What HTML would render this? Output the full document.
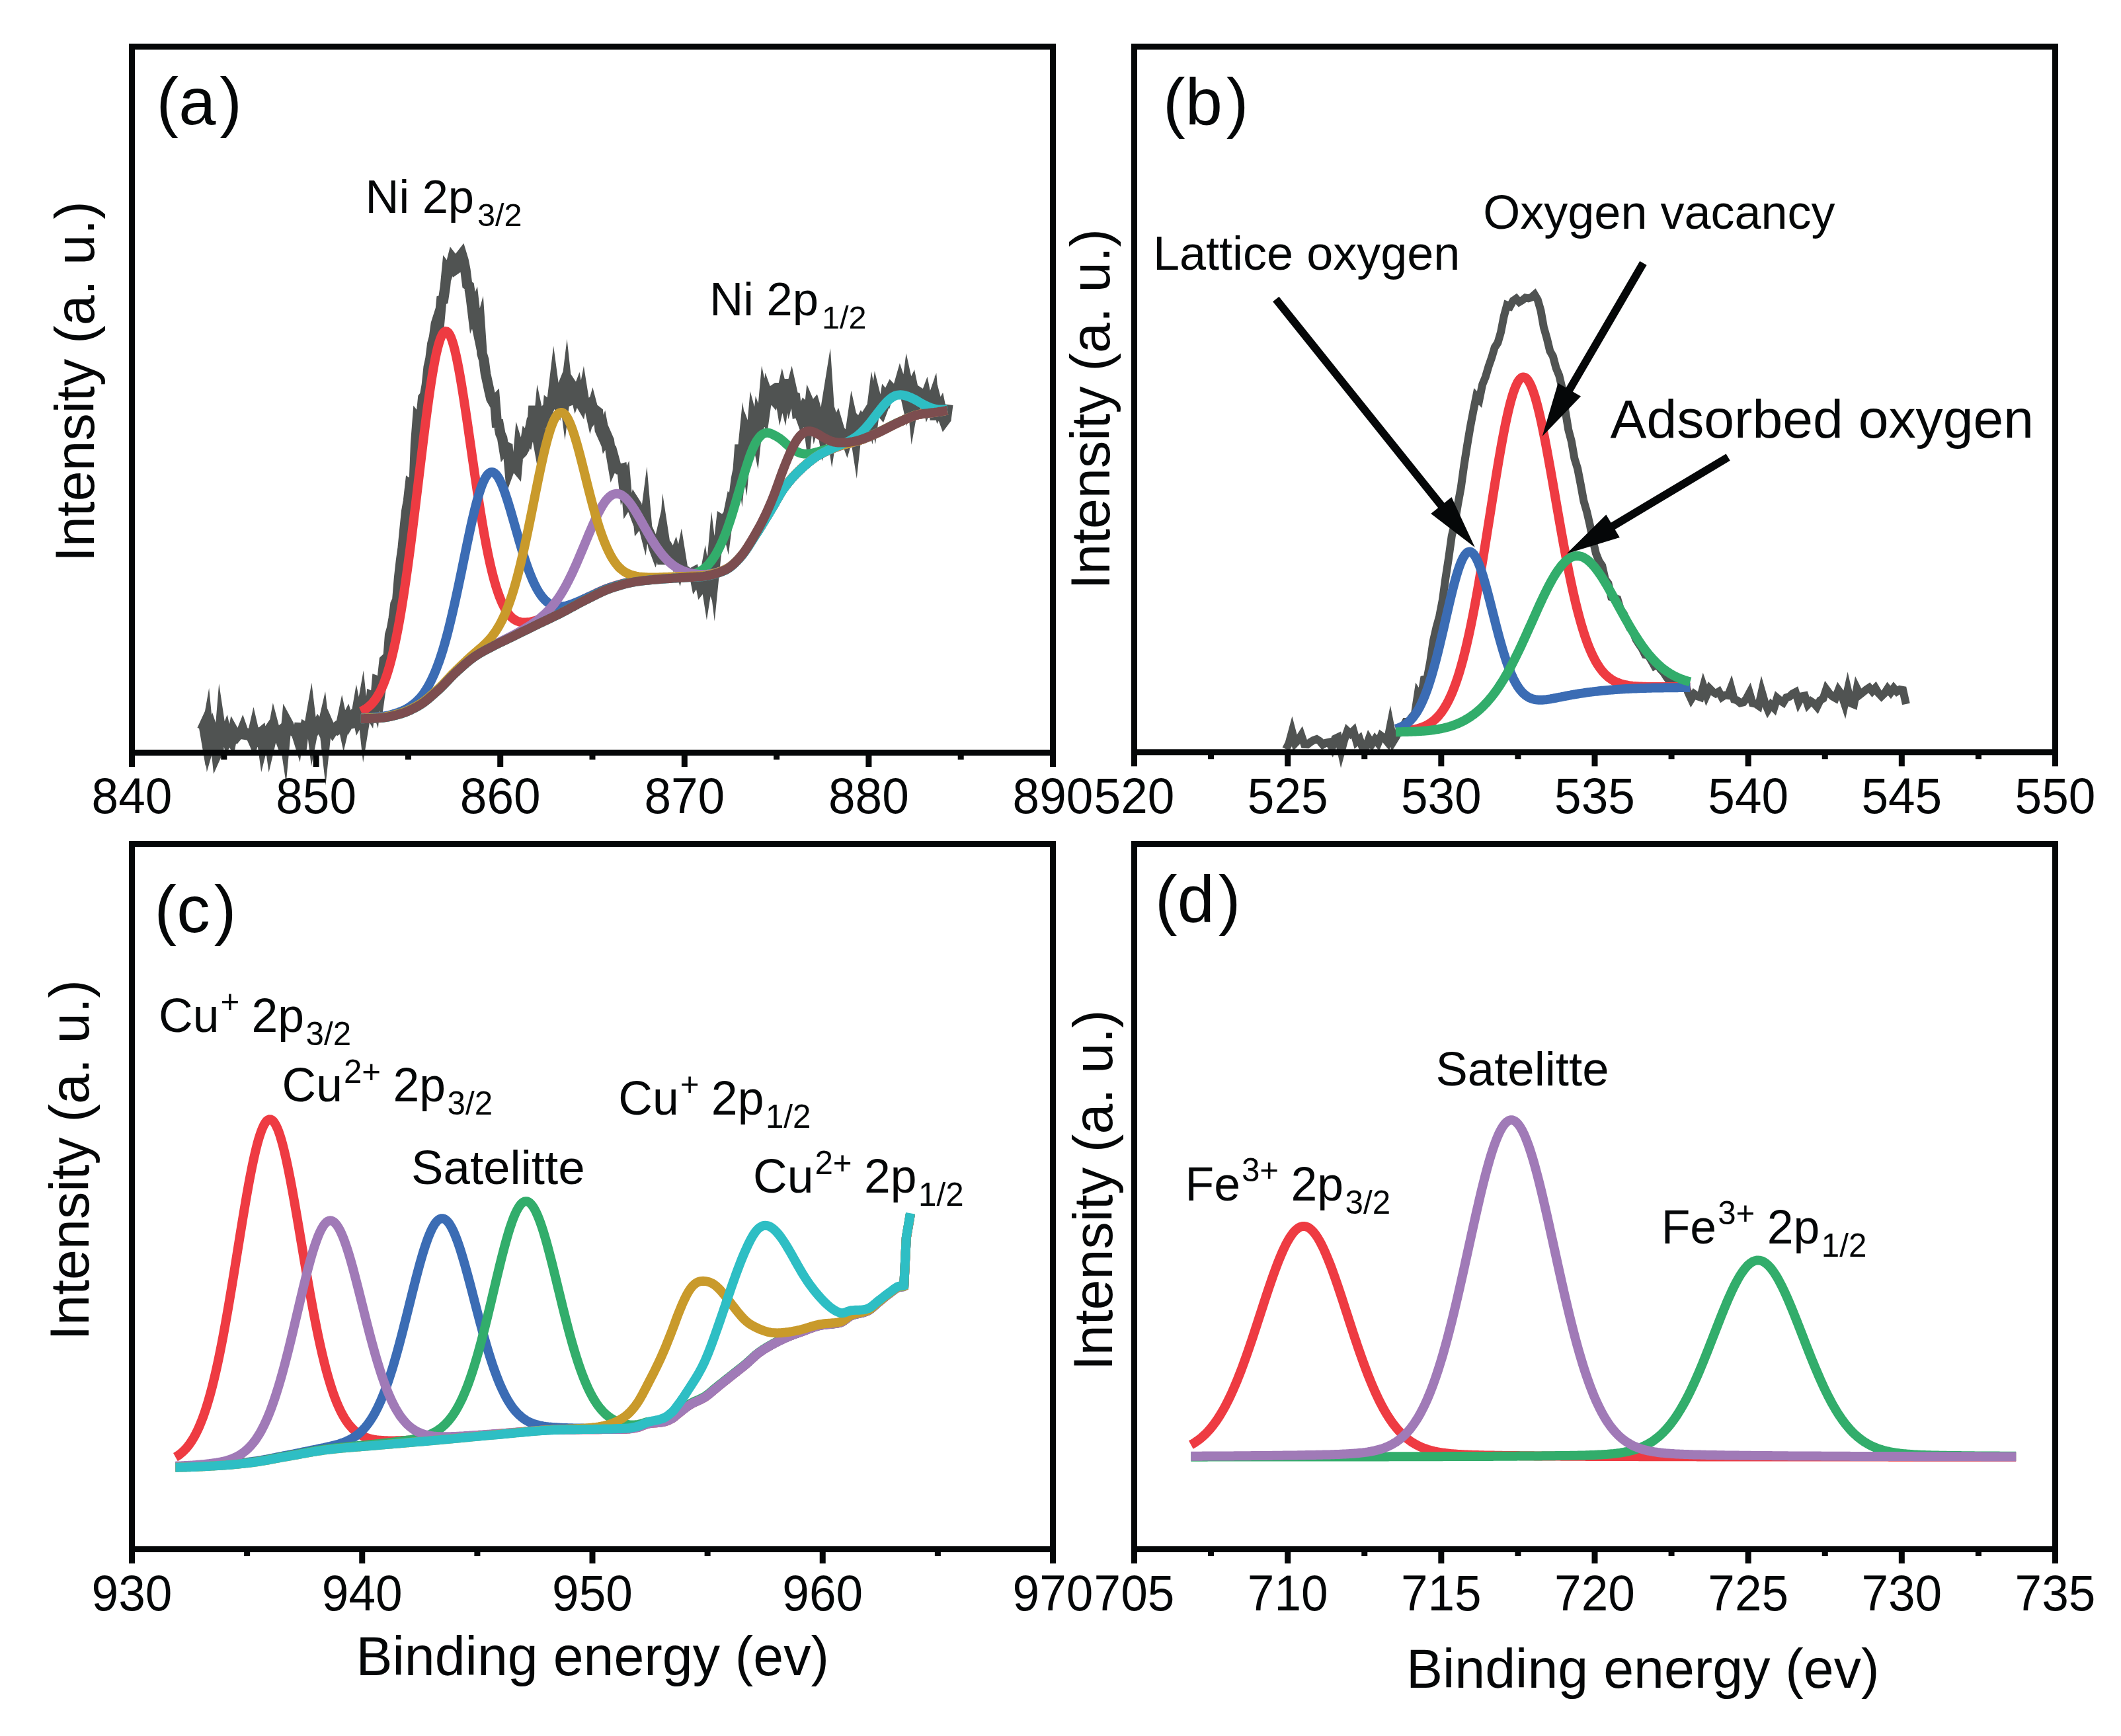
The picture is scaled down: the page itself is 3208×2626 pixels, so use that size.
<!DOCTYPE html>
<html lang="en"><head><meta charset="utf-8"><title>XPS spectra</title>
<style>html,body{margin:0;padding:0;background:#fff}svg{display:block}</style></head>
<body>
<svg width="3208" height="2626" viewBox="0 0 3208 2626" font-family="'Liberation Sans', sans-serif" fill="#050708">
<rect width="3208" height="2626" fill="#ffffff"/>
<g id="curves-a">
<polyline fill="none" stroke="#505352" stroke-width="15.5" stroke-linejoin="miter" stroke-linecap="butt" stroke-miterlimit="10" points="305.5,1104.1 308.3,1098.0 311.1,1114.4 313.9,1098.5 316.6,1126.8 319.4,1117.1 322.2,1105.7 325.0,1114.2 327.8,1141.1 330.6,1134.8 333.4,1101.1 336.1,1119.1 338.9,1114.3 341.7,1107.2 344.5,1119.6 347.3,1114.4 350.1,1119.6 352.9,1105.2 355.6,1110.0 358.4,1113.6 361.2,1110.2 364.0,1110.1 366.8,1103.1 369.6,1111.1 372.4,1111.6 375.2,1109.4 377.9,1109.8 380.7,1116.1 383.5,1103.9 386.3,1116.0 389.1,1108.3 391.9,1110.2 394.7,1107.9 397.4,1127.4 400.2,1116.3 403.0,1109.5 405.8,1105.4 408.6,1126.0 411.4,1114.1 414.2,1098.8 416.9,1109.0 419.7,1108.0 422.5,1115.4 425.3,1104.4 428.1,1102.1 430.9,1120.7 433.7,1090.6 436.4,1095.6 439.2,1103.5 442.0,1103.4 444.8,1106.8 447.6,1107.6 450.4,1116.5 453.2,1093.7 455.9,1134.0 458.7,1112.5 461.5,1099.8 464.3,1101.4 467.1,1101.9 469.9,1085.9 472.7,1109.3 475.4,1095.4 478.2,1100.2 481.0,1094.8 483.8,1098.9 486.6,1104.0 489.4,1091.8 492.2,1116.5 494.9,1090.8 497.7,1097.2 500.5,1100.9 503.3,1106.1 506.1,1101.8 508.9,1099.5 511.7,1103.0 514.5,1101.2 517.2,1088.4 520.0,1101.6 522.8,1089.8 525.6,1084.4 528.4,1093.0 531.2,1088.3 534.0,1093.9 536.7,1093.2 539.5,1077.0 542.3,1090.7 545.1,1085.7 547.9,1069.7 550.7,1095.7 553.5,1078.5 556.2,1073.4 559.0,1078.1 561.8,1053.0 564.6,1054.2 567.4,1062.9 570.2,1029.9 573.0,1031.0 575.7,1044.1 578.5,1024.1 581.3,998.6 584.1,996.0 586.9,996.8 589.7,960.4 592.5,950.7 595.2,935.5 598.0,913.7 600.8,907.6 603.6,873.7 606.4,848.6 609.2,828.5 612.0,799.7 614.7,773.4 617.5,757.5 620.3,732.9 623.1,734.8 625.9,740.1 628.7,670.5 631.5,634.1 634.2,637.6 637.0,629.5 639.8,601.5 642.6,597.9 645.4,582.1 648.2,555.3 651.0,542.5 653.8,519.9 656.5,510.0 659.3,489.8 662.1,481.0 664.9,484.5 667.7,454.0 670.5,453.1 673.3,434.2 676.0,406.4 678.8,410.1 681.6,401.6 684.4,390.5 687.2,394.1 690.0,406.7 692.8,404.7 695.5,388.2 698.3,384.6 701.1,393.8 703.9,408.2 706.7,430.7 709.5,432.7 712.3,450.8 715.0,473.1 717.8,465.8 720.6,490.8 723.4,504.3 726.2,494.0 729.0,535.0 731.8,544.4 734.5,565.3 737.3,578.2 740.1,591.4 742.9,603.3 745.7,608.2 748.5,605.3 751.3,640.2 754.0,640.7 756.8,656.0 759.6,662.5 762.4,679.6 765.2,675.7 768.0,677.0 770.8,710.2 773.5,702.9 776.3,700.3 779.1,705.7 781.9,709.1 784.7,677.6 787.5,686.6 790.3,683.8 793.1,678.7 795.8,661.0 798.6,664.0 801.4,649.7 804.2,653.5 807.0,614.0 809.8,646.3 812.6,661.8 815.3,633.0 818.1,646.3 820.9,624.5 823.7,621.4 826.5,646.4 829.3,612.2 832.1,614.3 834.8,607.8 837.6,584.5 840.4,605.2 843.2,610.8 846.0,590.9 848.8,589.5 851.6,582.5 854.3,603.6 857.1,580.7 859.9,606.7 862.7,605.6 865.5,583.2 868.3,587.4 871.1,599.3 873.8,592.1 876.6,608.1 879.4,612.9 882.2,598.4 885.0,615.9 887.8,615.6 890.6,612.8 893.3,625.1 896.1,615.3 898.9,625.9 901.7,621.1 904.5,623.3 907.3,650.7 910.1,657.0 912.8,649.7 915.6,664.7 918.4,659.8 921.2,666.2 924.0,686.5 926.8,702.9 929.6,696.4 932.4,706.8 935.1,709.6 937.9,709.4 940.7,708.7 943.5,734.6 946.3,728.2 949.1,761.4 951.9,756.9 954.6,764.1 957.4,771.5 960.2,759.6 963.0,764.0 965.8,791.4 968.6,787.8 971.4,788.8 974.1,799.4 976.9,777.8 979.7,810.0 982.5,806.4 985.3,812.5 988.1,827.0 990.9,834.6 993.6,826.1 996.4,822.7 999.2,810.6 1002.0,853.6 1004.8,815.3 1007.6,833.6 1010.4,836.3 1013.1,832.6 1015.9,837.6 1018.7,844.5 1021.5,836.9 1024.3,847.5 1027.1,856.4 1029.9,842.7 1032.6,859.5 1035.4,864.4 1038.2,864.5 1041.0,866.8 1043.8,868.7 1046.6,866.5 1049.4,865.0 1052.1,878.7 1054.9,874.3 1057.7,875.4 1060.5,889.1 1063.3,885.5 1066.1,870.3 1068.9,888.1 1071.7,870.2 1074.4,877.9 1077.2,846.9 1080.0,869.7 1082.8,841.7 1085.6,823.7 1088.4,810.9 1091.2,786.2 1093.9,787.9 1096.7,784.2 1099.5,796.0 1102.3,774.1 1105.1,760.3 1107.9,763.7 1110.7,745.1 1113.4,724.1 1116.2,710.4 1119.0,672.9 1121.8,696.5 1124.6,669.0 1127.4,687.1 1130.2,656.8 1132.9,664.3 1135.7,666.9 1138.5,635.7 1141.3,646.1 1144.1,659.7 1146.9,633.5 1149.7,641.3 1152.4,634.6 1155.2,603.7 1158.0,616.4 1160.8,596.2 1163.6,604.1 1166.4,600.3 1169.2,603.6 1171.9,588.5 1174.7,586.6 1177.5,586.1 1180.3,603.3 1183.1,590.9 1185.9,602.3 1188.7,580.9 1191.4,580.4 1194.2,597.2 1197.0,586.5 1199.8,599.1 1202.6,600.2 1205.4,624.0 1208.2,623.2 1211.0,631.0 1213.7,620.6 1216.5,614.4 1219.3,617.1 1222.1,638.2 1224.9,611.6 1227.7,618.1 1230.5,614.8 1233.2,634.1 1236.0,624.1 1238.8,633.7 1241.6,638.7 1244.4,654.4 1247.2,639.2 1250.0,612.1 1252.7,595.3 1255.5,636.8 1258.3,655.6 1261.1,637.4 1263.9,645.9 1266.7,639.4 1269.5,648.8 1272.2,658.7 1275.0,656.8 1277.8,660.2 1280.6,667.8 1283.4,658.1 1286.2,653.1 1289.0,633.8 1291.7,646.0 1294.5,664.3 1297.3,638.7 1300.1,641.7 1302.9,635.9 1305.7,640.2 1308.5,642.3 1311.2,626.6 1314.0,622.1 1316.8,632.4 1319.6,610.2 1322.4,624.3 1325.2,602.9 1328.0,614.2 1330.7,620.5 1333.5,623.9 1336.3,616.5 1339.1,598.8 1341.9,602.2 1344.7,592.7 1347.5,587.0 1350.3,590.0 1353.0,593.2 1355.8,588.6 1358.6,585.7 1361.4,575.8 1364.2,584.4 1367.0,587.2 1369.8,599.9 1372.5,579.3 1375.3,592.1 1378.1,586.5 1380.9,615.6 1383.7,599.8 1386.5,613.0 1389.3,607.8 1392.0,594.6 1394.8,596.4 1397.6,605.7 1400.4,598.1 1403.2,611.9 1406.0,604.8 1408.8,608.7 1411.5,601.0 1414.3,635.0 1417.1,609.9 1419.9,620.7 1422.7,615.7 1425.5,629.6 1428.3,637.4 1431.0,633.8 1433.8,611.9"/>
<polyline fill="none" stroke="#EE3B42" stroke-width="14.0" stroke-linejoin="round" stroke-linecap="butt" points="545.9,1076.2 547.9,1075.3 549.9,1074.3 551.9,1073.1 553.9,1071.9 555.9,1070.4 557.9,1068.8 559.9,1067.0 561.9,1065.1 563.9,1062.9 565.9,1060.4 567.9,1057.7 569.9,1054.8 571.9,1051.5 573.9,1048.0 575.9,1044.1 577.9,1039.8 579.9,1035.2 581.9,1030.0 583.9,1024.5 585.9,1018.4 587.9,1011.9 589.9,1004.8 591.9,997.2 593.9,989.1 595.9,980.4 597.9,971.2 599.9,961.4 601.9,951.1 603.9,940.2 605.9,928.7 607.9,916.7 609.9,904.0 611.9,890.8 613.9,877.1 615.9,862.9 617.9,848.2 619.9,833.0 621.9,817.5 623.9,801.6 625.9,785.4 627.9,769.0 629.9,752.5 631.9,735.8 633.9,719.1 635.9,702.5 637.9,685.9 639.9,669.4 641.9,653.2 643.9,637.4 645.9,622.0 647.9,607.2 649.9,593.0 651.9,579.5 653.9,566.9 655.9,555.2 657.9,544.4 659.9,534.8 661.9,526.4 663.9,519.1 665.9,512.9 667.9,508.1 669.9,504.4 671.9,502.1 673.9,501.1 675.9,501.4 677.9,503.0 679.9,505.9 681.9,510.0 683.9,515.4 685.9,521.9 687.9,529.5 689.9,538.1 691.9,547.7 693.9,558.1 695.9,569.2 697.9,581.0 699.9,593.3 701.9,606.1 703.9,619.3 705.9,632.8 707.9,646.5 709.9,660.4 711.9,674.4 713.9,688.4 715.9,702.3 717.9,716.2 719.9,729.8 721.9,743.3 723.9,756.4 725.9,769.3 727.9,781.7 729.9,793.7 731.9,805.3 733.9,816.3 735.9,826.9 737.9,837.0 739.9,846.5 741.9,855.5 743.9,863.9 745.9,871.8 747.9,879.2 749.9,886.1 751.9,892.4 753.9,898.3 755.9,903.7 757.9,908.6 759.9,913.1 761.9,917.2 763.9,920.9 765.9,924.2 767.9,927.1 769.9,929.7 771.9,932.0 773.9,934.0 775.9,935.6 777.9,937.1 779.9,938.3 781.9,939.3 783.9,940.0 785.9,940.7 787.9,941.1 789.9,941.4 791.9,941.5 793.9,941.6 795.9,941.5 797.9,941.3 799.9,941.1 801.9,940.8 803.9,940.4 805.9,939.9 807.9,939.4 809.9,938.8 811.9,938.2 813.9,937.6 815.9,937.0 817.9,936.3 819.9,935.6 821.9,934.8 823.9,934.1 825.9,933.3 827.9,932.6 829.9,931.8 831.9,931.0 833.9,930.1 835.9,929.3 837.9,928.4 839.9,927.6 841.9,926.7 843.9,925.8 845.9,924.9 847.9,924.0 849.9,923.0 851.9,922.1 853.9,921.1 855.9,920.1 857.9,919.1 859.9,918.1 861.9,917.1 863.9,916.1 865.9,915.0 867.9,914.0 869.9,913.0 871.9,911.9 873.9,910.9 875.9,909.9 877.9,908.9 879.9,907.9 881.9,906.9 883.9,906.0 885.9,905.0 887.9,904.1 889.9,903.1 891.9,902.1 893.9,901.2 895.9,900.2 897.9,899.2 899.9,898.2 901.9,897.3 903.9,896.3 905.9,895.4 907.9,894.5 909.9,893.6 911.9,892.7 913.9,891.8 915.9,891.0 917.9,890.2 919.9,889.5 921.9,888.8 923.9,888.1 925.9,887.5 927.9,886.8 929.9,886.2 931.9,885.6 933.9,885.0 935.9,884.4 937.9,883.9 939.9,883.3 941.9,882.8 943.9,882.3 945.9,881.7 947.9,881.3 949.9,880.8 951.9,880.4 953.9,879.9 955.9,879.6 957.9,879.2 959.9,878.9 961.9,878.6 963.9,878.3 965.9,878.0 967.9,877.8 969.9,877.5 971.9,877.3 973.9,877.1 975.9,876.9 977.9,876.7 979.9,876.5 981.9,876.3 983.9,876.1 985.9,876.0 987.9,875.8 989.9,875.6 991.9,875.5 993.9,875.3 995.9,875.2 997.9,875.0 999.9,874.9 1001.9,874.8 1003.9,874.6 1005.9,874.5 1007.9,874.4 1009.9,874.2 1011.9,874.1 1013.9,874.0 1015.9,873.9 1017.9,873.8 1019.9,873.7 1021.9,873.6 1023.9,873.5 1025.9,873.3 1027.9,873.2 1029.9,873.1 1031.9,873.0 1033.9,872.9 1035.9,872.8 1037.9,872.7 1039.9,872.6 1041.9,872.5 1043.9,872.4 1045.9,872.3 1047.9,872.3 1049.9,872.2 1051.9,872.1 1053.9,872.0 1055.9,871.9 1057.9,871.8 1059.9,871.7 1061.9,871.5 1063.9,871.3 1065.9,871.1 1067.9,870.7 1069.9,870.4 1071.9,870.0 1073.9,869.5 1075.9,869.1 1077.9,868.6 1079.9,868.1 1081.9,867.6 1083.9,867.0 1085.9,866.3 1087.9,865.6 1089.9,864.8 1091.9,864.1 1093.9,863.3 1095.9,862.4 1097.9,861.5 1099.9,860.4 1101.9,859.2 1103.9,857.8 1105.9,856.2 1107.9,854.6 1109.9,852.8 1111.9,850.9 1113.9,848.9 1115.9,846.8 1117.9,844.7 1119.9,842.5 1121.9,840.2 1123.9,837.7 1125.9,835.0 1127.9,832.2 1129.9,829.3 1131.9,826.2 1133.9,823.1 1135.9,819.9 1137.9,816.8 1139.9,813.6 1141.9,810.4 1143.9,807.3 1145.9,804.2 1147.9,801.0 1149.9,797.9 1151.9,794.6 1153.9,791.4 1155.9,788.1 1157.9,784.9 1159.9,781.6 1161.9,778.3 1163.9,775.0 1165.9,771.6 1167.9,768.3 1169.9,765.0 1171.9,761.5 1173.9,757.9 1175.9,754.4 1177.9,750.9 1179.9,747.5 1181.9,744.2 1183.9,741.1 1185.9,738.3 1187.9,735.6 1189.9,733.0 1191.9,730.4 1193.9,728.0 1195.9,725.6 1197.9,723.3 1199.9,721.0 1201.9,718.9 1203.9,716.8 1205.9,714.8 1207.9,712.8 1209.9,710.9 1211.9,709.0 1213.9,707.2 1215.9,705.4 1217.9,703.6 1219.9,701.9 1221.9,700.2 1223.9,698.6 1225.9,697.0 1227.9,695.4 1229.9,694.0 1231.9,692.5 1233.9,691.2 1235.9,689.9 1237.9,688.7 1239.9,687.5 1241.9,686.4 1243.9,685.4 1245.9,684.4 1247.9,683.4 1249.9,682.4 1251.9,681.5 1253.9,680.7 1255.9,679.8 1257.9,679.0 1259.9,678.2 1261.9,677.4 1263.9,676.7 1265.9,676.0 1267.9,675.2 1269.9,674.6 1271.9,673.9 1273.9,673.3 1275.9,672.7 1277.9,672.1 1279.9,671.6 1281.9,671.1 1283.9,670.6 1285.9,670.1 1287.9,669.6 1289.9,669.0 1291.9,668.5 1293.9,668.0 1295.9,667.4 1297.9,666.7 1299.9,666.1 1301.9,665.4 1303.9,664.7 1305.9,663.9 1307.9,663.1 1309.9,662.3 1311.9,661.5 1313.9,660.7 1315.9,659.8 1317.9,658.9 1319.9,658.1 1321.9,657.2 1323.9,656.3 1325.9,655.4 1327.9,654.4 1329.9,653.5 1331.9,652.6 1333.9,651.6 1335.9,650.6 1337.9,649.6 1339.9,648.6 1341.9,647.5 1343.9,646.5 1345.9,645.4 1347.9,644.4 1349.9,643.4 1351.9,642.3 1353.9,641.4 1355.9,640.4 1357.9,639.5 1359.9,638.6 1361.9,637.7 1363.9,636.8 1365.9,635.8 1367.9,634.9 1369.9,634.0 1371.9,633.1 1373.9,632.2 1375.9,631.4 1377.9,630.5 1379.9,629.8 1381.9,629.1 1383.9,628.4 1385.9,627.8 1387.9,627.3 1389.9,626.9 1391.9,626.5 1393.9,626.2 1395.9,625.9 1397.9,625.6 1399.9,625.3 1401.9,625.1 1403.9,624.9 1405.9,624.6 1407.9,624.4 1409.9,624.2 1411.9,624.0 1413.9,623.7 1415.9,623.5 1417.9,623.2 1419.9,622.9 1421.9,622.6 1423.9,622.2 1425.9,621.9 1427.9,621.5 1429.9,621.2 1431.9,620.8 1433.0,620.6"/>
<polyline fill="none" stroke="#3B6CB4" stroke-width="14.0" stroke-linejoin="round" stroke-linecap="butt" points="545.9,1085.8 547.9,1085.8 549.9,1085.7 551.9,1085.6 553.9,1085.6 555.9,1085.5 557.9,1085.4 559.9,1085.2 561.9,1085.1 563.9,1085.0 565.9,1084.8 567.9,1084.6 569.9,1084.5 571.9,1084.3 573.9,1084.1 575.9,1083.9 577.9,1083.7 579.9,1083.5 581.9,1083.2 583.9,1082.8 585.9,1082.4 587.9,1082.0 589.9,1081.5 591.9,1081.0 593.9,1080.4 595.9,1079.8 597.9,1079.2 599.9,1078.5 601.9,1077.9 603.9,1077.1 605.9,1076.4 607.9,1075.6 609.9,1074.7 611.9,1073.8 613.9,1072.7 615.9,1071.6 617.9,1070.4 619.9,1069.1 621.9,1067.7 623.9,1066.2 625.9,1064.7 627.9,1063.0 629.9,1061.2 631.9,1059.3 633.9,1057.3 635.9,1055.1 637.9,1052.7 639.9,1050.1 641.9,1047.2 643.9,1044.2 645.9,1040.9 647.9,1037.5 649.9,1033.8 651.9,1029.8 653.9,1025.7 655.9,1021.3 657.9,1016.7 659.9,1011.8 661.9,1006.6 663.9,1001.2 665.9,995.4 667.9,989.3 669.9,982.9 671.9,976.1 673.9,969.0 675.9,961.6 677.9,953.9 679.9,945.9 681.9,937.7 683.9,929.2 685.9,920.5 687.9,911.6 689.9,902.5 691.9,893.3 693.9,883.9 695.9,874.3 697.9,864.7 699.9,854.9 701.9,845.2 703.9,835.4 705.9,825.7 707.9,816.1 709.9,806.6 711.9,797.3 713.9,788.4 715.9,779.7 717.9,771.4 719.9,763.5 721.9,756.0 723.9,749.1 725.9,742.7 727.9,736.8 729.9,731.6 731.9,727.0 733.9,723.1 735.9,719.9 737.9,717.4 739.9,715.6 741.9,714.5 743.9,714.2 745.9,714.5 747.9,715.6 749.9,717.3 751.9,719.7 753.9,722.7 755.9,726.4 757.9,730.6 759.9,735.3 761.9,740.4 763.9,746.0 765.9,751.9 767.9,758.2 769.9,764.7 771.9,771.3 773.9,778.2 775.9,785.2 777.9,792.2 779.9,799.2 781.9,806.2 783.9,813.2 785.9,820.1 787.9,826.8 789.9,833.5 791.9,839.9 793.9,846.1 795.9,852.1 797.9,857.8 799.9,863.3 801.9,868.5 803.9,873.5 805.9,878.1 807.9,882.5 809.9,886.6 811.9,890.4 813.9,893.9 815.9,897.1 817.9,900.0 819.9,902.7 821.9,905.1 823.9,907.3 825.9,909.2 827.9,910.9 829.9,912.4 831.9,913.7 833.9,914.8 835.9,915.6 837.9,916.3 839.9,916.9 841.9,917.3 843.9,917.5 845.9,917.6 847.9,917.6 849.9,917.5 851.9,917.3 853.9,916.9 855.9,916.5 857.9,916.0 859.9,915.4 861.9,914.8 863.9,914.1 865.9,913.4 867.9,912.6 869.9,911.8 871.9,911.0 873.9,910.1 875.9,909.2 877.9,908.4 879.9,907.5 881.9,906.6 883.9,905.7 885.9,904.8 887.9,903.9 889.9,903.0 891.9,902.1 893.9,901.2 895.9,900.2 897.9,899.3 899.9,898.4 901.9,897.4 903.9,896.5 905.9,895.6 907.9,894.7 909.9,893.8 911.9,892.9 913.9,892.1 915.9,891.3 917.9,890.5 919.9,889.7 921.9,889.0 923.9,888.4 925.9,887.7 927.9,887.1 929.9,886.5 931.9,885.9 933.9,885.3 935.9,884.7 937.9,884.2 939.9,883.6 941.9,883.1 943.9,882.5 945.9,882.0 947.9,881.6 949.9,881.1 951.9,880.7 953.9,880.2 955.9,879.9 957.9,879.5 959.9,879.2 961.9,878.9 963.9,878.6 965.9,878.3 967.9,878.1 969.9,877.8 971.9,877.6 973.9,877.4 975.9,877.2 977.9,877.0 979.9,876.8 981.9,876.6 983.9,876.4 985.9,876.3 987.9,876.1 989.9,875.9 991.9,875.8 993.9,875.6 995.9,875.5 997.9,875.3 999.9,875.2 1001.9,875.0 1003.9,874.9 1005.9,874.8 1007.9,874.6 1009.9,874.5 1011.9,874.4 1013.9,874.3 1015.9,874.2 1017.9,874.1 1019.9,873.9 1021.9,873.8 1023.9,873.7 1025.9,873.6 1027.9,873.5 1029.9,873.4 1031.9,873.3 1033.9,873.2 1035.9,873.1 1037.9,873.0 1039.9,872.9 1041.9,872.8 1043.9,872.7 1045.9,872.6 1047.9,872.5 1049.9,872.4 1051.9,872.4 1053.9,872.3 1055.9,872.2 1057.9,872.1 1059.9,871.9 1061.9,871.8 1063.9,871.6 1065.9,871.3 1067.9,871.0 1069.9,870.6 1071.9,870.2 1073.9,869.8 1075.9,869.3 1077.9,868.8 1079.9,868.3 1081.9,867.8 1083.9,867.2 1085.9,866.5 1087.9,865.8 1089.9,865.1 1091.9,864.3 1093.9,863.5 1095.9,862.7 1097.9,861.7 1099.9,860.6 1101.9,859.4 1103.9,858.0 1105.9,856.5 1107.9,854.8 1109.9,853.0 1111.9,851.1 1113.9,849.1 1115.9,847.0 1117.9,844.9 1119.9,842.7 1121.9,840.4 1123.9,837.9 1125.9,835.2 1127.9,832.4 1129.9,829.5 1131.9,826.4 1133.9,823.3 1135.9,820.2 1137.9,817.0 1139.9,813.8 1141.9,810.6 1143.9,807.5 1145.9,804.4 1147.9,801.2 1149.9,798.1 1151.9,794.8 1153.9,791.6 1155.9,788.3 1157.9,785.1 1159.9,781.8 1161.9,778.4 1163.9,775.1 1165.9,771.8 1167.9,768.5 1169.9,765.2 1171.9,761.7 1173.9,758.1 1175.9,754.6 1177.9,751.1 1179.9,747.7 1181.9,744.4 1183.9,741.3 1185.9,738.4 1187.9,735.7 1189.9,733.1 1191.9,730.6 1193.9,728.1 1195.9,725.8 1197.9,723.4 1199.9,721.2 1201.9,719.0 1203.9,716.9 1205.9,714.9 1207.9,713.0 1209.9,711.1 1211.9,709.2 1213.9,707.4 1215.9,705.6 1217.9,703.8 1219.9,702.1 1221.9,700.4 1223.9,698.7 1225.9,697.1 1227.9,695.6 1229.9,694.1 1231.9,692.7 1233.9,691.3 1235.9,690.0 1237.9,688.8 1239.9,687.7 1241.9,686.6 1243.9,685.5 1245.9,684.5 1247.9,683.5 1249.9,682.6 1251.9,681.7 1253.9,680.8 1255.9,680.0 1257.9,679.1 1259.9,678.3 1261.9,677.6 1263.9,676.8 1265.9,676.1 1267.9,675.4 1269.9,674.7 1271.9,674.0 1273.9,673.4 1275.9,672.8 1277.9,672.3 1279.9,671.7 1281.9,671.2 1283.9,670.7 1285.9,670.2 1287.9,669.7 1289.9,669.2 1291.9,668.6 1293.9,668.1 1295.9,667.5 1297.9,666.9 1299.9,666.2 1301.9,665.5 1303.9,664.8 1305.9,664.0 1307.9,663.3 1309.9,662.5 1311.9,661.6 1313.9,660.8 1315.9,659.9 1317.9,659.1 1319.9,658.2 1321.9,657.3 1323.9,656.4 1325.9,655.5 1327.9,654.6 1329.9,653.7 1331.9,652.7 1333.9,651.7 1335.9,650.8 1337.9,649.7 1339.9,648.7 1341.9,647.7 1343.9,646.6 1345.9,645.6 1347.9,644.5 1349.9,643.5 1351.9,642.5 1353.9,641.5 1355.9,640.5 1357.9,639.6 1359.9,638.7 1361.9,637.8 1363.9,636.9 1365.9,635.9 1367.9,635.0 1369.9,634.1 1371.9,633.2 1373.9,632.3 1375.9,631.5 1377.9,630.6 1379.9,629.9 1381.9,629.2 1383.9,628.5 1385.9,627.9 1387.9,627.4 1389.9,627.0 1391.9,626.6 1393.9,626.3 1395.9,626.0 1397.9,625.7 1399.9,625.4 1401.9,625.2 1403.9,625.0 1405.9,624.7 1407.9,624.5 1409.9,624.3 1411.9,624.1 1413.9,623.8 1415.9,623.6 1417.9,623.3 1419.9,623.0 1421.9,622.7 1423.9,622.3 1425.9,622.0 1427.9,621.6 1429.9,621.3 1431.9,620.9 1433.0,620.7"/>
<polyline fill="none" stroke="#32AD6B" stroke-width="14.0" stroke-linejoin="round" stroke-linecap="butt" points="545.9,1087.1 547.9,1087.1 549.9,1087.1 551.9,1087.1 553.9,1087.0 555.9,1087.0 557.9,1086.9 559.9,1086.8 561.9,1086.7 563.9,1086.6 565.9,1086.5 567.9,1086.4 569.9,1086.2 571.9,1086.1 573.9,1086.0 575.9,1085.8 577.9,1085.7 579.9,1085.5 581.9,1085.2 583.9,1084.9 585.9,1084.6 587.9,1084.2 589.9,1083.8 591.9,1083.4 593.9,1082.9 595.9,1082.4 597.9,1081.9 599.9,1081.4 601.9,1080.9 603.9,1080.3 605.9,1079.7 607.9,1079.1 609.9,1078.5 611.9,1077.8 613.9,1077.0 615.9,1076.2 617.9,1075.3 619.9,1074.4 621.9,1073.5 623.9,1072.5 625.9,1071.5 627.9,1070.5 629.9,1069.4 631.9,1068.3 633.9,1067.1 635.9,1065.9 637.9,1064.6 639.9,1063.2 641.9,1061.8 643.9,1060.2 645.9,1058.6 647.9,1057.0 649.9,1055.3 651.9,1053.6 653.9,1051.8 655.9,1050.1 657.9,1048.3 659.9,1046.5 661.9,1044.7 663.9,1042.9 665.9,1041.0 667.9,1039.0 669.9,1037.0 671.9,1035.0 673.9,1032.9 675.9,1030.8 677.9,1028.7 679.9,1026.6 681.9,1024.5 683.9,1022.5 685.9,1020.5 687.9,1018.5 689.9,1016.7 691.9,1014.8 693.9,1013.0 695.9,1011.2 697.9,1009.4 699.9,1007.6 701.9,1005.8 703.9,1004.1 705.9,1002.4 707.9,1000.7 709.9,999.1 711.9,997.5 713.9,995.9 715.9,994.5 717.9,993.1 719.9,991.7 721.9,990.5 723.9,989.2 725.9,988.0 727.9,986.8 729.9,985.7 731.9,984.6 733.9,983.5 735.9,982.4 737.9,981.4 739.9,980.3 741.9,979.3 743.9,978.3 745.9,977.2 747.9,976.2 749.9,975.2 751.9,974.2 753.9,973.2 755.9,972.2 757.9,971.2 759.9,970.3 761.9,969.3 763.9,968.4 765.9,967.4 767.9,966.5 769.9,965.5 771.9,964.5 773.9,963.6 775.9,962.6 777.9,961.6 779.9,960.6 781.9,959.6 783.9,958.6 785.9,957.7 787.9,956.7 789.9,955.7 791.9,954.7 793.9,953.7 795.9,952.7 797.9,951.7 799.9,950.7 801.9,949.7 803.9,948.7 805.9,947.8 807.9,946.8 809.9,945.8 811.9,944.8 813.9,943.9 815.9,942.9 817.9,942.0 819.9,941.0 821.9,940.1 823.9,939.1 825.9,938.2 827.9,937.2 829.9,936.2 831.9,935.3 833.9,934.3 835.9,933.4 837.9,932.4 839.9,931.4 841.9,930.4 843.9,929.4 845.9,928.4 847.9,927.4 849.9,926.4 851.9,925.4 853.9,924.3 855.9,923.2 857.9,922.2 859.9,921.1 861.9,920.0 863.9,918.9 865.9,917.8 867.9,916.7 869.9,915.6 871.9,914.5 873.9,913.4 875.9,912.4 877.9,911.3 879.9,910.3 881.9,909.2 883.9,908.2 885.9,907.2 887.9,906.2 889.9,905.2 891.9,904.2 893.9,903.2 895.9,902.1 897.9,901.1 899.9,900.1 901.9,899.1 903.9,898.1 905.9,897.1 907.9,896.2 909.9,895.2 911.9,894.3 913.9,893.4 915.9,892.6 917.9,891.7 919.9,891.0 921.9,890.2 923.9,889.5 925.9,888.8 927.9,888.2 929.9,887.5 931.9,886.9 933.9,886.2 935.9,885.6 937.9,885.0 939.9,884.4 941.9,883.9 943.9,883.3 945.9,882.8 947.9,882.2 949.9,881.7 951.9,881.3 953.9,880.8 955.9,880.4 957.9,880.0 959.9,879.6 961.9,879.3 963.9,879.0 965.9,878.7 967.9,878.4 969.9,878.1 971.9,877.9 973.9,877.6 975.9,877.4 977.9,877.2 979.9,876.9 981.9,876.7 983.9,876.5 985.9,876.3 987.9,876.1 989.9,875.9 991.9,875.7 993.9,875.5 995.9,875.3 997.9,875.1 999.9,875.0 1001.9,874.8 1003.9,874.6 1005.9,874.4 1007.9,874.2 1009.9,874.0 1011.9,873.9 1013.9,873.7 1015.9,873.5 1017.9,873.3 1019.9,873.1 1021.9,872.9 1023.9,872.7 1025.9,872.5 1027.9,872.2 1029.9,872.0 1031.9,871.7 1033.9,871.4 1035.9,871.1 1037.9,870.7 1039.9,870.3 1041.9,869.9 1043.9,869.5 1045.9,869.0 1047.9,868.4 1049.9,867.8 1051.9,867.1 1053.9,866.4 1055.9,865.5 1057.9,864.6 1059.9,863.5 1061.9,862.3 1063.9,860.9 1065.9,859.3 1067.9,857.6 1069.9,855.6 1071.9,853.5 1073.9,851.1 1075.9,848.6 1077.9,845.8 1079.9,842.9 1081.9,839.7 1083.9,836.3 1085.9,832.6 1087.9,828.7 1089.9,824.5 1091.9,820.1 1093.9,815.6 1095.9,810.7 1097.9,805.6 1099.9,800.3 1101.9,794.6 1103.9,788.7 1105.9,782.5 1107.9,776.1 1109.9,769.5 1111.9,762.8 1113.9,756.1 1115.9,749.3 1117.9,742.5 1119.9,735.8 1121.9,729.1 1123.9,722.4 1125.9,715.7 1127.9,709.2 1129.9,702.8 1131.9,696.7 1133.9,690.9 1135.9,685.4 1137.9,680.3 1139.9,675.7 1141.9,671.5 1143.9,667.9 1145.9,664.8 1147.9,662.1 1149.9,659.8 1151.9,658.0 1153.9,656.6 1155.9,655.6 1157.9,655.0 1159.9,654.7 1161.9,654.8 1163.9,655.2 1165.9,655.8 1167.9,656.7 1169.9,657.7 1171.9,658.7 1173.9,659.8 1175.9,661.0 1177.9,662.2 1179.9,663.6 1181.9,665.1 1183.9,666.7 1185.9,668.5 1187.9,670.4 1189.9,672.2 1191.9,673.9 1193.9,675.6 1195.9,677.2 1197.9,678.7 1199.9,680.1 1201.9,681.4 1203.9,682.5 1205.9,683.5 1207.9,684.4 1209.9,685.1 1211.9,685.7 1213.9,686.2 1215.9,686.5 1217.9,686.6 1219.9,686.6 1221.9,686.5 1223.9,686.3 1225.9,686.0 1227.9,685.7 1229.9,685.3 1231.9,684.8 1233.9,684.3 1235.9,683.7 1237.9,683.2 1239.9,682.6 1241.9,682.0 1243.9,681.5 1245.9,680.8 1247.9,680.2 1249.9,679.6 1251.9,679.0 1253.9,678.3 1255.9,677.7 1257.9,677.1 1259.9,676.4 1261.9,675.8 1263.9,675.2 1265.9,674.6 1267.9,673.9 1269.9,673.3 1271.9,672.8 1273.9,672.2 1275.9,671.7 1277.9,671.2 1279.9,670.7 1281.9,670.2 1283.9,669.7 1285.9,669.3 1287.9,668.8 1289.9,668.3 1291.9,667.8 1293.9,667.3 1295.9,666.7 1297.9,666.1 1299.9,665.5 1301.9,664.8 1303.9,664.1 1305.9,663.4 1307.9,662.6 1309.9,661.8 1311.9,661.0 1313.9,660.2 1315.9,659.3 1317.9,658.5 1319.9,657.6 1321.9,656.7 1323.9,655.8 1325.9,655.0 1327.9,654.1 1329.9,653.2 1331.9,652.2 1333.9,651.3 1335.9,650.3 1337.9,649.3 1339.9,648.3 1341.9,647.2 1343.9,646.2 1345.9,645.1 1347.9,644.1 1349.9,643.1 1351.9,642.1 1353.9,641.1 1355.9,640.1 1357.9,639.2 1359.9,638.3 1361.9,637.4 1363.9,636.5 1365.9,635.6 1367.9,634.7 1369.9,633.8 1371.9,632.9 1373.9,632.0 1375.9,631.2 1377.9,630.4 1379.9,629.6 1381.9,628.9 1383.9,628.2 1385.9,627.7 1387.9,627.2 1389.9,626.7 1391.9,626.4 1393.9,626.0 1395.9,625.7 1397.9,625.5 1399.9,625.2 1401.9,625.0 1403.9,624.8 1405.9,624.5 1407.9,624.3 1409.9,624.1 1411.9,623.9 1413.9,623.6 1415.9,623.4 1417.9,623.1 1419.9,622.8 1421.9,622.5 1423.9,622.2 1425.9,621.8 1427.9,621.5 1429.9,621.1 1431.9,620.7 1433.0,620.5"/>
<polyline fill="none" stroke="#A07AB7" stroke-width="14.0" stroke-linejoin="round" stroke-linecap="butt" points="545.9,1086.9 547.9,1086.9 549.9,1086.9 551.9,1086.9 553.9,1086.8 555.9,1086.8 557.9,1086.7 559.9,1086.6 561.9,1086.5 563.9,1086.4 565.9,1086.3 567.9,1086.1 569.9,1086.0 571.9,1085.9 573.9,1085.7 575.9,1085.6 577.9,1085.4 579.9,1085.2 581.9,1085.0 583.9,1084.7 585.9,1084.3 587.9,1084.0 589.9,1083.6 591.9,1083.1 593.9,1082.7 595.9,1082.2 597.9,1081.7 599.9,1081.1 601.9,1080.6 603.9,1080.0 605.9,1079.5 607.9,1078.9 609.9,1078.2 611.9,1077.5 613.9,1076.7 615.9,1075.9 617.9,1075.0 619.9,1074.1 621.9,1073.2 623.9,1072.2 625.9,1071.2 627.9,1070.1 629.9,1069.1 631.9,1067.9 633.9,1066.8 635.9,1065.6 637.9,1064.3 639.9,1062.9 641.9,1061.4 643.9,1059.9 645.9,1058.3 647.9,1056.6 649.9,1054.9 651.9,1053.2 653.9,1051.4 655.9,1049.7 657.9,1047.9 659.9,1046.1 661.9,1044.3 663.9,1042.5 665.9,1040.6 667.9,1038.6 669.9,1036.6 671.9,1034.5 673.9,1032.4 675.9,1030.3 677.9,1028.2 679.9,1026.1 681.9,1024.0 683.9,1022.0 685.9,1020.0 687.9,1018.0 689.9,1016.1 691.9,1014.3 693.9,1012.5 695.9,1010.6 697.9,1008.8 699.9,1007.0 701.9,1005.2 703.9,1003.5 705.9,1001.8 707.9,1000.1 709.9,998.4 711.9,996.8 713.9,995.3 715.9,993.8 717.9,992.4 719.9,991.0 721.9,989.7 723.9,988.5 725.9,987.3 727.9,986.1 729.9,984.9 731.9,983.8 733.9,982.7 735.9,981.6 737.9,980.5 739.9,979.5 741.9,978.4 743.9,977.3 745.9,976.3 747.9,975.2 749.9,974.2 751.9,973.1 753.9,972.1 755.9,971.1 757.9,970.1 759.9,969.1 761.9,968.1 763.9,967.1 765.9,966.1 767.9,965.1 769.9,964.1 771.9,963.1 773.9,962.0 775.9,961.0 777.9,959.9 779.9,958.8 781.9,957.7 783.9,956.6 785.9,955.5 787.9,954.4 789.9,953.2 791.9,952.0 793.9,950.8 795.9,949.6 797.9,948.4 799.9,947.1 801.9,945.8 803.9,944.5 805.9,943.1 807.9,941.7 809.9,940.3 811.9,938.8 813.9,937.3 815.9,935.7 817.9,934.1 819.9,932.4 821.9,930.7 823.9,928.9 825.9,927.0 827.9,925.0 829.9,922.9 831.9,920.8 833.9,918.5 835.9,916.1 837.9,913.7 839.9,911.1 841.9,908.4 843.9,905.6 845.9,902.6 847.9,899.6 849.9,896.3 851.9,893.0 853.9,889.5 855.9,885.9 857.9,882.1 859.9,878.2 861.9,874.2 863.9,870.1 865.9,865.9 867.9,861.5 869.9,857.1 871.9,852.6 873.9,848.0 875.9,843.3 877.9,838.6 879.9,833.8 881.9,829.0 883.9,824.2 885.9,819.4 887.9,814.6 889.9,809.8 891.9,805.1 893.9,800.4 895.9,795.8 897.9,791.2 899.9,786.8 901.9,782.5 903.9,778.3 905.9,774.3 907.9,770.6 909.9,767.0 911.9,763.7 913.9,760.6 915.9,757.8 917.9,755.4 919.9,753.2 921.9,751.3 923.9,749.8 925.9,748.6 927.9,747.7 929.9,747.1 931.9,746.8 933.9,746.8 935.9,747.2 937.9,747.8 939.9,748.8 941.9,750.0 943.9,751.5 945.9,753.2 947.9,755.2 949.9,757.4 951.9,759.9 953.9,762.5 955.9,765.3 957.9,768.3 959.9,771.4 961.9,774.6 963.9,778.0 965.9,781.4 967.9,784.9 969.9,788.5 971.9,792.0 973.9,795.6 975.9,799.1 977.9,802.6 979.9,806.1 981.9,809.6 983.9,813.0 985.9,816.3 987.9,819.5 989.9,822.6 991.9,825.7 993.9,828.6 995.9,831.5 997.9,834.2 999.9,836.8 1001.9,839.3 1003.9,841.6 1005.9,843.9 1007.9,846.0 1009.9,848.0 1011.9,849.9 1013.9,851.6 1015.9,853.3 1017.9,854.9 1019.9,856.3 1021.9,857.6 1023.9,858.9 1025.9,860.0 1027.9,861.1 1029.9,862.0 1031.9,862.9 1033.9,863.7 1035.9,864.5 1037.9,865.1 1039.9,865.7 1041.9,866.2 1043.9,866.7 1045.9,867.2 1047.9,867.6 1049.9,867.9 1051.9,868.3 1053.9,868.5 1055.9,868.7 1057.9,868.9 1059.9,869.0 1061.9,869.1 1063.9,869.1 1065.9,869.1 1067.9,868.9 1069.9,868.7 1071.9,868.4 1073.9,868.1 1075.9,867.8 1077.9,867.4 1079.9,867.0 1081.9,866.5 1083.9,866.0 1085.9,865.4 1087.9,864.7 1089.9,864.1 1091.9,863.3 1093.9,862.6 1095.9,861.8 1097.9,860.8 1099.9,859.8 1101.9,858.6 1103.9,857.2 1105.9,855.7 1107.9,854.1 1109.9,852.3 1111.9,850.4 1113.9,848.5 1115.9,846.4 1117.9,844.3 1119.9,842.1 1121.9,839.8 1123.9,837.4 1125.9,834.7 1127.9,831.9 1129.9,829.0 1131.9,825.9 1133.9,822.8 1135.9,819.7 1137.9,816.5 1139.9,813.3 1141.9,810.2 1143.9,807.1 1145.9,804.0 1147.9,800.8 1149.9,797.7 1151.9,794.4 1153.9,791.2 1155.9,788.0 1157.9,784.7 1159.9,781.4 1161.9,778.1 1163.9,774.8 1165.9,771.5 1167.9,768.2 1169.9,764.8 1171.9,761.4 1173.9,757.8 1175.9,754.3 1177.9,750.8 1179.9,747.4 1181.9,744.1 1183.9,741.0 1185.9,738.2 1187.9,735.5 1189.9,732.9 1191.9,730.3 1193.9,727.9 1195.9,725.5 1197.9,723.2 1199.9,721.0 1201.9,718.8 1203.9,716.7 1205.9,714.7 1207.9,712.7 1209.9,710.8 1211.9,709.0 1213.9,707.2 1215.9,705.4 1217.9,703.6 1219.9,701.9 1221.9,700.2 1223.9,698.6 1225.9,697.0 1227.9,695.4 1229.9,693.9 1231.9,692.5 1233.9,691.2 1235.9,689.9 1237.9,688.7 1239.9,687.5 1241.9,686.4 1243.9,685.4 1245.9,684.4 1247.9,683.4 1249.9,682.4 1251.9,681.5 1253.9,680.7 1255.9,679.8 1257.9,679.0 1259.9,678.2 1261.9,677.4 1263.9,676.7 1265.9,676.0 1267.9,675.3 1269.9,674.6 1271.9,673.9 1273.9,673.3 1275.9,672.7 1277.9,672.2 1279.9,671.6 1281.9,671.1 1283.9,670.6 1285.9,670.1 1287.9,669.6 1289.9,669.1 1291.9,668.5 1293.9,668.0 1295.9,667.4 1297.9,666.8 1299.9,666.1 1301.9,665.4 1303.9,664.7 1305.9,664.0 1307.9,663.2 1309.9,662.4 1311.9,661.6 1313.9,660.7 1315.9,659.9 1317.9,659.0 1319.9,658.1 1321.9,657.2 1323.9,656.3 1325.9,655.4 1327.9,654.5 1329.9,653.6 1331.9,652.6 1333.9,651.7 1335.9,650.7 1337.9,649.7 1339.9,648.6 1341.9,647.6 1343.9,646.5 1345.9,645.5 1347.9,644.4 1349.9,643.4 1351.9,642.4 1353.9,641.4 1355.9,640.4 1357.9,639.5 1359.9,638.6 1361.9,637.7 1363.9,636.8 1365.9,635.9 1367.9,635.0 1369.9,634.1 1371.9,633.1 1373.9,632.3 1375.9,631.4 1377.9,630.6 1379.9,629.8 1381.9,629.1 1383.9,628.5 1385.9,627.9 1387.9,627.4 1389.9,626.9 1391.9,626.6 1393.9,626.2 1395.9,625.9 1397.9,625.7 1399.9,625.4 1401.9,625.2 1403.9,624.9 1405.9,624.7 1407.9,624.5 1409.9,624.3 1411.9,624.0 1413.9,623.8 1415.9,623.5 1417.9,623.3 1419.9,623.0 1421.9,622.6 1423.9,622.3 1425.9,622.0 1427.9,621.6 1429.9,621.2 1431.9,620.9 1433.0,620.7"/>
<polyline fill="none" stroke="#C99A2B" stroke-width="14.0" stroke-linejoin="round" stroke-linecap="butt" points="545.9,1086.5 547.9,1086.5 549.9,1086.4 551.9,1086.4 553.9,1086.3 555.9,1086.2 557.9,1086.2 559.9,1086.1 561.9,1086.0 563.9,1085.8 565.9,1085.7 567.9,1085.6 569.9,1085.4 571.9,1085.3 573.9,1085.1 575.9,1085.0 577.9,1084.8 579.9,1084.6 581.9,1084.4 583.9,1084.1 585.9,1083.7 587.9,1083.3 589.9,1082.9 591.9,1082.5 593.9,1082.0 595.9,1081.5 597.9,1081.0 599.9,1080.4 601.9,1079.9 603.9,1079.3 605.9,1078.7 607.9,1078.1 609.9,1077.4 611.9,1076.7 613.9,1075.9 615.9,1075.1 617.9,1074.2 619.9,1073.3 621.9,1072.3 623.9,1071.3 625.9,1070.3 627.9,1069.2 629.9,1068.1 631.9,1067.0 633.9,1065.8 635.9,1064.6 637.9,1063.2 639.9,1061.8 641.9,1060.3 643.9,1058.8 645.9,1057.2 647.9,1055.5 649.9,1053.8 651.9,1052.0 653.9,1050.2 655.9,1048.4 657.9,1046.6 659.9,1044.8 661.9,1042.9 663.9,1041.1 665.9,1039.1 667.9,1037.1 669.9,1035.1 671.9,1033.0 673.9,1030.9 675.9,1028.7 677.9,1026.6 679.9,1024.4 681.9,1022.3 683.9,1020.2 685.9,1018.1 687.9,1016.1 689.9,1014.1 691.9,1012.2 693.9,1010.3 695.9,1008.4 697.9,1006.4 699.9,1004.5 701.9,1002.6 703.9,1000.7 705.9,998.8 707.9,997.0 709.9,995.1 711.9,993.3 713.9,991.5 715.9,989.8 717.9,988.0 719.9,986.3 721.9,984.6 723.9,982.9 725.9,981.2 727.9,979.4 729.9,977.6 731.9,975.8 733.9,973.9 735.9,971.9 737.9,969.8 739.9,967.6 741.9,965.3 743.9,962.9 745.9,960.2 747.9,957.5 749.9,954.6 751.9,951.5 753.9,948.2 755.9,944.7 757.9,941.0 759.9,937.0 761.9,932.8 763.9,928.4 765.9,923.6 767.9,918.6 769.9,913.3 771.9,907.6 773.9,901.6 775.9,895.3 777.9,888.7 779.9,881.7 781.9,874.5 783.9,866.9 785.9,858.9 787.9,850.7 789.9,842.2 791.9,833.4 793.9,824.3 795.9,815.0 797.9,805.5 799.9,795.9 801.9,786.0 803.9,776.1 805.9,766.1 807.9,756.1 809.9,746.0 811.9,736.1 813.9,726.2 815.9,716.5 817.9,707.1 819.9,697.9 821.9,689.0 823.9,680.4 825.9,672.3 827.9,664.7 829.9,657.6 831.9,651.1 833.9,645.2 835.9,640.0 837.9,635.4 839.9,631.6 841.9,628.5 843.9,626.2 845.9,624.7 847.9,624.0 849.9,624.0 851.9,624.9 853.9,626.4 855.9,628.7 857.9,631.7 859.9,635.4 861.9,639.7 863.9,644.6 865.9,650.0 867.9,655.9 869.9,662.3 871.9,669.0 873.9,676.1 875.9,683.5 877.9,691.1 879.9,698.9 881.9,706.9 883.9,714.9 885.9,723.0 887.9,731.0 889.9,739.0 891.9,746.8 893.9,754.6 895.9,762.1 897.9,769.5 899.9,776.6 901.9,783.5 903.9,790.1 905.9,796.5 907.9,802.6 909.9,808.3 911.9,813.8 913.9,819.0 915.9,823.9 917.9,828.5 919.9,832.9 921.9,836.9 923.9,840.7 925.9,844.2 927.9,847.4 929.9,850.3 931.9,853.0 933.9,855.5 935.9,857.7 937.9,859.7 939.9,861.4 941.9,863.0 943.9,864.5 945.9,865.7 947.9,866.8 949.9,867.8 951.9,868.6 953.9,869.4 955.9,870.0 957.9,870.6 959.9,871.1 961.9,871.6 963.9,871.9 965.9,872.3 967.9,872.6 969.9,872.8 971.9,873.0 973.9,873.1 975.9,873.2 977.9,873.3 979.9,873.4 981.9,873.4 983.9,873.5 985.9,873.5 987.9,873.5 989.9,873.5 991.9,873.4 993.9,873.4 995.9,873.4 997.9,873.3 999.9,873.2 1001.9,873.2 1003.9,873.1 1005.9,873.0 1007.9,873.0 1009.9,872.9 1011.9,872.8 1013.9,872.8 1015.9,872.7 1017.9,872.6 1019.9,872.6 1021.9,872.5 1023.9,872.4 1025.9,872.3 1027.9,872.3 1029.9,872.2 1031.9,872.1 1033.9,872.1 1035.9,872.0 1037.9,871.9 1039.9,871.8 1041.9,871.7 1043.9,871.7 1045.9,871.6 1047.9,871.6 1049.9,871.5 1051.9,871.4 1053.9,871.4 1055.9,871.3 1057.9,871.2 1059.9,871.1 1061.9,870.9 1063.9,870.8 1065.9,870.5 1067.9,870.2 1069.9,869.9 1071.9,869.5 1073.9,869.0 1075.9,868.6 1077.9,868.1 1079.9,867.6 1081.9,867.1 1083.9,866.5 1085.9,865.9 1087.9,865.2 1089.9,864.4 1091.9,863.7 1093.9,862.9 1095.9,862.1 1097.9,861.1 1099.9,860.0 1101.9,858.8 1103.9,857.5 1105.9,855.9 1107.9,854.3 1109.9,852.5 1111.9,850.6 1113.9,848.6 1115.9,846.6 1117.9,844.4 1119.9,842.2 1121.9,839.9 1123.9,837.4 1125.9,834.8 1127.9,832.0 1129.9,829.0 1131.9,826.0 1133.9,822.9 1135.9,819.7 1137.9,816.5 1139.9,813.4 1141.9,810.2 1143.9,807.1 1145.9,804.0 1147.9,800.9 1149.9,797.7 1151.9,794.5 1153.9,791.2 1155.9,788.0 1157.9,784.7 1159.9,781.4 1161.9,778.1 1163.9,774.8 1165.9,771.5 1167.9,768.2 1169.9,764.8 1171.9,761.3 1173.9,757.8 1175.9,754.3 1177.9,750.8 1179.9,747.4 1181.9,744.1 1183.9,741.0 1185.9,738.2 1187.9,735.5 1189.9,732.9 1191.9,730.3 1193.9,727.9 1195.9,725.5 1197.9,723.2 1199.9,720.9 1201.9,718.8 1203.9,716.7 1205.9,714.7 1207.9,712.7 1209.9,710.8 1211.9,709.0 1213.9,707.1 1215.9,705.3 1217.9,703.6 1219.9,701.8 1221.9,700.2 1223.9,698.5 1225.9,696.9 1227.9,695.4 1229.9,693.9 1231.9,692.5 1233.9,691.1 1235.9,689.8 1237.9,688.6 1239.9,687.5 1241.9,686.4 1243.9,685.3 1245.9,684.3 1247.9,683.3 1249.9,682.4 1251.9,681.5 1253.9,680.6 1255.9,679.8 1257.9,679.0 1259.9,678.2 1261.9,677.4 1263.9,676.6 1265.9,675.9 1267.9,675.2 1269.9,674.5 1271.9,673.9 1273.9,673.3 1275.9,672.7 1277.9,672.1 1279.9,671.6 1281.9,671.1 1283.9,670.6 1285.9,670.1 1287.9,669.5 1289.9,669.0 1291.9,668.5 1293.9,667.9 1295.9,667.4 1297.9,666.7 1299.9,666.1 1301.9,665.4 1303.9,664.7 1305.9,663.9 1307.9,663.1 1309.9,662.3 1311.9,661.5 1313.9,660.7 1315.9,659.8 1317.9,658.9 1319.9,658.1 1321.9,657.2 1323.9,656.3 1325.9,655.4 1327.9,654.4 1329.9,653.5 1331.9,652.6 1333.9,651.6 1335.9,650.6 1337.9,649.6 1339.9,648.6 1341.9,647.5 1343.9,646.5 1345.9,645.4 1347.9,644.4 1349.9,643.4 1351.9,642.4 1353.9,641.4 1355.9,640.4 1357.9,639.5 1359.9,638.6 1361.9,637.7 1363.9,636.8 1365.9,635.8 1367.9,634.9 1369.9,634.0 1371.9,633.1 1373.9,632.2 1375.9,631.4 1377.9,630.6 1379.9,629.8 1381.9,629.1 1383.9,628.4 1385.9,627.8 1387.9,627.3 1389.9,626.9 1391.9,626.5 1393.9,626.2 1395.9,625.9 1397.9,625.6 1399.9,625.3 1401.9,625.1 1403.9,624.9 1405.9,624.7 1407.9,624.4 1409.9,624.2 1411.9,624.0 1413.9,623.8 1415.9,623.5 1417.9,623.2 1419.9,622.9 1421.9,622.6 1423.9,622.3 1425.9,621.9 1427.9,621.6 1429.9,621.2 1431.9,620.8 1433.0,620.6"/>
<polyline fill="none" stroke="#2EBEC4" stroke-width="14.0" stroke-linejoin="round" stroke-linecap="butt" points="545.9,1087.2 547.9,1087.2 549.9,1087.2 551.9,1087.1 553.9,1087.1 555.9,1087.0 557.9,1086.9 559.9,1086.9 561.9,1086.8 563.9,1086.7 565.9,1086.5 567.9,1086.4 569.9,1086.3 571.9,1086.2 573.9,1086.0 575.9,1085.9 577.9,1085.7 579.9,1085.5 581.9,1085.3 583.9,1085.0 585.9,1084.7 587.9,1084.3 589.9,1083.9 591.9,1083.5 593.9,1083.0 595.9,1082.5 597.9,1082.0 599.9,1081.5 601.9,1080.9 603.9,1080.4 605.9,1079.8 607.9,1079.2 609.9,1078.6 611.9,1077.8 613.9,1077.1 615.9,1076.3 617.9,1075.4 619.9,1074.5 621.9,1073.6 623.9,1072.6 625.9,1071.6 627.9,1070.5 629.9,1069.5 631.9,1068.4 633.9,1067.2 635.9,1066.0 637.9,1064.7 639.9,1063.3 641.9,1061.9 643.9,1060.3 645.9,1058.7 647.9,1057.1 649.9,1055.4 651.9,1053.7 653.9,1051.9 655.9,1050.1 657.9,1048.4 659.9,1046.6 661.9,1044.8 663.9,1043.0 665.9,1041.1 667.9,1039.1 669.9,1037.1 671.9,1035.1 673.9,1033.0 675.9,1030.9 677.9,1028.8 679.9,1026.7 681.9,1024.6 683.9,1022.6 685.9,1020.6 687.9,1018.6 689.9,1016.8 691.9,1014.9 693.9,1013.1 695.9,1011.3 697.9,1009.5 699.9,1007.7 701.9,1005.9 703.9,1004.2 705.9,1002.5 707.9,1000.8 709.9,999.2 711.9,997.6 713.9,996.1 715.9,994.6 717.9,993.2 719.9,991.9 721.9,990.6 723.9,989.3 725.9,988.1 727.9,987.0 729.9,985.8 731.9,984.7 733.9,983.6 735.9,982.6 737.9,981.5 739.9,980.5 741.9,979.4 743.9,978.4 745.9,977.4 747.9,976.3 749.9,975.3 751.9,974.3 753.9,973.3 755.9,972.3 757.9,971.4 759.9,970.4 761.9,969.4 763.9,968.5 765.9,967.5 767.9,966.6 769.9,965.6 771.9,964.7 773.9,963.7 775.9,962.7 777.9,961.8 779.9,960.8 781.9,959.8 783.9,958.8 785.9,957.8 787.9,956.8 789.9,955.8 791.9,954.9 793.9,953.9 795.9,952.9 797.9,951.9 799.9,950.9 801.9,949.9 803.9,948.9 805.9,947.9 807.9,947.0 809.9,946.0 811.9,945.0 813.9,944.1 815.9,943.1 817.9,942.2 819.9,941.2 821.9,940.3 823.9,939.3 825.9,938.4 827.9,937.4 829.9,936.5 831.9,935.5 833.9,934.6 835.9,933.6 837.9,932.6 839.9,931.7 841.9,930.7 843.9,929.7 845.9,928.7 847.9,927.7 849.9,926.7 851.9,925.6 853.9,924.6 855.9,923.5 857.9,922.4 859.9,921.3 861.9,920.3 863.9,919.2 865.9,918.1 867.9,917.0 869.9,915.9 871.9,914.8 873.9,913.7 875.9,912.7 877.9,911.6 879.9,910.6 881.9,909.5 883.9,908.5 885.9,907.5 887.9,906.5 889.9,905.5 891.9,904.5 893.9,903.5 895.9,902.5 897.9,901.5 899.9,900.5 901.9,899.5 903.9,898.5 905.9,897.5 907.9,896.6 909.9,895.6 911.9,894.7 913.9,893.8 915.9,893.0 917.9,892.2 919.9,891.4 921.9,890.6 923.9,889.9 925.9,889.3 927.9,888.6 929.9,888.0 931.9,887.3 933.9,886.7 935.9,886.1 937.9,885.5 939.9,884.9 941.9,884.4 943.9,883.8 945.9,883.3 947.9,882.8 949.9,882.3 951.9,881.8 953.9,881.4 955.9,881.0 957.9,880.6 959.9,880.3 961.9,879.9 963.9,879.6 965.9,879.4 967.9,879.1 969.9,878.8 971.9,878.6 973.9,878.3 975.9,878.1 977.9,877.9 979.9,877.7 981.9,877.5 983.9,877.3 985.9,877.1 987.9,877.0 989.9,876.8 991.9,876.6 993.9,876.4 995.9,876.3 997.9,876.1 999.9,876.0 1001.9,875.8 1003.9,875.7 1005.9,875.5 1007.9,875.4 1009.9,875.2 1011.9,875.1 1013.9,875.0 1015.9,874.9 1017.9,874.7 1019.9,874.6 1021.9,874.5 1023.9,874.4 1025.9,874.3 1027.9,874.1 1029.9,874.0 1031.9,873.9 1033.9,873.8 1035.9,873.7 1037.9,873.6 1039.9,873.5 1041.9,873.3 1043.9,873.2 1045.9,873.1 1047.9,873.1 1049.9,873.0 1051.9,872.9 1053.9,872.8 1055.9,872.7 1057.9,872.5 1059.9,872.4 1061.9,872.2 1063.9,872.0 1065.9,871.8 1067.9,871.4 1069.9,871.1 1071.9,870.7 1073.9,870.2 1075.9,869.7 1077.9,869.3 1079.9,868.8 1081.9,868.2 1083.9,867.6 1085.9,866.9 1087.9,866.2 1089.9,865.5 1091.9,864.7 1093.9,863.9 1095.9,863.0 1097.9,862.1 1099.9,861.0 1101.9,859.7 1103.9,858.3 1105.9,856.8 1107.9,855.1 1109.9,853.3 1111.9,851.4 1113.9,849.4 1115.9,847.4 1117.9,845.2 1119.9,843.0 1121.9,840.7 1123.9,838.2 1125.9,835.5 1127.9,832.7 1129.9,829.7 1131.9,826.7 1133.9,823.6 1135.9,820.4 1137.9,817.2 1139.9,814.0 1141.9,810.8 1143.9,807.7 1145.9,804.6 1147.9,801.5 1149.9,798.3 1151.9,795.0 1153.9,791.8 1155.9,788.5 1157.9,785.2 1159.9,781.9 1161.9,778.6 1163.9,775.3 1165.9,772.0 1167.9,768.7 1169.9,765.3 1171.9,761.8 1173.9,758.3 1175.9,754.7 1177.9,751.2 1179.9,747.8 1181.9,744.5 1183.9,741.4 1185.9,738.5 1187.9,735.8 1189.9,733.2 1191.9,730.7 1193.9,728.2 1195.9,725.8 1197.9,723.5 1199.9,721.3 1201.9,719.1 1203.9,717.0 1205.9,714.9 1207.9,713.0 1209.9,711.1 1211.9,709.2 1213.9,707.4 1215.9,705.5 1217.9,703.8 1219.9,702.0 1221.9,700.3 1223.9,698.7 1225.9,697.1 1227.9,695.5 1229.9,694.0 1231.9,692.6 1233.9,691.2 1235.9,689.9 1237.9,688.6 1239.9,687.5 1241.9,686.4 1243.9,685.3 1245.9,684.2 1247.9,683.2 1249.9,682.2 1251.9,681.3 1253.9,680.4 1255.9,679.5 1257.9,678.6 1259.9,677.7 1261.9,676.8 1263.9,676.0 1265.9,675.1 1267.9,674.2 1269.9,673.4 1271.9,672.5 1273.9,671.7 1275.9,670.8 1277.9,670.0 1279.9,669.1 1281.9,668.2 1283.9,667.2 1285.9,666.2 1287.9,665.1 1289.9,664.0 1291.9,662.7 1293.9,661.4 1295.9,660.0 1297.9,658.4 1299.9,656.7 1301.9,654.9 1303.9,653.0 1305.9,651.0 1307.9,648.9 1309.9,646.7 1311.9,644.4 1313.9,642.0 1315.9,639.5 1317.9,637.0 1319.9,634.4 1321.9,631.8 1323.9,629.2 1325.9,626.6 1327.9,624.0 1329.9,621.4 1331.9,618.9 1333.9,616.4 1335.9,613.9 1337.9,611.6 1339.9,609.4 1341.9,607.3 1343.9,605.4 1345.9,603.6 1347.9,602.1 1349.9,600.7 1351.9,599.6 1353.9,598.7 1355.9,598.0 1357.9,597.6 1359.9,597.4 1361.9,597.3 1363.9,597.4 1365.9,597.7 1367.9,598.1 1369.9,598.6 1371.9,599.2 1373.9,599.9 1375.9,600.7 1377.9,601.5 1379.9,602.5 1381.9,603.5 1383.9,604.5 1385.9,605.6 1387.9,606.8 1389.9,608.0 1391.9,609.2 1393.9,610.3 1395.9,611.4 1397.9,612.5 1399.9,613.5 1401.9,614.4 1403.9,615.3 1405.9,616.1 1407.9,616.8 1409.9,617.5 1411.9,618.0 1413.9,618.5 1415.9,618.9 1417.9,619.2 1419.9,619.4 1421.9,619.5 1423.9,619.6 1425.9,619.6 1427.9,619.5 1429.9,619.4 1431.9,619.3 1433.0,619.2"/>
<polyline fill="none" stroke="#7C4D4F" stroke-width="14.0" stroke-linejoin="round" stroke-linecap="butt" points="545.9,1087.2 547.9,1087.2 549.9,1087.2 551.9,1087.1 553.9,1087.1 555.9,1087.0 557.9,1086.9 559.9,1086.9 561.9,1086.8 563.9,1086.7 565.9,1086.5 567.9,1086.4 569.9,1086.3 571.9,1086.2 573.9,1086.0 575.9,1085.9 577.9,1085.7 579.9,1085.5 581.9,1085.3 583.9,1085.0 585.9,1084.7 587.9,1084.3 589.9,1083.9 591.9,1083.5 593.9,1083.0 595.9,1082.5 597.9,1082.0 599.9,1081.5 601.9,1080.9 603.9,1080.4 605.9,1079.8 607.9,1079.2 609.9,1078.5 611.9,1077.8 613.9,1077.1 615.9,1076.3 617.9,1075.4 619.9,1074.5 621.9,1073.6 623.9,1072.6 625.9,1071.6 627.9,1070.5 629.9,1069.5 631.9,1068.3 633.9,1067.2 635.9,1066.0 637.9,1064.7 639.9,1063.3 641.9,1061.9 643.9,1060.3 645.9,1058.7 647.9,1057.1 649.9,1055.4 651.9,1053.7 653.9,1051.9 655.9,1050.1 657.9,1048.4 659.9,1046.6 661.9,1044.8 663.9,1043.0 665.9,1041.1 667.9,1039.1 669.9,1037.1 671.9,1035.0 673.9,1033.0 675.9,1030.9 677.9,1028.8 679.9,1026.7 681.9,1024.6 683.9,1022.6 685.9,1020.6 687.9,1018.6 689.9,1016.8 691.9,1014.9 693.9,1013.1 695.9,1011.3 697.9,1009.5 699.9,1007.7 701.9,1005.9 703.9,1004.2 705.9,1002.5 707.9,1000.8 709.9,999.2 711.9,997.6 713.9,996.1 715.9,994.6 717.9,993.2 719.9,991.9 721.9,990.6 723.9,989.3 725.9,988.1 727.9,986.9 729.9,985.8 731.9,984.7 733.9,983.6 735.9,982.5 737.9,981.5 739.9,980.5 741.9,979.4 743.9,978.4 745.9,977.3 747.9,976.3 749.9,975.3 751.9,974.3 753.9,973.3 755.9,972.3 757.9,971.3 759.9,970.4 761.9,969.4 763.9,968.5 765.9,967.5 767.9,966.6 769.9,965.6 771.9,964.7 773.9,963.7 775.9,962.7 777.9,961.8 779.9,960.8 781.9,959.8 783.9,958.8 785.9,957.8 787.9,956.8 789.9,955.8 791.9,954.8 793.9,953.8 795.9,952.9 797.9,951.9 799.9,950.9 801.9,949.9 803.9,948.9 805.9,947.9 807.9,947.0 809.9,946.0 811.9,945.0 813.9,944.1 815.9,943.1 817.9,942.1 819.9,941.2 821.9,940.2 823.9,939.3 825.9,938.3 827.9,937.4 829.9,936.4 831.9,935.5 833.9,934.5 835.9,933.6 837.9,932.6 839.9,931.6 841.9,930.7 843.9,929.7 845.9,928.7 847.9,927.7 849.9,926.6 851.9,925.6 853.9,924.5 855.9,923.5 857.9,922.4 859.9,921.3 861.9,920.2 863.9,919.1 865.9,918.1 867.9,917.0 869.9,915.9 871.9,914.8 873.9,913.7 875.9,912.6 877.9,911.6 879.9,910.5 881.9,909.5 883.9,908.5 885.9,907.5 887.9,906.5 889.9,905.5 891.9,904.5 893.9,903.5 895.9,902.5 897.9,901.5 899.9,900.4 901.9,899.4 903.9,898.5 905.9,897.5 907.9,896.5 909.9,895.6 911.9,894.7 913.9,893.8 915.9,892.9 917.9,892.1 919.9,891.3 921.9,890.6 923.9,889.9 925.9,889.2 927.9,888.6 929.9,887.9 931.9,887.3 933.9,886.7 935.9,886.1 937.9,885.5 939.9,884.9 941.9,884.3 943.9,883.8 945.9,883.3 947.9,882.8 949.9,882.3 951.9,881.8 953.9,881.4 955.9,881.0 957.9,880.6 959.9,880.2 961.9,879.9 963.9,879.6 965.9,879.3 967.9,879.0 969.9,878.8 971.9,878.5 973.9,878.3 975.9,878.1 977.9,877.9 979.9,877.7 981.9,877.5 983.9,877.3 985.9,877.1 987.9,876.9 989.9,876.7 991.9,876.5 993.9,876.4 995.9,876.2 997.9,876.1 999.9,875.9 1001.9,875.7 1003.9,875.6 1005.9,875.4 1007.9,875.3 1009.9,875.2 1011.9,875.0 1013.9,874.9 1015.9,874.8 1017.9,874.6 1019.9,874.5 1021.9,874.4 1023.9,874.3 1025.9,874.2 1027.9,874.0 1029.9,873.9 1031.9,873.8 1033.9,873.7 1035.9,873.6 1037.9,873.5 1039.9,873.3 1041.9,873.2 1043.9,873.1 1045.9,873.0 1047.9,872.9 1049.9,872.8 1051.9,872.8 1053.9,872.6 1055.9,872.5 1057.9,872.4 1059.9,872.3 1061.9,872.1 1063.9,871.9 1065.9,871.6 1067.9,871.3 1069.9,870.9 1071.9,870.5 1073.9,870.0 1075.9,869.6 1077.9,869.1 1079.9,868.6 1081.9,868.0 1083.9,867.4 1085.9,866.7 1087.9,866.0 1089.9,865.2 1091.9,864.4 1093.9,863.6 1095.9,862.7 1097.9,861.8 1099.9,860.7 1101.9,859.4 1103.9,858.0 1105.9,856.5 1107.9,854.8 1109.9,853.0 1111.9,851.0 1113.9,849.0 1115.9,846.9 1117.9,844.7 1119.9,842.5 1121.9,840.1 1123.9,837.5 1125.9,834.8 1127.9,831.9 1129.9,828.8 1131.9,825.7 1133.9,822.4 1135.9,819.1 1137.9,815.7 1139.9,812.2 1141.9,808.8 1143.9,805.3 1145.9,801.8 1147.9,798.2 1149.9,794.5 1151.9,790.6 1153.9,786.7 1155.9,782.6 1157.9,778.4 1159.9,774.1 1161.9,769.7 1163.9,765.1 1165.9,760.4 1167.9,755.6 1169.9,750.6 1171.9,745.4 1173.9,739.9 1175.9,734.4 1177.9,728.8 1179.9,723.2 1181.9,717.6 1183.9,712.2 1185.9,707.1 1187.9,702.0 1189.9,697.1 1191.9,692.2 1193.9,687.6 1195.9,683.1 1197.9,678.9 1199.9,674.9 1201.9,671.1 1203.9,667.7 1205.9,664.6 1207.9,661.9 1209.9,659.5 1211.9,657.5 1213.9,655.8 1215.9,654.4 1217.9,653.4 1219.9,652.7 1221.9,652.3 1223.9,652.2 1225.9,652.3 1227.9,652.7 1229.9,653.3 1231.9,654.1 1233.9,655.0 1235.9,656.0 1237.9,657.1 1239.9,658.3 1241.9,659.5 1243.9,660.8 1245.9,661.9 1247.9,663.1 1249.9,664.1 1251.9,665.1 1253.9,666.0 1255.9,666.8 1257.9,667.5 1259.9,668.1 1261.9,668.6 1263.9,669.0 1265.9,669.2 1267.9,669.5 1269.9,669.6 1271.9,669.6 1273.9,669.6 1275.9,669.6 1277.9,669.5 1279.9,669.4 1281.9,669.2 1283.9,669.0 1285.9,668.7 1287.9,668.4 1289.9,668.1 1291.9,667.7 1293.9,667.2 1295.9,666.8 1297.9,666.2 1299.9,665.6 1301.9,665.0 1303.9,664.3 1305.9,663.6 1307.9,662.9 1309.9,662.1 1311.9,661.3 1313.9,660.5 1315.9,659.7 1317.9,658.8 1319.9,657.9 1321.9,657.1 1323.9,656.2 1325.9,655.3 1327.9,654.4 1329.9,653.5 1331.9,652.6 1333.9,651.6 1335.9,650.6 1337.9,649.6 1339.9,648.6 1341.9,647.5 1343.9,646.5 1345.9,645.4 1347.9,644.4 1349.9,643.4 1351.9,642.4 1353.9,641.4 1355.9,640.4 1357.9,639.5 1359.9,638.6 1361.9,637.7 1363.9,636.8 1365.9,635.9 1367.9,635.0 1369.9,634.1 1371.9,633.2 1373.9,632.3 1375.9,631.4 1377.9,630.6 1379.9,629.8 1381.9,629.1 1383.9,628.5 1385.9,627.9 1387.9,627.4 1389.9,627.0 1391.9,626.6 1393.9,626.3 1395.9,626.0 1397.9,625.7 1399.9,625.4 1401.9,625.2 1403.9,625.0 1405.9,624.7 1407.9,624.5 1409.9,624.3 1411.9,624.1 1413.9,623.8 1415.9,623.6 1417.9,623.3 1419.9,623.0 1421.9,622.7 1423.9,622.4 1425.9,622.0 1427.9,621.6 1429.9,621.3 1431.9,620.9 1433.0,620.7"/>
</g>
<g id="curves-b">
<polyline fill="none" stroke="#505352" stroke-width="12" stroke-linejoin="miter" stroke-linecap="butt" stroke-miterlimit="10" points="1945.0,1133.2 1949.6,1124.1 1954.3,1106.8 1958.9,1124.2 1963.6,1119.2 1968.2,1112.1 1972.9,1125.9 1977.5,1126.1 1982.1,1122.5 1986.8,1119.7 1991.4,1118.1 1996.1,1121.0 2000.7,1126.5 2005.4,1123.7 2010.0,1122.7 2014.6,1131.0 2019.3,1117.3 2023.9,1115.1 2028.6,1136.4 2033.2,1119.2 2037.9,1105.7 2042.5,1110.0 2047.1,1105.4 2051.8,1122.0 2056.4,1117.8 2061.1,1131.8 2065.7,1130.9 2070.4,1117.8 2075.0,1125.4 2079.6,1118.3 2084.3,1124.2 2088.9,1112.9 2093.6,1116.3 2098.2,1122.0 2102.9,1098.0 2107.5,1121.2 2112.1,1113.7 2116.8,1104.0 2121.4,1101.0 2126.1,1091.7 2130.7,1091.3 2135.4,1084.6 2140.0,1079.2 2144.6,1049.3 2149.3,1056.7 2153.9,1027.4 2158.6,1025.6 2163.2,1001.1 2167.9,969.4 2172.5,949.1 2177.2,932.0 2181.8,908.2 2186.4,874.6 2191.1,844.2 2195.7,811.2 2200.4,791.0 2205.0,763.0 2209.7,737.5 2214.3,704.4 2218.9,675.0 2223.6,646.9 2228.2,622.7 2232.9,599.5 2237.5,604.4 2242.2,581.4 2246.8,570.2 2251.4,554.5 2256.1,541.1 2260.7,525.6 2265.4,518.4 2270.0,502.6 2274.7,478.4 2279.3,461.6 2283.9,463.4 2288.6,454.9 2293.2,451.7 2297.9,456.9 2302.5,454.1 2307.2,450.4 2311.8,451.3 2316.4,449.8 2321.1,445.6 2325.7,453.4 2330.4,469.6 2335.0,495.5 2339.7,511.8 2344.3,531.0 2348.9,539.1 2353.6,556.8 2358.2,567.9 2362.9,587.8 2367.5,621.4 2372.2,650.0 2376.8,667.4 2381.4,693.5 2386.1,708.8 2390.7,732.4 2395.4,758.0 2400.0,773.7 2404.7,793.9 2409.3,817.5 2413.9,837.3 2418.6,849.0 2423.2,855.7 2427.9,876.4 2432.5,882.5 2437.2,903.2 2441.8,904.6 2446.4,906.1 2451.1,922.2 2455.7,928.4 2460.4,938.8 2465.0,949.8 2469.7,955.4 2474.3,967.1 2478.9,974.1 2483.6,981.0 2488.2,990.4 2492.9,991.3 2497.5,998.8 2502.2,1007.2 2506.8,1004.5 2511.4,1012.1 2516.1,1017.3 2520.7,1024.3 2525.4,1030.6 2530.0,1028.0 2534.7,1028.5 2539.3,1030.0 2543.9,1033.9 2548.6,1033.6 2553.2,1047.4 2557.9,1057.5 2562.5,1049.8 2567.2,1053.2 2571.8,1054.8 2576.4,1037.9 2581.1,1051.7 2585.7,1041.5 2590.4,1046.3 2595.0,1049.1 2599.7,1046.2 2604.3,1054.7 2608.9,1051.6 2613.6,1052.1 2618.2,1040.4 2622.9,1058.0 2627.5,1059.4 2632.2,1063.5 2636.8,1062.4 2641.5,1056.7 2646.1,1048.1 2650.7,1063.6 2655.4,1064.6 2660.0,1067.8 2664.7,1046.5 2669.3,1062.4 2674.0,1073.5 2678.6,1066.2 2683.2,1071.0 2687.9,1055.7 2692.5,1059.6 2697.2,1062.8 2701.8,1055.2 2706.5,1053.9 2711.1,1049.4 2715.7,1047.0 2720.4,1062.1 2725.0,1053.3 2729.7,1052.4 2734.3,1065.8 2739.0,1060.8 2743.6,1063.8 2748.2,1069.1 2752.9,1059.4 2757.5,1056.7 2762.2,1042.6 2766.8,1048.9 2771.5,1053.3 2776.1,1056.0 2780.7,1044.1 2785.4,1050.8 2790.0,1064.8 2794.7,1043.5 2799.3,1063.6 2804.0,1065.6 2808.6,1041.6 2813.2,1050.8 2817.9,1047.1 2822.5,1043.4 2827.2,1040.2 2831.8,1045.7 2836.5,1040.7 2841.1,1048.4 2845.7,1053.2 2850.4,1048.7 2855.0,1041.6 2859.7,1047.3 2864.3,1040.9 2869.0,1046.2 2873.6,1043.1 2878.2,1044.0 2882.9,1065.0"/>
<polyline fill="none" stroke="#EE3B42" stroke-width="14.0" stroke-linejoin="round" stroke-linecap="butt" points="2111.0,1106.5 2113.0,1106.4 2115.0,1106.3 2117.0,1106.1 2119.0,1106.0 2121.0,1105.8 2123.0,1105.7 2125.0,1105.5 2127.0,1105.3 2129.0,1105.0 2131.0,1104.8 2133.0,1104.5 2135.0,1104.2 2137.0,1103.8 2139.0,1103.4 2141.0,1103.0 2143.0,1102.5 2145.0,1102.0 2147.0,1101.4 2149.0,1100.8 2151.0,1100.1 2153.0,1099.3 2155.0,1098.5 2157.0,1097.5 2159.0,1096.5 2161.0,1095.3 2163.0,1094.1 2165.0,1092.7 2167.0,1091.2 2169.0,1089.6 2171.0,1087.8 2173.0,1085.9 2175.0,1083.8 2177.0,1081.5 2179.0,1079.0 2181.0,1076.3 2183.0,1073.4 2185.0,1070.3 2187.0,1066.9 2189.0,1063.3 2191.0,1059.5 2193.0,1055.3 2195.0,1050.9 2197.0,1046.2 2199.0,1041.1 2201.0,1035.8 2203.0,1030.1 2205.0,1024.1 2207.0,1017.8 2209.0,1011.1 2211.0,1004.0 2213.0,996.6 2215.0,988.8 2217.0,980.7 2219.0,972.2 2221.0,963.4 2223.0,954.2 2225.0,944.6 2227.0,934.7 2229.0,924.5 2231.0,913.9 2233.0,903.0 2235.0,891.9 2237.0,880.5 2239.0,868.8 2241.0,856.9 2243.0,844.8 2245.0,832.5 2247.0,820.1 2249.0,807.5 2251.0,794.9 2253.0,782.3 2255.0,769.6 2257.0,756.9 2259.0,744.4 2261.0,731.9 2263.0,719.6 2265.0,707.5 2267.0,695.6 2269.0,684.1 2271.0,672.8 2273.0,662.0 2275.0,651.5 2277.0,641.5 2279.0,632.1 2281.0,623.2 2283.0,614.8 2285.0,607.1 2287.0,600.1 2289.0,593.7 2291.0,588.1 2293.0,583.2 2295.0,579.0 2297.0,575.7 2299.0,573.2 2301.0,571.4 2303.0,570.5 2305.0,570.5 2307.0,571.2 2309.0,572.7 2311.0,575.1 2313.0,578.2 2315.0,582.1 2317.0,586.7 2319.0,592.1 2321.0,598.1 2323.0,604.8 2325.0,612.1 2327.0,620.0 2329.0,628.4 2331.0,637.3 2333.0,646.7 2335.0,656.5 2337.0,666.6 2339.0,677.1 2341.0,687.9 2343.0,698.9 2345.0,710.1 2347.0,721.4 2349.0,732.8 2351.0,744.4 2353.0,755.9 2355.0,767.4 2357.0,778.9 2359.0,790.3 2361.0,801.6 2363.0,812.8 2365.0,823.8 2367.0,834.6 2369.0,845.1 2371.0,855.4 2373.0,865.5 2375.0,875.3 2377.0,884.7 2379.0,893.9 2381.0,902.8 2383.0,911.3 2385.0,919.5 2387.0,927.3 2389.0,934.8 2391.0,942.0 2393.0,948.8 2395.0,955.3 2397.0,961.5 2399.0,967.3 2401.0,972.8 2403.0,978.0 2405.0,982.9 2407.0,987.4 2409.0,991.7 2411.0,995.7 2413.0,999.5 2415.0,1003.0 2417.0,1006.2 2419.0,1009.2 2421.0,1012.0 2423.0,1014.5 2425.0,1016.9 2427.0,1019.1 2429.0,1021.1 2431.0,1022.9 2433.0,1024.6 2435.0,1026.1 2437.0,1027.5 2439.0,1028.7 2441.0,1029.9 2443.0,1030.9 2445.0,1031.8 2447.0,1032.7 2449.0,1033.4 2451.0,1034.1 2453.0,1034.7 2455.0,1035.3 2457.0,1035.7 2459.0,1036.2 2461.0,1036.5 2463.0,1036.9 2465.0,1037.2 2467.0,1037.4 2469.0,1037.7 2471.0,1037.9 2473.0,1038.0 2475.0,1038.2 2477.0,1038.3 2479.0,1038.4 2481.0,1038.5 2483.0,1038.6 2485.0,1038.7 2487.0,1038.8 2489.0,1038.8 2491.0,1038.9 2493.0,1038.9 2495.0,1038.9 2497.0,1039.0 2499.0,1039.0 2501.0,1039.0 2503.0,1039.0 2505.0,1039.0 2507.0,1039.0 2509.0,1039.0 2511.0,1039.1 2513.0,1039.1 2515.0,1039.1 2517.0,1039.1 2519.0,1039.1 2521.0,1039.1 2523.0,1039.1 2525.0,1039.1 2527.0,1039.1 2529.0,1039.1 2531.0,1039.1 2533.0,1039.1 2535.0,1039.1 2537.0,1039.1 2539.0,1039.1 2541.0,1039.2 2543.0,1039.2 2545.0,1039.2 2547.0,1039.2 2549.0,1039.2 2551.0,1039.2 2553.0,1039.2 2555.0,1039.2 2556.4,1039.2"/>
<polyline fill="none" stroke="#3B6CB4" stroke-width="14.0" stroke-linejoin="round" stroke-linecap="butt" points="2111.0,1102.6 2113.0,1102.0 2115.0,1101.3 2117.0,1100.5 2119.0,1099.6 2121.0,1098.7 2123.0,1097.6 2125.0,1096.3 2127.0,1094.9 2129.0,1093.4 2131.0,1091.7 2133.0,1089.8 2135.0,1087.7 2137.0,1085.4 2139.0,1082.8 2141.0,1080.0 2143.0,1077.0 2145.0,1073.7 2147.0,1070.1 2149.0,1066.1 2151.0,1061.9 2153.0,1057.4 2155.0,1052.5 2157.0,1047.3 2159.0,1041.8 2161.0,1035.9 2163.0,1029.7 2165.0,1023.2 2167.0,1016.3 2169.0,1009.2 2171.0,1001.7 2173.0,994.0 2175.0,986.0 2177.0,977.8 2179.0,969.4 2181.0,960.9 2183.0,952.3 2185.0,943.6 2187.0,934.8 2189.0,926.1 2191.0,917.5 2193.0,909.0 2195.0,900.6 2197.0,892.6 2199.0,884.8 2201.0,877.4 2203.0,870.4 2205.0,863.9 2207.0,857.9 2209.0,852.5 2211.0,847.7 2213.0,843.6 2215.0,840.3 2217.0,837.7 2219.0,835.8 2221.0,834.8 2223.0,834.5 2225.0,835.0 2227.0,836.3 2229.0,838.4 2231.0,841.2 2233.0,844.7 2235.0,848.9 2237.0,853.7 2239.0,859.0 2241.0,864.9 2243.0,871.2 2245.0,877.9 2247.0,885.0 2249.0,892.3 2251.0,899.9 2253.0,907.6 2255.0,915.5 2257.0,923.4 2259.0,931.3 2261.0,939.1 2263.0,946.9 2265.0,954.6 2267.0,962.1 2269.0,969.3 2271.0,976.4 2273.0,983.2 2275.0,989.7 2277.0,996.0 2279.0,1001.9 2281.0,1007.5 2283.0,1012.8 2285.0,1017.7 2287.0,1022.3 2289.0,1026.6 2291.0,1030.5 2293.0,1034.2 2295.0,1037.5 2297.0,1040.5 2299.0,1043.2 2301.0,1045.6 2303.0,1047.8 2305.0,1049.7 2307.0,1051.4 2309.0,1052.9 2311.0,1054.2 2313.0,1055.3 2315.0,1056.2 2317.0,1056.9 2319.0,1057.5 2321.0,1058.0 2323.0,1058.3 2325.0,1058.6 2327.0,1058.7 2329.0,1058.8 2331.0,1058.8 2333.0,1058.7 2335.0,1058.6 2337.0,1058.4 2339.0,1058.2 2341.0,1057.9 2343.0,1057.6 2345.0,1057.3 2347.0,1056.9 2349.0,1056.6 2351.0,1056.2 2353.0,1055.8 2355.0,1055.4 2357.0,1055.0 2359.0,1054.6 2361.0,1054.3 2363.0,1053.9 2365.0,1053.5 2367.0,1053.1 2369.0,1052.7 2371.0,1052.3 2373.0,1051.9 2375.0,1051.6 2377.0,1051.2 2379.0,1050.8 2381.0,1050.5 2383.0,1050.2 2385.0,1049.8 2387.0,1049.5 2389.0,1049.2 2391.0,1048.9 2393.0,1048.6 2395.0,1048.3 2397.0,1048.0 2399.0,1047.7 2401.0,1047.4 2403.0,1047.1 2405.0,1046.9 2407.0,1046.6 2409.0,1046.4 2411.0,1046.1 2413.0,1045.9 2415.0,1045.7 2417.0,1045.5 2419.0,1045.2 2421.0,1045.0 2423.0,1044.8 2425.0,1044.6 2427.0,1044.4 2429.0,1044.3 2431.0,1044.1 2433.0,1043.9 2435.0,1043.7 2437.0,1043.6 2439.0,1043.4 2441.0,1043.3 2443.0,1043.1 2445.0,1043.0 2447.0,1042.8 2449.0,1042.7 2451.0,1042.6 2453.0,1042.4 2455.0,1042.3 2457.0,1042.2 2459.0,1042.1 2461.0,1042.0 2463.0,1041.9 2465.0,1041.8 2467.0,1041.7 2469.0,1041.6 2471.0,1041.5 2473.0,1041.4 2475.0,1041.4 2477.0,1041.3 2479.0,1041.2 2481.0,1041.1 2483.0,1041.1 2485.0,1041.0 2487.0,1040.9 2489.0,1040.9 2491.0,1040.8 2493.0,1040.8 2495.0,1040.7 2497.0,1040.7 2499.0,1040.6 2501.0,1040.6 2503.0,1040.6 2505.0,1040.5 2507.0,1040.5 2509.0,1040.5 2511.0,1040.4 2513.0,1040.4 2515.0,1040.4 2517.0,1040.3 2519.0,1040.3 2521.0,1040.3 2523.0,1040.3 2525.0,1040.2 2527.0,1040.2 2529.0,1040.2 2531.0,1040.2 2533.0,1040.2 2535.0,1040.2 2537.0,1040.2 2539.0,1040.1 2541.0,1040.1 2543.0,1040.1 2545.0,1040.1 2547.0,1040.1 2549.0,1040.1 2551.0,1040.1 2553.0,1040.1 2555.0,1040.1 2556.4,1040.1"/>
<polyline fill="none" stroke="#32AD6B" stroke-width="14.0" stroke-linejoin="round" stroke-linecap="butt" points="2111.0,1107.4 2113.0,1107.3 2115.0,1107.3 2117.0,1107.2 2119.0,1107.2 2121.0,1107.1 2123.0,1107.1 2125.0,1107.0 2127.0,1107.0 2129.0,1106.9 2131.0,1106.8 2133.0,1106.8 2135.0,1106.7 2137.0,1106.6 2139.0,1106.5 2141.0,1106.4 2143.0,1106.3 2145.0,1106.2 2147.0,1106.1 2149.0,1106.0 2151.0,1105.8 2153.0,1105.7 2155.0,1105.5 2157.0,1105.4 2159.0,1105.2 2161.0,1105.0 2163.0,1104.8 2165.0,1104.5 2167.0,1104.3 2169.0,1104.0 2171.0,1103.7 2173.0,1103.4 2175.0,1103.1 2177.0,1102.7 2179.0,1102.3 2181.0,1101.9 2183.0,1101.5 2185.0,1101.0 2187.0,1100.5 2189.0,1100.0 2191.0,1099.5 2193.0,1098.9 2195.0,1098.2 2197.0,1097.6 2199.0,1096.9 2201.0,1096.1 2203.0,1095.3 2205.0,1094.5 2207.0,1093.6 2209.0,1092.7 2211.0,1091.7 2213.0,1090.7 2215.0,1089.7 2217.0,1088.5 2219.0,1087.4 2221.0,1086.1 2223.0,1084.9 2225.0,1083.5 2227.0,1082.1 2229.0,1080.7 2231.0,1079.1 2233.0,1077.5 2235.0,1075.9 2237.0,1074.2 2239.0,1072.4 2241.0,1070.5 2243.0,1068.6 2245.0,1066.5 2247.0,1064.4 2249.0,1062.3 2251.0,1060.0 2253.0,1057.7 2255.0,1055.3 2257.0,1052.8 2259.0,1050.2 2261.0,1047.5 2263.0,1044.8 2265.0,1041.9 2267.0,1039.0 2269.0,1035.9 2271.0,1032.8 2273.0,1029.6 2275.0,1026.3 2277.0,1022.9 2279.0,1019.5 2281.0,1015.9 2283.0,1012.3 2285.0,1008.6 2287.0,1004.8 2289.0,1000.9 2291.0,996.9 2293.0,992.9 2295.0,988.8 2297.0,984.7 2299.0,980.5 2301.0,976.2 2303.0,971.9 2305.0,967.5 2307.0,963.1 2309.0,958.7 2311.0,954.2 2313.0,949.7 2315.0,945.3 2317.0,940.8 2319.0,936.3 2321.0,931.8 2323.0,927.3 2325.0,922.8 2327.0,918.4 2329.0,914.0 2331.0,909.7 2333.0,905.4 2335.0,901.2 2337.0,897.1 2339.0,893.1 2341.0,889.1 2343.0,885.3 2345.0,881.5 2347.0,877.9 2349.0,874.4 2351.0,871.0 2353.0,867.8 2355.0,864.7 2357.0,861.8 2359.0,859.1 2361.0,856.5 2363.0,854.1 2365.0,851.9 2367.0,849.9 2369.0,848.0 2371.0,846.4 2373.0,845.0 2375.0,843.8 2377.0,842.8 2379.0,842.0 2381.0,841.4 2383.0,841.0 2385.0,840.9 2387.0,840.9 2389.0,841.2 2391.0,841.7 2393.0,842.3 2395.0,843.2 2397.0,844.3 2399.0,845.6 2401.0,847.0 2403.0,848.7 2405.0,850.5 2407.0,852.5 2409.0,854.6 2411.0,856.9 2413.0,859.3 2415.0,861.9 2417.0,864.6 2419.0,867.5 2421.0,870.4 2423.0,873.4 2425.0,876.6 2427.0,879.8 2429.0,883.1 2431.0,886.5 2433.0,890.0 2435.0,893.5 2437.0,897.0 2439.0,900.6 2441.0,904.2 2443.0,907.8 2445.0,911.5 2447.0,915.2 2449.0,918.8 2451.0,922.5 2453.0,926.1 2455.0,929.7 2457.0,933.3 2459.0,936.9 2461.0,940.4 2463.0,943.9 2465.0,947.4 2467.0,950.8 2469.0,954.1 2471.0,957.4 2473.0,960.6 2475.0,963.8 2477.0,966.9 2479.0,969.9 2481.0,972.9 2483.0,975.7 2485.0,978.5 2487.0,981.3 2489.0,983.9 2491.0,986.5 2493.0,989.0 2495.0,991.4 2497.0,993.7 2499.0,995.9 2501.0,998.1 2503.0,1000.2 2505.0,1002.2 2507.0,1004.1 2509.0,1006.0 2511.0,1007.8 2513.0,1009.5 2515.0,1011.1 2517.0,1012.7 2519.0,1014.1 2521.0,1015.6 2523.0,1016.9 2525.0,1018.2 2527.0,1019.4 2529.0,1020.6 2531.0,1021.7 2533.0,1022.7 2535.0,1023.7 2537.0,1024.7 2539.0,1025.5 2541.0,1026.4 2543.0,1027.2 2545.0,1027.9 2547.0,1028.6 2549.0,1029.3 2551.0,1029.9 2553.0,1030.5 2555.0,1031.0 2556.4,1031.4"/>
</g>
<g id="curves-c">
<polyline fill="none" stroke="#EE3B42" stroke-width="14.0" stroke-linejoin="miter" stroke-linecap="butt" stroke-miterlimit="4" points="265.4,2204.1 267.4,2203.0 269.4,2201.7 271.4,2200.3 273.4,2198.7 275.4,2197.0 277.4,2195.2 279.4,2193.2 281.4,2191.1 283.4,2188.7 285.4,2186.2 287.4,2183.5 289.4,2180.5 291.4,2177.4 293.4,2174.0 295.4,2170.4 297.4,2166.5 299.4,2162.3 301.4,2157.8 303.4,2153.1 305.4,2148.1 307.4,2142.7 309.4,2137.0 311.4,2131.0 313.4,2124.7 315.4,2118.0 317.4,2111.0 319.4,2103.6 321.4,2095.9 323.4,2087.8 325.4,2079.4 327.4,2070.6 329.4,2061.5 331.4,2052.0 333.4,2042.2 335.4,2032.0 337.4,2021.6 339.4,2010.8 341.4,1999.8 343.4,1988.5 345.4,1977.0 347.4,1965.2 349.4,1953.2 351.4,1941.1 353.4,1928.8 355.4,1916.5 357.4,1904.0 359.4,1891.5 361.4,1879.1 363.4,1866.6 365.4,1854.3 367.4,1842.1 369.4,1830.1 371.4,1818.3 373.4,1806.7 375.4,1795.5 377.4,1784.6 379.4,1774.2 381.4,1764.2 383.4,1754.7 385.4,1745.7 387.4,1737.3 389.4,1729.6 391.4,1722.5 393.4,1716.1 395.4,1710.4 397.4,1705.5 399.4,1701.4 401.4,1698.1 403.4,1695.6 405.4,1694.0 407.4,1693.2 409.4,1693.3 411.4,1694.3 413.4,1696.1 415.4,1698.8 417.4,1702.2 419.4,1706.5 421.4,1711.5 423.4,1717.3 425.4,1723.9 427.4,1731.0 429.4,1738.9 431.4,1747.3 433.4,1756.2 435.4,1765.7 437.4,1775.6 439.4,1785.9 441.4,1796.6 443.4,1807.6 445.4,1818.8 447.4,1830.3 449.4,1841.9 451.4,1853.7 453.4,1865.5 455.4,1877.5 457.4,1889.4 459.4,1901.3 461.4,1913.1 463.4,1924.8 465.4,1936.4 467.4,1947.8 469.4,1959.1 471.4,1970.1 473.4,1980.9 475.4,1991.4 477.4,2001.7 479.4,2011.6 481.4,2021.3 483.4,2030.7 485.4,2039.7 487.4,2048.4 489.4,2056.7 491.4,2064.7 493.4,2072.4 495.4,2079.7 497.4,2086.7 499.4,2093.3 501.4,2099.6 503.4,2105.6 505.4,2111.3 507.4,2116.6 509.4,2121.6 511.4,2126.3 513.4,2130.7 515.4,2134.9 517.4,2138.7 519.4,2142.3 521.4,2145.7 523.4,2148.8 525.4,2151.7 527.4,2154.4 529.4,2156.8 531.4,2159.1 533.4,2161.2 535.4,2163.1 537.4,2164.9 539.4,2166.5 541.4,2168.0 543.4,2169.3 545.4,2170.5 547.4,2171.6 549.4,2172.6 551.4,2173.5 553.4,2174.3 555.4,2175.0 557.4,2175.7 559.4,2176.2 561.4,2176.7 563.4,2177.2 565.4,2177.6 567.4,2177.9 569.4,2178.2 571.4,2178.4 573.4,2178.7 575.4,2178.8 577.4,2179.0 579.4,2179.1 581.4,2179.2 583.4,2179.3 585.4,2179.3 587.4,2179.4 589.4,2179.4 591.4,2179.4 593.4,2179.4 595.4,2179.4 597.4,2179.4 599.4,2179.3 601.4,2179.3 603.4,2179.2 605.4,2179.2 607.4,2179.1 609.4,2179.0 611.4,2178.9 613.4,2178.9 615.4,2178.8 617.4,2178.7 619.4,2178.6 621.4,2178.5 623.4,2178.4 625.4,2178.3 627.4,2178.2 629.4,2178.1 631.4,2178.0 633.4,2177.9 635.4,2177.8 637.4,2177.6 639.4,2177.5 641.4,2177.4 643.4,2177.3 645.4,2177.2 647.4,2177.0 649.4,2176.9 651.4,2176.8 653.4,2176.7 655.4,2176.5 657.4,2176.4 659.4,2176.3 661.4,2176.1 663.4,2176.0 665.4,2175.9 667.4,2175.7 669.4,2175.6 671.4,2175.4 673.4,2175.3 675.4,2175.1 677.4,2175.0 679.4,2174.8 681.4,2174.7 683.4,2174.5 685.4,2174.4 687.4,2174.2 689.4,2174.1 691.4,2173.9 693.4,2173.8 695.4,2173.6 697.4,2173.4 699.4,2173.3 701.4,2173.1 703.4,2173.0 705.4,2172.8 707.4,2172.6 709.4,2172.5 711.4,2172.3 713.4,2172.2 715.4,2172.0 717.4,2171.8 719.4,2171.7 721.4,2171.5 723.4,2171.4 725.4,2171.2 727.4,2171.0 729.4,2170.9 731.4,2170.7 733.4,2170.6 735.4,2170.4 737.4,2170.2 739.4,2170.1 741.4,2169.9 743.4,2169.8 745.4,2169.6 747.4,2169.5 749.4,2169.3 751.4,2169.2 753.4,2169.0 755.4,2168.9 757.4,2168.7 759.4,2168.6 761.4,2168.4 763.4,2168.2 765.4,2168.1 767.4,2167.9 769.4,2167.7 771.4,2167.6 773.4,2167.4 775.4,2167.2 777.4,2167.1 779.4,2166.9 781.4,2166.7 783.4,2166.5 785.4,2166.4 787.4,2166.2 789.4,2166.0 791.4,2165.9 793.4,2165.7 795.4,2165.5 797.4,2165.4 799.4,2165.2 801.4,2165.0 803.4,2164.9 805.4,2164.7 807.4,2164.6 809.4,2164.4 811.4,2164.3 813.4,2164.1 815.4,2164.0 817.4,2163.9 819.4,2163.7 821.4,2163.6 823.4,2163.5 825.4,2163.4 827.4,2163.3 829.4,2163.2 831.4,2163.1 833.4,2163.0 835.4,2163.0 837.4,2162.9 839.4,2162.8 841.4,2162.8 843.4,2162.7 845.4,2162.7 847.4,2162.6 849.4,2162.6 851.4,2162.6 853.4,2162.6 855.4,2162.5 857.4,2162.5 859.4,2162.5 861.4,2162.5 863.4,2162.5 865.4,2162.4 867.4,2162.4 869.4,2162.4 871.4,2162.4 873.4,2162.4 875.4,2162.4 877.4,2162.3 879.4,2162.3 881.4,2162.3 883.4,2162.3 885.4,2162.3 887.4,2162.3 889.4,2162.2 891.4,2162.2 893.4,2162.2 895.4,2162.2 897.4,2162.2 899.4,2162.2 901.4,2162.2 903.4,2162.2 905.4,2162.2 907.4,2162.2 909.4,2162.2 911.4,2162.1 913.4,2162.1 915.4,2162.1 917.4,2162.1 919.4,2162.1 921.4,2162.1 923.4,2162.1 925.4,2162.0 927.4,2162.0 929.4,2162.0 931.4,2162.0 933.4,2162.0 935.4,2161.9 937.4,2161.9 939.4,2161.9 941.4,2161.8 943.4,2161.8 945.4,2161.7 947.4,2161.7 949.4,2161.6 951.4,2161.5 953.4,2161.2 955.4,2160.9 957.4,2160.6 959.4,2160.3 961.4,2159.9 963.4,2159.5 965.4,2159.0 967.4,2158.3 969.4,2157.6 971.4,2156.8 973.4,2156.0 975.4,2155.3 977.4,2154.6 979.4,2154.0 981.4,2153.5 983.4,2153.2 985.4,2152.9 987.4,2152.7 989.4,2152.5 991.4,2152.4 993.4,2152.2 995.4,2152.1 997.4,2151.9 999.4,2151.6 1001.4,2151.4 1003.4,2151.0 1005.4,2150.6 1007.4,2149.9 1009.4,2149.2 1011.4,2148.3 1013.4,2147.3 1015.4,2146.3 1017.4,2145.2 1019.4,2143.8 1021.4,2142.1 1023.4,2140.4 1025.4,2138.8 1027.4,2137.2 1029.4,2135.6 1031.4,2133.9 1033.4,2132.3 1035.4,2130.8 1037.4,2129.2 1039.4,2127.8 1041.4,2126.4 1043.4,2125.1 1045.4,2123.9 1047.4,2122.8 1049.4,2121.8 1051.4,2120.8 1053.4,2119.9 1055.4,2119.0 1057.4,2118.1 1059.4,2117.2 1061.4,2116.2 1063.4,2115.2 1065.4,2114.0 1067.4,2112.7 1069.4,2111.2 1071.4,2109.7 1073.4,2108.1 1075.4,2106.4 1077.4,2104.7 1079.4,2103.0 1081.4,2101.3 1083.4,2099.6 1085.4,2097.9 1087.4,2096.3 1089.4,2094.7 1091.4,2093.1 1093.4,2091.5 1095.4,2089.9 1097.4,2088.3 1099.4,2086.7 1101.4,2085.1 1103.4,2083.5 1105.4,2081.9 1107.4,2080.3 1109.4,2078.7 1111.4,2077.1 1113.4,2075.6 1115.4,2074.0 1117.4,2072.4 1119.4,2070.8 1121.4,2069.3 1123.4,2067.6 1125.4,2066.0 1127.4,2064.4 1129.4,2062.6 1131.4,2060.9 1133.4,2059.0 1135.4,2057.2 1137.4,2055.3 1139.4,2053.5 1141.4,2051.7 1143.4,2049.9 1145.4,2048.3 1147.4,2046.7 1149.4,2045.2 1151.4,2043.9 1153.4,2042.5 1155.4,2041.2 1157.4,2039.9 1159.4,2038.7 1161.4,2037.5 1163.4,2036.4 1165.4,2035.2 1167.4,2034.1 1169.4,2033.0 1171.4,2031.9 1173.4,2030.9 1175.4,2029.8 1177.4,2028.8 1179.4,2027.8 1181.4,2026.8 1183.4,2025.9 1185.4,2025.0 1187.4,2024.1 1189.4,2023.2 1191.4,2022.3 1193.4,2021.5 1195.4,2020.7 1197.4,2020.0 1199.4,2019.2 1201.4,2018.4 1203.4,2017.7 1205.4,2017.0 1207.4,2016.3 1209.4,2015.5 1211.4,2014.8 1213.4,2014.1 1215.4,2013.3 1217.4,2012.6 1219.4,2011.8 1221.4,2011.0 1223.4,2010.3 1225.4,2009.5 1227.4,2008.8 1229.4,2008.1 1231.4,2007.4 1233.4,2006.8 1235.4,2006.2 1237.4,2005.6 1239.4,2005.2 1241.4,2004.7 1243.4,2004.4 1245.4,2004.1 1247.4,2003.8 1249.4,2003.6 1251.4,2003.4 1253.4,2003.2 1255.4,2003.0 1257.4,2002.8 1259.4,2002.6 1261.4,2002.3 1263.4,2002.1 1265.4,2001.8 1267.4,2001.4 1269.4,2001.0 1271.4,2000.5 1273.4,1999.7 1275.4,1998.5 1277.4,1997.1 1279.4,1995.6 1281.4,1994.1 1283.4,1992.6 1285.4,1991.3 1287.4,1990.2 1289.4,1989.5 1291.4,1988.8 1293.4,1988.2 1295.4,1987.7 1297.4,1987.3 1299.4,1986.8 1301.4,1986.4 1303.4,1985.9 1305.4,1985.4 1307.4,1984.9 1309.4,1984.2 1311.4,1983.4 1313.4,1982.5 1315.4,1981.3 1317.4,1979.8 1319.4,1978.2 1321.4,1976.4 1323.4,1974.6 1325.4,1972.8 1327.4,1971.0 1329.4,1969.3 1331.4,1967.7 1333.4,1966.1 1335.4,1964.4 1337.4,1962.7 1339.4,1961.1 1341.4,1959.5 1343.4,1957.9 1345.4,1956.5 1347.4,1955.0 1349.4,1953.5 1351.4,1951.9 1353.4,1950.4 1355.4,1949.0 1357.4,1947.9 1359.4,1947.1 1361.4,1946.7 1363.4,1946.5 1365.4,1946.3 1366.0,1946.3 1367.2,1945.8 1370.8,1872.6 1377.0,1836.3"/>
<polyline fill="none" stroke="#3B6CB4" stroke-width="14.0" stroke-linejoin="miter" stroke-linecap="butt" stroke-miterlimit="4" points="265.4,2219.1 267.4,2219.1 269.4,2219.0 271.4,2219.0 273.4,2218.9 275.4,2218.9 277.4,2218.8 279.4,2218.8 281.4,2218.7 283.4,2218.6 285.4,2218.6 287.4,2218.5 289.4,2218.4 291.4,2218.3 293.4,2218.2 295.4,2218.1 297.4,2218.0 299.4,2217.9 301.4,2217.8 303.4,2217.7 305.4,2217.6 307.4,2217.5 309.4,2217.4 311.4,2217.3 313.4,2217.2 315.4,2217.0 317.4,2216.9 319.4,2216.8 321.4,2216.7 323.4,2216.5 325.4,2216.4 327.4,2216.3 329.4,2216.1 331.4,2216.0 333.4,2215.9 335.4,2215.7 337.4,2215.6 339.4,2215.5 341.4,2215.3 343.4,2215.2 345.4,2215.0 347.4,2214.8 349.4,2214.6 351.4,2214.5 353.4,2214.3 355.4,2214.1 357.4,2213.9 359.4,2213.7 361.4,2213.4 363.4,2213.2 365.4,2213.0 367.4,2212.8 369.4,2212.5 371.4,2212.3 373.4,2212.0 375.4,2211.8 377.4,2211.5 379.4,2211.2 381.4,2211.0 383.4,2210.7 385.4,2210.4 387.4,2210.1 389.4,2209.8 391.4,2209.5 393.4,2209.2 395.4,2208.8 397.4,2208.5 399.4,2208.1 401.4,2207.7 403.4,2207.4 405.4,2207.0 407.4,2206.6 409.4,2206.2 411.4,2205.8 413.4,2205.4 415.4,2205.0 417.4,2204.6 419.4,2204.2 421.4,2203.8 423.4,2203.4 425.4,2203.0 427.4,2202.6 429.4,2202.2 431.4,2201.8 433.4,2201.5 435.4,2201.1 437.4,2200.7 439.4,2200.3 441.4,2199.9 443.4,2199.5 445.4,2199.1 447.4,2198.7 449.4,2198.3 451.4,2197.9 453.4,2197.5 455.4,2197.1 457.4,2196.6 459.4,2196.2 461.4,2195.8 463.4,2195.4 465.4,2195.0 467.4,2194.6 469.4,2194.2 471.4,2193.7 473.4,2193.3 475.4,2192.9 477.4,2192.5 479.4,2192.1 481.4,2191.7 483.4,2191.2 485.4,2190.8 487.4,2190.4 489.4,2190.0 491.4,2189.5 493.4,2189.1 495.4,2188.7 497.4,2188.2 499.4,2187.8 501.4,2187.3 503.4,2186.8 505.4,2186.3 507.4,2185.8 509.4,2185.2 511.4,2184.7 513.4,2184.1 515.4,2183.4 517.4,2182.7 519.4,2182.0 521.4,2181.2 523.4,2180.4 525.4,2179.5 527.4,2178.6 529.4,2177.6 531.4,2176.5 533.4,2175.3 535.4,2174.1 537.4,2172.7 539.4,2171.3 541.4,2169.7 543.4,2168.1 545.4,2166.3 547.4,2164.4 549.4,2162.3 551.4,2160.1 553.4,2157.8 555.4,2155.3 557.4,2152.6 559.4,2149.8 561.4,2146.8 563.4,2143.6 565.4,2140.2 567.4,2136.6 569.4,2132.8 571.4,2128.8 573.4,2124.6 575.4,2120.2 577.4,2115.5 579.4,2110.6 581.4,2105.5 583.4,2100.2 585.4,2094.7 587.4,2088.9 589.4,2082.9 591.4,2076.7 593.4,2070.3 595.4,2063.7 597.4,2056.8 599.4,2049.8 601.4,2042.7 603.4,2035.3 605.4,2027.8 607.4,2020.2 609.4,2012.4 611.4,2004.6 613.4,1996.6 615.4,1988.6 617.4,1980.6 619.4,1972.5 621.4,1964.5 623.4,1956.4 625.4,1948.5 627.4,1940.6 629.4,1932.8 631.4,1925.2 633.4,1917.7 635.4,1910.4 637.4,1903.4 639.4,1896.6 641.4,1890.1 643.4,1883.9 645.4,1878.1 647.4,1872.6 649.4,1867.6 651.4,1862.9 653.4,1858.7 655.4,1855.0 657.4,1851.7 659.4,1849.0 661.4,1846.7 663.4,1845.0 665.4,1843.9 667.4,1843.2 669.4,1843.2 671.4,1843.7 673.4,1844.7 675.4,1846.2 677.4,1848.3 679.4,1850.9 681.4,1854.0 683.4,1857.6 685.4,1861.6 687.4,1866.1 689.4,1871.0 691.4,1876.2 693.4,1881.8 695.4,1887.8 697.4,1894.1 699.4,1900.6 701.4,1907.4 703.4,1914.4 705.4,1921.6 707.4,1928.9 709.4,1936.4 711.4,1943.9 713.4,1951.6 715.4,1959.3 717.4,1967.0 719.4,1974.7 721.4,1982.4 723.4,1990.0 725.4,1997.6 727.4,2005.0 729.4,2012.4 731.4,2019.6 733.4,2026.7 735.4,2033.6 737.4,2040.4 739.4,2047.0 741.4,2053.4 743.4,2059.6 745.4,2065.6 747.4,2071.4 749.4,2076.9 751.4,2082.3 753.4,2087.4 755.4,2092.3 757.4,2097.0 759.4,2101.4 761.4,2105.6 763.4,2109.6 765.4,2113.4 767.4,2117.0 769.4,2120.4 771.4,2123.5 773.4,2126.5 775.4,2129.3 777.4,2131.9 779.4,2134.3 781.4,2136.5 783.4,2138.6 785.4,2140.5 787.4,2142.3 789.4,2144.0 791.4,2145.5 793.4,2146.9 795.4,2148.2 797.4,2149.4 799.4,2150.4 801.4,2151.4 803.4,2152.3 805.4,2153.1 807.4,2153.8 809.4,2154.5 811.4,2155.1 813.4,2155.6 815.4,2156.1 817.4,2156.5 819.4,2156.9 821.4,2157.3 823.4,2157.6 825.4,2157.9 827.4,2158.1 829.4,2158.4 831.4,2158.6 833.4,2158.7 835.4,2158.9 837.4,2159.1 839.4,2159.2 841.4,2159.3 843.4,2159.5 845.4,2159.6 847.4,2159.7 849.4,2159.8 851.4,2159.9 853.4,2160.0 855.4,2160.0 857.4,2160.1 859.4,2160.2 861.4,2160.2 863.4,2160.3 865.4,2160.3 867.4,2160.4 869.4,2160.4 871.4,2160.5 873.4,2160.5 875.4,2160.5 877.4,2160.6 879.4,2160.6 881.4,2160.6 883.4,2160.7 885.4,2160.7 887.4,2160.7 889.4,2160.7 891.4,2160.7 893.4,2160.8 895.4,2160.8 897.4,2160.8 899.4,2160.8 901.4,2160.9 903.4,2160.9 905.4,2160.9 907.4,2160.9 909.4,2160.9 911.4,2160.9 913.4,2161.0 915.4,2161.0 917.4,2161.0 919.4,2161.0 921.4,2161.0 923.4,2161.0 925.4,2161.0 927.4,2161.0 929.4,2161.0 931.4,2161.0 933.4,2161.0 935.4,2161.0 937.4,2161.0 939.4,2161.0 941.4,2160.9 943.4,2160.9 945.4,2160.9 947.4,2160.9 949.4,2160.8 951.4,2160.6 953.4,2160.4 955.4,2160.2 957.4,2159.9 959.4,2159.5 961.4,2159.2 963.4,2158.8 965.4,2158.2 967.4,2157.6 969.4,2156.9 971.4,2156.1 973.4,2155.3 975.4,2154.6 977.4,2153.9 979.4,2153.3 981.4,2152.9 983.4,2152.6 985.4,2152.3 987.4,2152.1 989.4,2151.9 991.4,2151.8 993.4,2151.6 995.4,2151.5 997.4,2151.3 999.4,2151.1 1001.4,2150.8 1003.4,2150.5 1005.4,2150.0 1007.4,2149.4 1009.4,2148.7 1011.4,2147.8 1013.4,2146.9 1015.4,2145.8 1017.4,2144.7 1019.4,2143.3 1021.4,2141.6 1023.4,2139.9 1025.4,2138.3 1027.4,2136.7 1029.4,2135.1 1031.4,2133.5 1033.4,2131.9 1035.4,2130.4 1037.4,2128.8 1039.4,2127.4 1041.4,2126.0 1043.4,2124.7 1045.4,2123.5 1047.4,2122.4 1049.4,2121.4 1051.4,2120.5 1053.4,2119.6 1055.4,2118.7 1057.4,2117.8 1059.4,2116.9 1061.4,2115.9 1063.4,2114.8 1065.4,2113.6 1067.4,2112.3 1069.4,2110.9 1071.4,2109.4 1073.4,2107.8 1075.4,2106.1 1077.4,2104.4 1079.4,2102.7 1081.4,2101.0 1083.4,2099.3 1085.4,2097.6 1087.4,2096.0 1089.4,2094.4 1091.4,2092.8 1093.4,2091.2 1095.4,2089.6 1097.4,2088.0 1099.4,2086.4 1101.4,2084.8 1103.4,2083.2 1105.4,2081.7 1107.4,2080.1 1109.4,2078.5 1111.4,2076.9 1113.4,2075.3 1115.4,2073.8 1117.4,2072.2 1119.4,2070.6 1121.4,2069.0 1123.4,2067.4 1125.4,2065.8 1127.4,2064.1 1129.4,2062.4 1131.4,2060.7 1133.4,2058.8 1135.4,2057.0 1137.4,2055.1 1139.4,2053.3 1141.4,2051.5 1143.4,2049.7 1145.4,2048.1 1147.4,2046.5 1149.4,2045.1 1151.4,2043.7 1153.4,2042.3 1155.4,2041.0 1157.4,2039.8 1159.4,2038.6 1161.4,2037.4 1163.4,2036.2 1165.4,2035.1 1167.4,2034.0 1169.4,2032.9 1171.4,2031.8 1173.4,2030.7 1175.4,2029.7 1177.4,2028.7 1179.4,2027.7 1181.4,2026.7 1183.4,2025.8 1185.4,2024.8 1187.4,2023.9 1189.4,2023.1 1191.4,2022.2 1193.4,2021.4 1195.4,2020.6 1197.4,2019.8 1199.4,2019.1 1201.4,2018.3 1203.4,2017.6 1205.4,2016.9 1207.4,2016.1 1209.4,2015.4 1211.4,2014.7 1213.4,2014.0 1215.4,2013.2 1217.4,2012.4 1219.4,2011.7 1221.4,2010.9 1223.4,2010.1 1225.4,2009.4 1227.4,2008.7 1229.4,2008.0 1231.4,2007.3 1233.4,2006.7 1235.4,2006.1 1237.4,2005.5 1239.4,2005.1 1241.4,2004.6 1243.4,2004.3 1245.4,2004.0 1247.4,2003.7 1249.4,2003.5 1251.4,2003.3 1253.4,2003.1 1255.4,2002.9 1257.4,2002.7 1259.4,2002.5 1261.4,2002.2 1263.4,2002.0 1265.4,2001.7 1267.4,2001.3 1269.4,2000.9 1271.4,2000.5 1273.4,1999.6 1275.4,1998.4 1277.4,1997.0 1279.4,1995.5 1281.4,1994.0 1283.4,1992.5 1285.4,1991.2 1287.4,1990.2 1289.4,1989.4 1291.4,1988.7 1293.4,1988.2 1295.4,1987.7 1297.4,1987.2 1299.4,1986.8 1301.4,1986.3 1303.4,1985.9 1305.4,1985.4 1307.4,1984.8 1309.4,1984.1 1311.4,1983.4 1313.4,1982.4 1315.4,1981.2 1317.4,1979.7 1319.4,1978.1 1321.4,1976.3 1323.4,1974.5 1325.4,1972.7 1327.4,1970.9 1329.4,1969.3 1331.4,1967.6 1333.4,1966.0 1335.4,1964.3 1337.4,1962.7 1339.4,1961.0 1341.4,1959.4 1343.4,1957.9 1345.4,1956.4 1347.4,1955.0 1349.4,1953.4 1351.4,1951.9 1353.4,1950.4 1355.4,1949.0 1357.4,1947.9 1359.4,1947.1 1361.4,1946.7 1363.4,1946.4 1365.4,1946.3 1366.0,1946.3 1367.2,1945.8 1370.8,1872.6 1377.0,1836.3"/>
<polyline fill="none" stroke="#32AD6B" stroke-width="14.0" stroke-linejoin="miter" stroke-linecap="butt" stroke-miterlimit="4" points="265.4,2219.4 267.4,2219.3 269.4,2219.3 271.4,2219.3 273.4,2219.2 275.4,2219.2 277.4,2219.1 279.4,2219.1 281.4,2219.0 283.4,2219.0 285.4,2218.9 287.4,2218.8 289.4,2218.7 291.4,2218.7 293.4,2218.6 295.4,2218.5 297.4,2218.4 299.4,2218.3 301.4,2218.2 303.4,2218.1 305.4,2218.0 307.4,2217.9 309.4,2217.8 311.4,2217.7 313.4,2217.6 315.4,2217.5 317.4,2217.3 319.4,2217.2 321.4,2217.1 323.4,2217.0 325.4,2216.8 327.4,2216.7 329.4,2216.6 331.4,2216.5 333.4,2216.3 335.4,2216.2 337.4,2216.1 339.4,2215.9 341.4,2215.8 343.4,2215.7 345.4,2215.5 347.4,2215.3 349.4,2215.2 351.4,2215.0 353.4,2214.8 355.4,2214.6 357.4,2214.4 359.4,2214.2 361.4,2214.0 363.4,2213.8 365.4,2213.6 367.4,2213.4 369.4,2213.1 371.4,2212.9 373.4,2212.7 375.4,2212.4 377.4,2212.2 379.4,2211.9 381.4,2211.7 383.4,2211.4 385.4,2211.1 387.4,2210.9 389.4,2210.6 391.4,2210.3 393.4,2210.0 395.4,2209.6 397.4,2209.3 399.4,2208.9 401.4,2208.6 403.4,2208.2 405.4,2207.8 407.4,2207.4 409.4,2207.1 411.4,2206.7 413.4,2206.3 415.4,2205.9 417.4,2205.5 419.4,2205.1 421.4,2204.8 423.4,2204.4 425.4,2204.0 427.4,2203.6 429.4,2203.3 431.4,2202.9 433.4,2202.6 435.4,2202.2 437.4,2201.9 439.4,2201.5 441.4,2201.1 443.4,2200.8 445.4,2200.4 447.4,2200.0 449.4,2199.6 451.4,2199.3 453.4,2198.9 455.4,2198.5 457.4,2198.1 459.4,2197.8 461.4,2197.4 463.4,2197.0 465.4,2196.7 467.4,2196.3 469.4,2195.9 471.4,2195.6 473.4,2195.2 475.4,2194.9 477.4,2194.5 479.4,2194.2 481.4,2193.9 483.4,2193.5 485.4,2193.2 487.4,2192.9 489.4,2192.6 491.4,2192.3 493.4,2192.1 495.4,2191.8 497.4,2191.5 499.4,2191.3 501.4,2191.0 503.4,2190.8 505.4,2190.6 507.4,2190.3 509.4,2190.1 511.4,2189.9 513.4,2189.7 515.4,2189.5 517.4,2189.3 519.4,2189.1 521.4,2188.9 523.4,2188.7 525.4,2188.5 527.4,2188.3 529.4,2188.1 531.4,2187.9 533.4,2187.7 535.4,2187.5 537.4,2187.4 539.4,2187.2 541.4,2187.0 543.4,2186.8 545.4,2186.6 547.4,2186.4 549.4,2186.3 551.4,2186.1 553.4,2185.9 555.4,2185.7 557.4,2185.5 559.4,2185.3 561.4,2185.1 563.4,2184.9 565.4,2184.7 567.4,2184.5 569.4,2184.3 571.4,2184.1 573.4,2183.9 575.4,2183.7 577.4,2183.4 579.4,2183.2 581.4,2183.0 583.4,2182.8 585.4,2182.6 587.4,2182.3 589.4,2182.1 591.4,2181.9 593.4,2181.7 595.4,2181.4 597.4,2181.2 599.4,2180.9 601.4,2180.7 603.4,2180.4 605.4,2180.2 607.4,2179.9 609.4,2179.6 611.4,2179.3 613.4,2179.1 615.4,2178.7 617.4,2178.4 619.4,2178.1 621.4,2177.8 623.4,2177.4 625.4,2177.0 627.4,2176.6 629.4,2176.2 631.4,2175.8 633.4,2175.3 635.4,2174.8 637.4,2174.3 639.4,2173.7 641.4,2173.1 643.4,2172.5 645.4,2171.8 647.4,2171.0 649.4,2170.2 651.4,2169.4 653.4,2168.5 655.4,2167.5 657.4,2166.4 659.4,2165.3 661.4,2164.0 663.4,2162.7 665.4,2161.3 667.4,2159.8 669.4,2158.1 671.4,2156.4 673.4,2154.5 675.4,2152.4 677.4,2150.3 679.4,2147.9 681.4,2145.4 683.4,2142.8 685.4,2140.0 687.4,2137.0 689.4,2133.8 691.4,2130.4 693.4,2126.8 695.4,2122.9 697.4,2118.9 699.4,2114.7 701.4,2110.2 703.4,2105.5 705.4,2100.6 707.4,2095.4 709.4,2090.0 711.4,2084.3 713.4,2078.5 715.4,2072.3 717.4,2066.0 719.4,2059.4 721.4,2052.6 723.4,2045.6 725.4,2038.4 727.4,2031.0 729.4,2023.4 731.4,2015.6 733.4,2007.7 735.4,1999.6 737.4,1991.5 739.4,1983.2 741.4,1974.8 743.4,1966.4 745.4,1957.9 747.4,1949.5 749.4,1941.0 751.4,1932.6 753.4,1924.3 755.4,1916.0 757.4,1907.9 759.4,1899.9 761.4,1892.2 763.4,1884.6 765.4,1877.3 767.4,1870.3 769.4,1863.6 771.4,1857.2 773.4,1851.2 775.4,1845.7 777.4,1840.5 779.4,1835.8 781.4,1831.6 783.4,1827.9 785.4,1824.7 787.4,1822.1 789.4,1820.0 791.4,1818.5 793.4,1817.5 795.4,1817.2 797.4,1817.4 799.4,1818.2 801.4,1819.6 803.4,1821.6 805.4,1824.1 807.4,1827.1 809.4,1830.7 811.4,1834.8 813.4,1839.3 815.4,1844.3 817.4,1849.7 819.4,1855.5 821.4,1861.7 823.4,1868.3 825.4,1875.1 827.4,1882.2 829.4,1889.6 831.4,1897.2 833.4,1904.9 835.4,1912.8 837.4,1920.9 839.4,1929.0 841.4,1937.2 843.4,1945.5 845.4,1953.7 847.4,1961.9 849.4,1970.1 851.4,1978.3 853.4,1986.3 855.4,1994.2 857.4,2002.0 859.4,2009.7 861.4,2017.2 863.4,2024.5 865.4,2031.6 867.4,2038.5 869.4,2045.3 871.4,2051.8 873.4,2058.0 875.4,2064.1 877.4,2069.9 879.4,2075.5 881.4,2080.8 883.4,2085.9 885.4,2090.8 887.4,2095.4 889.4,2099.8 891.4,2104.0 893.4,2108.0 895.4,2111.7 897.4,2115.2 899.4,2118.6 901.4,2121.7 903.4,2124.6 905.4,2127.3 907.4,2129.9 909.4,2132.3 911.4,2134.5 913.4,2136.6 915.4,2138.5 917.4,2140.3 919.4,2141.9 921.4,2143.4 923.4,2144.8 925.4,2146.1 927.4,2147.3 929.4,2148.4 931.4,2149.4 933.4,2150.3 935.4,2151.1 937.4,2151.9 939.4,2152.5 941.4,2153.2 943.4,2153.7 945.4,2154.2 947.4,2154.7 949.4,2155.0 951.4,2155.3 953.4,2155.4 955.4,2155.5 957.4,2155.5 959.4,2155.4 961.4,2155.3 963.4,2155.2 965.4,2154.8 967.4,2154.3 969.4,2153.8 971.4,2153.2 973.4,2152.6 975.4,2151.9 977.4,2151.4 979.4,2150.9 981.4,2150.6 983.4,2150.3 985.4,2150.2 987.4,2150.0 989.4,2149.9 991.4,2149.9 993.4,2149.8 995.4,2149.7 997.4,2149.5 999.4,2149.4 1001.4,2149.2 1003.4,2148.9 1005.4,2148.5 1007.4,2147.9 1009.4,2147.2 1011.4,2146.3 1013.4,2145.4 1015.4,2144.4 1017.4,2143.3 1019.4,2142.0 1021.4,2140.3 1023.4,2138.6 1025.4,2137.1 1027.4,2135.5 1029.4,2133.9 1031.4,2132.3 1033.4,2130.8 1035.4,2129.2 1037.4,2127.7 1039.4,2126.3 1041.4,2124.9 1043.4,2123.6 1045.4,2122.5 1047.4,2121.4 1049.4,2120.4 1051.4,2119.5 1053.4,2118.6 1055.4,2117.8 1057.4,2116.9 1059.4,2116.0 1061.4,2115.0 1063.4,2113.9 1065.4,2112.8 1067.4,2111.5 1069.4,2110.1 1071.4,2108.6 1073.4,2107.0 1075.4,2105.3 1077.4,2103.6 1079.4,2101.9 1081.4,2100.2 1083.4,2098.6 1085.4,2096.9 1087.4,2095.3 1089.4,2093.7 1091.4,2092.2 1093.4,2090.6 1095.4,2089.0 1097.4,2087.4 1099.4,2085.8 1101.4,2084.2 1103.4,2082.6 1105.4,2081.0 1107.4,2079.5 1109.4,2077.9 1111.4,2076.3 1113.4,2074.8 1115.4,2073.2 1117.4,2071.6 1119.4,2070.1 1121.4,2068.5 1123.4,2066.9 1125.4,2065.3 1127.4,2063.6 1129.4,2061.9 1131.4,2060.2 1133.4,2058.3 1135.4,2056.5 1137.4,2054.6 1139.4,2052.8 1141.4,2051.0 1143.4,2049.3 1145.4,2047.6 1147.4,2046.1 1149.4,2044.6 1151.4,2043.2 1153.4,2041.9 1155.4,2040.6 1157.4,2039.4 1159.4,2038.1 1161.4,2037.0 1163.4,2035.8 1165.4,2034.7 1167.4,2033.6 1169.4,2032.5 1171.4,2031.4 1173.4,2030.3 1175.4,2029.3 1177.4,2028.3 1179.4,2027.3 1181.4,2026.3 1183.4,2025.4 1185.4,2024.5 1187.4,2023.6 1189.4,2022.7 1191.4,2021.9 1193.4,2021.1 1195.4,2020.3 1197.4,2019.5 1199.4,2018.7 1201.4,2018.0 1203.4,2017.3 1205.4,2016.6 1207.4,2015.8 1209.4,2015.1 1211.4,2014.4 1213.4,2013.7 1215.4,2012.9 1217.4,2012.2 1219.4,2011.4 1221.4,2010.6 1223.4,2009.9 1225.4,2009.1 1227.4,2008.4 1229.4,2007.7 1231.4,2007.0 1233.4,2006.4 1235.4,2005.8 1237.4,2005.3 1239.4,2004.8 1241.4,2004.4 1243.4,2004.0 1245.4,2003.7 1247.4,2003.5 1249.4,2003.2 1251.4,2003.0 1253.4,2002.8 1255.4,2002.7 1257.4,2002.5 1259.4,2002.3 1261.4,2002.0 1263.4,2001.8 1265.4,2001.5 1267.4,2001.1 1269.4,2000.7 1271.4,2000.2 1273.4,1999.4 1275.4,1998.2 1277.4,1996.8 1279.4,1995.3 1281.4,1993.8 1283.4,1992.3 1285.4,1991.0 1287.4,1990.0 1289.4,1989.2 1291.4,1988.6 1293.4,1988.0 1295.4,1987.5 1297.4,1987.0 1299.4,1986.6 1301.4,1986.1 1303.4,1985.7 1305.4,1985.2 1307.4,1984.6 1309.4,1984.0 1311.4,1983.2 1313.4,1982.3 1315.4,1981.0 1317.4,1979.6 1319.4,1977.9 1321.4,1976.2 1323.4,1974.4 1325.4,1972.5 1327.4,1970.8 1329.4,1969.1 1331.4,1967.5 1333.4,1965.8 1335.4,1964.2 1337.4,1962.5 1339.4,1960.9 1341.4,1959.3 1343.4,1957.7 1345.4,1956.3 1347.4,1954.8 1349.4,1953.3 1351.4,1951.7 1353.4,1950.2 1355.4,1948.8 1357.4,1947.7 1359.4,1946.9 1361.4,1946.6 1363.4,1946.3 1365.4,1946.1 1366.0,1946.1 1367.2,1945.6 1370.8,1872.4 1377.0,1836.1"/>
<polyline fill="none" stroke="#A07AB7" stroke-width="14.0" stroke-linejoin="miter" stroke-linecap="butt" stroke-miterlimit="4" points="265.4,2217.7 267.4,2217.6 269.4,2217.6 271.4,2217.5 273.4,2217.4 275.4,2217.3 277.4,2217.2 279.4,2217.1 281.4,2217.0 283.4,2216.9 285.4,2216.8 287.4,2216.7 289.4,2216.6 291.4,2216.4 293.4,2216.3 295.4,2216.2 297.4,2216.0 299.4,2215.8 301.4,2215.7 303.4,2215.5 305.4,2215.3 307.4,2215.1 309.4,2214.9 311.4,2214.7 313.4,2214.5 315.4,2214.3 317.4,2214.0 319.4,2213.8 321.4,2213.5 323.4,2213.2 325.4,2212.9 327.4,2212.6 329.4,2212.2 331.4,2211.9 333.4,2211.5 335.4,2211.1 337.4,2210.7 339.4,2210.2 341.4,2209.7 343.4,2209.1 345.4,2208.5 347.4,2207.9 349.4,2207.2 351.4,2206.4 353.4,2205.6 355.4,2204.7 357.4,2203.7 359.4,2202.7 361.4,2201.6 363.4,2200.4 365.4,2199.1 367.4,2197.7 369.4,2196.1 371.4,2194.5 373.4,2192.8 375.4,2190.9 377.4,2188.9 379.4,2186.8 381.4,2184.5 383.4,2182.1 385.4,2179.5 387.4,2176.7 389.4,2173.7 391.4,2170.6 393.4,2167.2 395.4,2163.6 397.4,2159.8 399.4,2155.8 401.4,2151.6 403.4,2147.2 405.4,2142.5 407.4,2137.6 409.4,2132.4 411.4,2127.0 413.4,2121.4 415.4,2115.6 417.4,2109.5 419.4,2103.2 421.4,2096.7 423.4,2090.0 425.4,2083.0 427.4,2075.9 429.4,2068.5 431.4,2061.0 433.4,2053.3 435.4,2045.5 437.4,2037.4 439.4,2029.3 441.4,2021.0 443.4,2012.6 445.4,2004.2 447.4,1995.7 449.4,1987.2 451.4,1978.7 453.4,1970.1 455.4,1961.7 457.4,1953.3 459.4,1945.0 461.4,1936.9 463.4,1928.9 465.4,1921.1 467.4,1913.5 469.4,1906.2 471.4,1899.2 473.4,1892.5 475.4,1886.2 477.4,1880.2 479.4,1874.6 481.4,1869.5 483.4,1864.8 485.4,1860.6 487.4,1857.0 489.4,1853.8 491.4,1851.2 493.4,1849.1 495.4,1847.6 497.4,1846.7 499.4,1846.3 501.4,1846.6 503.4,1847.4 505.4,1848.7 507.4,1850.7 509.4,1853.1 511.4,1856.1 513.4,1859.6 515.4,1863.6 517.4,1868.1 519.4,1872.9 521.4,1878.3 523.4,1884.0 525.4,1890.0 527.4,1896.4 529.4,1903.1 531.4,1910.0 533.4,1917.2 535.4,1924.6 537.4,1932.2 539.4,1939.9 541.4,1947.7 543.4,1955.6 545.4,1963.6 547.4,1971.6 549.4,1979.6 551.4,1987.6 553.4,1995.6 555.4,2003.4 557.4,2011.2 559.4,2018.9 561.4,2026.5 563.4,2033.9 565.4,2041.1 567.4,2048.2 569.4,2055.1 571.4,2061.8 573.4,2068.3 575.4,2074.6 577.4,2080.7 579.4,2086.5 581.4,2092.1 583.4,2097.5 585.4,2102.7 587.4,2107.6 589.4,2112.3 591.4,2116.8 593.4,2121.0 595.4,2125.0 597.4,2128.8 599.4,2132.4 601.4,2135.7 603.4,2138.9 605.4,2141.9 607.4,2144.6 609.4,2147.2 611.4,2149.6 613.4,2151.9 615.4,2154.0 617.4,2155.9 619.4,2157.7 621.4,2159.3 623.4,2160.8 625.4,2162.2 627.4,2163.5 629.4,2164.6 631.4,2165.7 633.4,2166.6 635.4,2167.5 637.4,2168.3 639.4,2169.0 641.4,2169.6 643.4,2170.2 645.4,2170.7 647.4,2171.1 649.4,2171.5 651.4,2171.8 653.4,2172.1 655.4,2172.4 657.4,2172.6 659.4,2172.8 661.4,2172.9 663.4,2173.1 665.4,2173.2 667.4,2173.2 669.4,2173.3 671.4,2173.3 673.4,2173.3 675.4,2173.3 677.4,2173.3 679.4,2173.2 681.4,2173.2 683.4,2173.1 685.4,2173.1 687.4,2173.0 689.4,2172.9 691.4,2172.8 693.4,2172.7 695.4,2172.6 697.4,2172.5 699.4,2172.4 701.4,2172.3 703.4,2172.1 705.4,2172.0 707.4,2171.9 709.4,2171.8 711.4,2171.6 713.4,2171.5 715.4,2171.3 717.4,2171.2 719.4,2171.1 721.4,2170.9 723.4,2170.8 725.4,2170.6 727.4,2170.5 729.4,2170.4 731.4,2170.2 733.4,2170.1 735.4,2169.9 737.4,2169.8 739.4,2169.7 741.4,2169.5 743.4,2169.4 745.4,2169.2 747.4,2169.1 749.4,2169.0 751.4,2168.8 753.4,2168.7 755.4,2168.5 757.4,2168.4 759.4,2168.2 761.4,2168.1 763.4,2167.9 765.4,2167.8 767.4,2167.6 769.4,2167.5 771.4,2167.3 773.4,2167.2 775.4,2167.0 777.4,2166.8 779.4,2166.7 781.4,2166.5 783.4,2166.3 785.4,2166.2 787.4,2166.0 789.4,2165.8 791.4,2165.7 793.4,2165.5 795.4,2165.3 797.4,2165.2 799.4,2165.0 801.4,2164.9 803.4,2164.7 805.4,2164.6 807.4,2164.4 809.4,2164.3 811.4,2164.1 813.4,2164.0 815.4,2163.9 817.4,2163.7 819.4,2163.6 821.4,2163.5 823.4,2163.4 825.4,2163.3 827.4,2163.2 829.4,2163.1 831.4,2163.0 833.4,2162.9 835.4,2162.9 837.4,2162.8 839.4,2162.7 841.4,2162.7 843.4,2162.6 845.4,2162.6 847.4,2162.6 849.4,2162.5 851.4,2162.5 853.4,2162.5 855.4,2162.5 857.4,2162.5 859.4,2162.4 861.4,2162.4 863.4,2162.4 865.4,2162.4 867.4,2162.4 869.4,2162.4 871.4,2162.3 873.4,2162.3 875.4,2162.3 877.4,2162.3 879.4,2162.3 881.4,2162.3 883.4,2162.3 885.4,2162.2 887.4,2162.2 889.4,2162.2 891.4,2162.2 893.4,2162.2 895.4,2162.2 897.4,2162.2 899.4,2162.2 901.4,2162.2 903.4,2162.2 905.4,2162.2 907.4,2162.1 909.4,2162.1 911.4,2162.1 913.4,2162.1 915.4,2162.1 917.4,2162.1 919.4,2162.1 921.4,2162.1 923.4,2162.1 925.4,2162.0 927.4,2162.0 929.4,2162.0 931.4,2162.0 933.4,2162.0 935.4,2161.9 937.4,2161.9 939.4,2161.9 941.4,2161.8 943.4,2161.8 945.4,2161.8 947.4,2161.7 949.4,2161.6 951.4,2161.5 953.4,2161.2 955.4,2161.0 957.4,2160.6 959.4,2160.3 961.4,2160.0 963.4,2159.5 965.4,2159.0 967.4,2158.3 969.4,2157.6 971.4,2156.8 973.4,2156.0 975.4,2155.3 977.4,2154.6 979.4,2154.0 981.4,2153.5 983.4,2153.2 985.4,2152.9 987.4,2152.7 989.4,2152.6 991.4,2152.4 993.4,2152.2 995.4,2152.1 997.4,2151.9 999.4,2151.7 1001.4,2151.4 1003.4,2151.1 1005.4,2150.6 1007.4,2150.0 1009.4,2149.2 1011.4,2148.3 1013.4,2147.4 1015.4,2146.3 1017.4,2145.2 1019.4,2143.8 1021.4,2142.1 1023.4,2140.4 1025.4,2138.8 1027.4,2137.2 1029.4,2135.6 1031.4,2134.0 1033.4,2132.4 1035.4,2130.8 1037.4,2129.3 1039.4,2127.8 1041.4,2126.4 1043.4,2125.1 1045.4,2123.9 1047.4,2122.8 1049.4,2121.8 1051.4,2120.9 1053.4,2120.0 1055.4,2119.1 1057.4,2118.2 1059.4,2117.2 1061.4,2116.3 1063.4,2115.2 1065.4,2114.0 1067.4,2112.7 1069.4,2111.3 1071.4,2109.7 1073.4,2108.1 1075.4,2106.4 1077.4,2104.7 1079.4,2103.0 1081.4,2101.3 1083.4,2099.6 1085.4,2098.0 1087.4,2096.3 1089.4,2094.7 1091.4,2093.1 1093.4,2091.5 1095.4,2089.9 1097.4,2088.3 1099.4,2086.7 1101.4,2085.1 1103.4,2083.5 1105.4,2081.9 1107.4,2080.3 1109.4,2078.7 1111.4,2077.2 1113.4,2075.6 1115.4,2074.0 1117.4,2072.5 1119.4,2070.9 1121.4,2069.3 1123.4,2067.7 1125.4,2066.1 1127.4,2064.4 1129.4,2062.7 1131.4,2060.9 1133.4,2059.1 1135.4,2057.2 1137.4,2055.3 1139.4,2053.5 1141.4,2051.7 1143.4,2049.9 1145.4,2048.3 1147.4,2046.7 1149.4,2045.3 1151.4,2043.9 1153.4,2042.5 1155.4,2041.2 1157.4,2040.0 1159.4,2038.8 1161.4,2037.6 1163.4,2036.4 1165.4,2035.3 1167.4,2034.2 1169.4,2033.1 1171.4,2032.0 1173.4,2030.9 1175.4,2029.9 1177.4,2028.9 1179.4,2027.9 1181.4,2026.9 1183.4,2025.9 1185.4,2025.0 1187.4,2024.1 1189.4,2023.2 1191.4,2022.4 1193.4,2021.6 1195.4,2020.8 1197.4,2020.0 1199.4,2019.2 1201.4,2018.5 1203.4,2017.7 1205.4,2017.0 1207.4,2016.3 1209.4,2015.6 1211.4,2014.9 1213.4,2014.1 1215.4,2013.4 1217.4,2012.6 1219.4,2011.8 1221.4,2011.1 1223.4,2010.3 1225.4,2009.5 1227.4,2008.8 1229.4,2008.1 1231.4,2007.4 1233.4,2006.8 1235.4,2006.2 1237.4,2005.7 1239.4,2005.2 1241.4,2004.8 1243.4,2004.4 1245.4,2004.1 1247.4,2003.8 1249.4,2003.6 1251.4,2003.4 1253.4,2003.2 1255.4,2003.0 1257.4,2002.8 1259.4,2002.6 1261.4,2002.4 1263.4,2002.1 1265.4,2001.8 1267.4,2001.5 1269.4,2001.1 1271.4,2000.6 1273.4,1999.7 1275.4,1998.6 1277.4,1997.2 1279.4,1995.6 1281.4,1994.1 1283.4,1992.6 1285.4,1991.3 1287.4,1990.3 1289.4,1989.5 1291.4,1988.8 1293.4,1988.3 1295.4,1987.8 1297.4,1987.3 1299.4,1986.9 1301.4,1986.4 1303.4,1986.0 1305.4,1985.5 1307.4,1984.9 1309.4,1984.2 1311.4,1983.5 1313.4,1982.5 1315.4,1981.3 1317.4,1979.8 1319.4,1978.2 1321.4,1976.4 1323.4,1974.6 1325.4,1972.8 1327.4,1971.0 1329.4,1969.3 1331.4,1967.7 1333.4,1966.1 1335.4,1964.4 1337.4,1962.8 1339.4,1961.1 1341.4,1959.5 1343.4,1958.0 1345.4,1956.5 1347.4,1955.1 1349.4,1953.5 1351.4,1952.0 1353.4,1950.4 1355.4,1949.1 1357.4,1947.9 1359.4,1947.2 1361.4,1946.8 1363.4,1946.5 1365.4,1946.3 1366.0,1946.3 1367.2,1945.8 1370.8,1872.6 1377.0,1836.3"/>
<polyline fill="none" stroke="#C99A2B" stroke-width="14.0" stroke-linejoin="miter" stroke-linecap="butt" stroke-miterlimit="4" points="265.4,2219.7 267.4,2219.7 269.4,2219.6 271.4,2219.6 273.4,2219.6 275.4,2219.5 277.4,2219.5 279.4,2219.4 281.4,2219.4 283.4,2219.3 285.4,2219.2 287.4,2219.2 289.4,2219.1 291.4,2219.0 293.4,2218.9 295.4,2218.9 297.4,2218.8 299.4,2218.7 301.4,2218.6 303.4,2218.5 305.4,2218.4 307.4,2218.3 309.4,2218.2 311.4,2218.1 313.4,2218.0 315.4,2217.9 317.4,2217.7 319.4,2217.6 321.4,2217.5 323.4,2217.4 325.4,2217.3 327.4,2217.1 329.4,2217.0 331.4,2216.9 333.4,2216.8 335.4,2216.7 337.4,2216.5 339.4,2216.4 341.4,2216.3 343.4,2216.1 345.4,2216.0 347.4,2215.8 349.4,2215.6 351.4,2215.5 353.4,2215.3 355.4,2215.1 357.4,2214.9 359.4,2214.7 361.4,2214.5 363.4,2214.3 365.4,2214.1 367.4,2213.9 369.4,2213.7 371.4,2213.4 373.4,2213.2 375.4,2213.0 377.4,2212.7 379.4,2212.5 381.4,2212.2 383.4,2212.0 385.4,2211.7 387.4,2211.4 389.4,2211.2 391.4,2210.9 393.4,2210.5 395.4,2210.2 397.4,2209.9 399.4,2209.5 401.4,2209.2 403.4,2208.8 405.4,2208.5 407.4,2208.1 409.4,2207.7 411.4,2207.3 413.4,2207.0 415.4,2206.6 417.4,2206.2 419.4,2205.8 421.4,2205.4 423.4,2205.1 425.4,2204.7 427.4,2204.4 429.4,2204.0 431.4,2203.7 433.4,2203.3 435.4,2203.0 437.4,2202.6 439.4,2202.3 441.4,2201.9 443.4,2201.5 445.4,2201.2 447.4,2200.8 449.4,2200.5 451.4,2200.1 453.4,2199.7 455.4,2199.4 457.4,2199.0 459.4,2198.6 461.4,2198.3 463.4,2197.9 465.4,2197.6 467.4,2197.2 469.4,2196.9 471.4,2196.5 473.4,2196.2 475.4,2195.8 477.4,2195.5 479.4,2195.2 481.4,2194.9 483.4,2194.6 485.4,2194.3 487.4,2194.0 489.4,2193.7 491.4,2193.4 493.4,2193.1 495.4,2192.9 497.4,2192.6 499.4,2192.4 501.4,2192.2 503.4,2192.0 505.4,2191.7 507.4,2191.5 509.4,2191.3 511.4,2191.1 513.4,2190.9 515.4,2190.7 517.4,2190.6 519.4,2190.4 521.4,2190.2 523.4,2190.0 525.4,2189.8 527.4,2189.7 529.4,2189.5 531.4,2189.3 533.4,2189.2 535.4,2189.0 537.4,2188.9 539.4,2188.7 541.4,2188.5 543.4,2188.4 545.4,2188.2 547.4,2188.1 549.4,2187.9 551.4,2187.8 553.4,2187.6 555.4,2187.4 557.4,2187.3 559.4,2187.1 561.4,2186.9 563.4,2186.8 565.4,2186.6 567.4,2186.4 569.4,2186.3 571.4,2186.1 573.4,2185.9 575.4,2185.8 577.4,2185.6 579.4,2185.4 581.4,2185.2 583.4,2185.1 585.4,2184.9 587.4,2184.7 589.4,2184.5 591.4,2184.4 593.4,2184.2 595.4,2184.0 597.4,2183.9 599.4,2183.7 601.4,2183.5 603.4,2183.4 605.4,2183.2 607.4,2183.0 609.4,2182.8 611.4,2182.7 613.4,2182.5 615.4,2182.3 617.4,2182.2 619.4,2182.0 621.4,2181.8 623.4,2181.7 625.4,2181.5 627.4,2181.3 629.4,2181.1 631.4,2181.0 633.4,2180.8 635.4,2180.6 637.4,2180.4 639.4,2180.3 641.4,2180.1 643.4,2179.9 645.4,2179.8 647.4,2179.6 649.4,2179.4 651.4,2179.2 653.4,2179.1 655.4,2178.9 657.4,2178.7 659.4,2178.5 661.4,2178.3 663.4,2178.2 665.4,2178.0 667.4,2177.8 669.4,2177.6 671.4,2177.4 673.4,2177.2 675.4,2177.1 677.4,2176.9 679.4,2176.7 681.4,2176.5 683.4,2176.3 685.4,2176.1 687.4,2175.9 689.4,2175.7 691.4,2175.6 693.4,2175.4 695.4,2175.2 697.4,2175.0 699.4,2174.8 701.4,2174.6 703.4,2174.4 705.4,2174.2 707.4,2174.0 709.4,2173.8 711.4,2173.6 713.4,2173.4 715.4,2173.3 717.4,2173.1 719.4,2172.9 721.4,2172.7 723.4,2172.5 725.4,2172.3 727.4,2172.1 729.4,2171.9 731.4,2171.8 733.4,2171.6 735.4,2171.4 737.4,2171.2 739.4,2171.0 741.4,2170.8 743.4,2170.7 745.4,2170.5 747.4,2170.3 749.4,2170.1 751.4,2170.0 753.4,2169.8 755.4,2169.6 757.4,2169.4 759.4,2169.3 761.4,2169.1 763.4,2168.9 765.4,2168.7 767.4,2168.5 769.4,2168.3 771.4,2168.1 773.4,2167.9 775.4,2167.7 777.4,2167.5 779.4,2167.3 781.4,2167.1 783.4,2166.9 785.4,2166.7 787.4,2166.5 789.4,2166.3 791.4,2166.2 793.4,2166.0 795.4,2165.8 797.4,2165.6 799.4,2165.4 801.4,2165.2 803.4,2165.0 805.4,2164.8 807.4,2164.7 809.4,2164.5 811.4,2164.3 813.4,2164.2 815.4,2164.0 817.4,2163.8 819.4,2163.7 821.4,2163.5 823.4,2163.4 825.4,2163.2 827.4,2163.1 829.4,2163.0 831.4,2162.9 833.4,2162.8 835.4,2162.6 837.4,2162.5 839.4,2162.4 841.4,2162.4 843.4,2162.3 845.4,2162.2 847.4,2162.1 849.4,2162.1 851.4,2162.0 853.4,2161.9 855.4,2161.9 857.4,2161.8 859.4,2161.7 861.4,2161.6 863.4,2161.6 865.4,2161.5 867.4,2161.4 869.4,2161.3 871.4,2161.2 873.4,2161.1 875.4,2161.0 877.4,2160.9 879.4,2160.8 881.4,2160.7 883.4,2160.6 885.4,2160.4 887.4,2160.3 889.4,2160.1 891.4,2159.9 893.4,2159.8 895.4,2159.6 897.4,2159.3 899.4,2159.1 901.4,2158.9 903.4,2158.6 905.4,2158.3 907.4,2157.9 909.4,2157.6 911.4,2157.2 913.4,2156.8 915.4,2156.3 917.4,2155.8 919.4,2155.3 921.4,2154.7 923.4,2154.0 925.4,2153.3 927.4,2152.6 929.4,2151.7 931.4,2150.9 933.4,2149.9 935.4,2148.9 937.4,2147.8 939.4,2146.6 941.4,2145.3 943.4,2144.0 945.4,2142.5 947.4,2141.0 949.4,2139.3 951.4,2137.4 953.4,2135.4 955.4,2133.2 957.4,2130.9 959.4,2128.5 961.4,2125.9 963.4,2123.1 965.4,2120.1 967.4,2116.8 969.4,2113.4 971.4,2109.8 973.4,2106.0 975.4,2102.2 977.4,2098.4 979.4,2094.5 981.4,2090.6 983.4,2086.8 985.4,2082.9 987.4,2079.0 989.4,2075.1 991.4,2071.0 993.4,2066.9 995.4,2062.8 997.4,2058.5 999.4,2054.2 1001.4,2049.7 1003.4,2045.2 1005.4,2040.5 1007.4,2035.7 1009.4,2030.7 1011.4,2025.7 1013.4,2020.6 1015.4,2015.5 1017.4,2010.3 1019.4,2005.0 1021.4,1999.5 1023.4,1994.0 1025.4,1988.8 1027.4,1983.7 1029.4,1978.8 1031.4,1974.0 1033.4,1969.5 1035.4,1965.2 1037.4,1961.1 1039.4,1957.3 1041.4,1953.8 1043.4,1950.7 1045.4,1948.0 1047.4,1945.6 1049.4,1943.6 1051.4,1941.9 1053.4,1940.5 1055.4,1939.5 1057.4,1938.7 1059.4,1938.2 1061.4,1937.9 1063.4,1937.8 1065.4,1937.9 1067.4,1938.1 1069.4,1938.5 1071.4,1939.0 1073.4,1939.6 1075.4,1940.5 1077.4,1941.5 1079.4,1942.7 1081.4,1944.1 1083.4,1945.7 1085.4,1947.5 1087.4,1949.5 1089.4,1951.6 1091.4,1953.8 1093.4,1956.2 1095.4,1958.6 1097.4,1961.0 1099.4,1963.6 1101.4,1966.1 1103.4,1968.7 1105.4,1971.3 1107.4,1973.9 1109.4,1976.5 1111.4,1979.1 1113.4,1981.6 1115.4,1984.2 1117.4,1986.6 1119.4,1989.0 1121.4,1991.2 1123.4,1993.4 1125.4,1995.5 1127.4,1997.4 1129.4,1999.2 1131.4,2000.8 1133.4,2002.3 1135.4,2003.6 1137.4,2004.8 1139.4,2005.9 1141.4,2007.0 1143.4,2007.9 1145.4,2008.9 1147.4,2009.8 1149.4,2010.7 1151.4,2011.5 1153.4,2012.3 1155.4,2013.0 1157.4,2013.7 1159.4,2014.3 1161.4,2014.8 1163.4,2015.2 1165.4,2015.6 1167.4,2015.9 1169.4,2016.1 1171.4,2016.2 1173.4,2016.3 1175.4,2016.4 1177.4,2016.3 1179.4,2016.3 1181.4,2016.2 1183.4,2016.0 1185.4,2015.8 1187.4,2015.6 1189.4,2015.3 1191.4,2015.1 1193.4,2014.8 1195.4,2014.5 1197.4,2014.2 1199.4,2013.8 1201.4,2013.4 1203.4,2013.0 1205.4,2012.6 1207.4,2012.2 1209.4,2011.8 1211.4,2011.3 1213.4,2010.8 1215.4,2010.2 1217.4,2009.6 1219.4,2009.0 1221.4,2008.4 1223.4,2007.8 1225.4,2007.2 1227.4,2006.5 1229.4,2005.9 1231.4,2005.4 1233.4,2004.8 1235.4,2004.3 1237.4,2003.9 1239.4,2003.4 1241.4,2003.1 1243.4,2002.8 1245.4,2002.5 1247.4,2002.3 1249.4,2002.1 1251.4,2002.0 1253.4,2001.8 1255.4,2001.7 1257.4,2001.5 1259.4,2001.3 1261.4,2001.1 1263.4,2000.9 1265.4,2000.6 1267.4,2000.3 1269.4,1999.9 1271.4,1999.5 1273.4,1998.6 1275.4,1997.5 1277.4,1996.1 1279.4,1994.6 1281.4,1993.1 1283.4,1991.6 1285.4,1990.4 1287.4,1989.3 1289.4,1988.6 1291.4,1987.9 1293.4,1987.4 1295.4,1986.9 1297.4,1986.5 1299.4,1986.0 1301.4,1985.6 1303.4,1985.2 1305.4,1984.7 1307.4,1984.1 1309.4,1983.5 1311.4,1982.7 1313.4,1981.8 1315.4,1980.6 1317.4,1979.1 1319.4,1977.5 1321.4,1975.7 1323.4,1973.9 1325.4,1972.1 1327.4,1970.3 1329.4,1968.7 1331.4,1967.1 1333.4,1965.5 1335.4,1963.8 1337.4,1962.2 1339.4,1960.5 1341.4,1958.9 1343.4,1957.4 1345.4,1955.9 1347.4,1954.5 1349.4,1953.0 1351.4,1951.4 1353.4,1949.9 1355.4,1948.5 1357.4,1947.4 1359.4,1946.7 1361.4,1946.3 1363.4,1946.0 1365.4,1945.9 1366.0,1945.9 1367.2,1945.4 1370.8,1872.2 1377.0,1835.9"/>
<polyline fill="none" stroke="#2EBEC4" stroke-width="14.0" stroke-linejoin="miter" stroke-linecap="butt" stroke-miterlimit="4" points="265.4,2219.7 267.4,2219.7 269.4,2219.7 271.4,2219.6 273.4,2219.6 275.4,2219.5 277.4,2219.5 279.4,2219.4 281.4,2219.4 283.4,2219.3 285.4,2219.3 287.4,2219.2 289.4,2219.1 291.4,2219.0 293.4,2219.0 295.4,2218.9 297.4,2218.8 299.4,2218.7 301.4,2218.6 303.4,2218.5 305.4,2218.4 307.4,2218.3 309.4,2218.2 311.4,2218.1 313.4,2218.0 315.4,2217.9 317.4,2217.8 319.4,2217.6 321.4,2217.5 323.4,2217.4 325.4,2217.3 327.4,2217.2 329.4,2217.0 331.4,2216.9 333.4,2216.8 335.4,2216.7 337.4,2216.5 339.4,2216.4 341.4,2216.3 343.4,2216.1 345.4,2216.0 347.4,2215.8 349.4,2215.7 351.4,2215.5 353.4,2215.3 355.4,2215.1 357.4,2214.9 359.4,2214.7 361.4,2214.5 363.4,2214.3 365.4,2214.1 367.4,2213.9 369.4,2213.7 371.4,2213.4 373.4,2213.2 375.4,2213.0 377.4,2212.7 379.4,2212.5 381.4,2212.2 383.4,2212.0 385.4,2211.7 387.4,2211.5 389.4,2211.2 391.4,2210.9 393.4,2210.6 395.4,2210.2 397.4,2209.9 399.4,2209.6 401.4,2209.2 403.4,2208.8 405.4,2208.5 407.4,2208.1 409.4,2207.7 411.4,2207.4 413.4,2207.0 415.4,2206.6 417.4,2206.2 419.4,2205.8 421.4,2205.5 423.4,2205.1 425.4,2204.7 427.4,2204.4 429.4,2204.0 431.4,2203.7 433.4,2203.3 435.4,2203.0 437.4,2202.6 439.4,2202.3 441.4,2201.9 443.4,2201.6 445.4,2201.2 447.4,2200.8 449.4,2200.5 451.4,2200.1 453.4,2199.8 455.4,2199.4 457.4,2199.0 459.4,2198.7 461.4,2198.3 463.4,2197.9 465.4,2197.6 467.4,2197.2 469.4,2196.9 471.4,2196.5 473.4,2196.2 475.4,2195.9 477.4,2195.5 479.4,2195.2 481.4,2194.9 483.4,2194.6 485.4,2194.3 487.4,2194.0 489.4,2193.7 491.4,2193.4 493.4,2193.2 495.4,2192.9 497.4,2192.7 499.4,2192.4 501.4,2192.2 503.4,2192.0 505.4,2191.8 507.4,2191.6 509.4,2191.4 511.4,2191.2 513.4,2191.0 515.4,2190.8 517.4,2190.6 519.4,2190.4 521.4,2190.2 523.4,2190.1 525.4,2189.9 527.4,2189.7 529.4,2189.6 531.4,2189.4 533.4,2189.2 535.4,2189.1 537.4,2188.9 539.4,2188.7 541.4,2188.6 543.4,2188.4 545.4,2188.3 547.4,2188.1 549.4,2188.0 551.4,2187.8 553.4,2187.6 555.4,2187.5 557.4,2187.3 559.4,2187.2 561.4,2187.0 563.4,2186.8 565.4,2186.7 567.4,2186.5 569.4,2186.3 571.4,2186.2 573.4,2186.0 575.4,2185.8 577.4,2185.6 579.4,2185.5 581.4,2185.3 583.4,2185.1 585.4,2185.0 587.4,2184.8 589.4,2184.6 591.4,2184.4 593.4,2184.3 595.4,2184.1 597.4,2183.9 599.4,2183.8 601.4,2183.6 603.4,2183.4 605.4,2183.3 607.4,2183.1 609.4,2182.9 611.4,2182.8 613.4,2182.6 615.4,2182.4 617.4,2182.2 619.4,2182.1 621.4,2181.9 623.4,2181.7 625.4,2181.6 627.4,2181.4 629.4,2181.2 631.4,2181.1 633.4,2180.9 635.4,2180.7 637.4,2180.5 639.4,2180.4 641.4,2180.2 643.4,2180.0 645.4,2179.9 647.4,2179.7 649.4,2179.5 651.4,2179.3 653.4,2179.2 655.4,2179.0 657.4,2178.8 659.4,2178.6 661.4,2178.5 663.4,2178.3 665.4,2178.1 667.4,2177.9 669.4,2177.7 671.4,2177.6 673.4,2177.4 675.4,2177.2 677.4,2177.0 679.4,2176.8 681.4,2176.6 683.4,2176.4 685.4,2176.3 687.4,2176.1 689.4,2175.9 691.4,2175.7 693.4,2175.5 695.4,2175.3 697.4,2175.1 699.4,2174.9 701.4,2174.7 703.4,2174.6 705.4,2174.4 707.4,2174.2 709.4,2174.0 711.4,2173.8 713.4,2173.6 715.4,2173.4 717.4,2173.2 719.4,2173.1 721.4,2172.9 723.4,2172.7 725.4,2172.5 727.4,2172.3 729.4,2172.1 731.4,2172.0 733.4,2171.8 735.4,2171.6 737.4,2171.4 739.4,2171.2 741.4,2171.1 743.4,2170.9 745.4,2170.7 747.4,2170.5 749.4,2170.4 751.4,2170.2 753.4,2170.0 755.4,2169.9 757.4,2169.7 759.4,2169.5 761.4,2169.3 763.4,2169.1 765.4,2169.0 767.4,2168.8 769.4,2168.6 771.4,2168.4 773.4,2168.2 775.4,2168.0 777.4,2167.8 779.4,2167.6 781.4,2167.4 783.4,2167.2 785.4,2167.1 787.4,2166.9 789.4,2166.7 791.4,2166.5 793.4,2166.3 795.4,2166.1 797.4,2165.9 799.4,2165.8 801.4,2165.6 803.4,2165.4 805.4,2165.2 807.4,2165.1 809.4,2164.9 811.4,2164.7 813.4,2164.6 815.4,2164.4 817.4,2164.3 819.4,2164.1 821.4,2164.0 823.4,2163.9 825.4,2163.7 827.4,2163.6 829.4,2163.5 831.4,2163.4 833.4,2163.3 835.4,2163.2 837.4,2163.1 839.4,2163.0 841.4,2163.0 843.4,2162.9 845.4,2162.8 847.4,2162.8 849.4,2162.7 851.4,2162.7 853.4,2162.7 855.4,2162.6 857.4,2162.6 859.4,2162.5 861.4,2162.5 863.4,2162.5 865.4,2162.4 867.4,2162.4 869.4,2162.4 871.4,2162.3 873.4,2162.3 875.4,2162.2 877.4,2162.2 879.4,2162.2 881.4,2162.1 883.4,2162.1 885.4,2162.1 887.4,2162.0 889.4,2162.0 891.4,2162.0 893.4,2161.9 895.4,2161.9 897.4,2161.9 899.4,2161.8 901.4,2161.8 903.4,2161.8 905.4,2161.7 907.4,2161.7 909.4,2161.7 911.4,2161.6 913.4,2161.6 915.4,2161.6 917.4,2161.5 919.4,2161.5 921.4,2161.4 923.4,2161.4 925.4,2161.4 927.4,2161.3 929.4,2161.3 931.4,2161.2 933.4,2161.1 935.4,2161.1 937.4,2161.0 939.4,2160.9 941.4,2160.9 943.4,2160.8 945.4,2160.7 947.4,2160.6 949.4,2160.5 951.4,2160.2 953.4,2160.0 955.4,2159.6 957.4,2159.2 959.4,2158.8 961.4,2158.4 963.4,2157.9 965.4,2157.3 967.4,2156.5 969.4,2155.7 971.4,2154.8 973.4,2153.9 975.4,2153.0 977.4,2152.2 979.4,2151.4 981.4,2150.8 983.4,2150.3 985.4,2149.9 987.4,2149.4 989.4,2149.0 991.4,2148.6 993.4,2148.2 995.4,2147.7 997.4,2147.2 999.4,2146.6 1001.4,2145.9 1003.4,2145.2 1005.4,2144.2 1007.4,2143.1 1009.4,2141.8 1011.4,2140.4 1013.4,2138.7 1015.4,2137.0 1017.4,2135.2 1019.4,2133.0 1021.4,2130.4 1023.4,2127.7 1025.4,2125.2 1027.4,2122.5 1029.4,2119.7 1031.4,2116.8 1033.4,2113.9 1035.4,2111.0 1037.4,2107.9 1039.4,2104.9 1041.4,2101.8 1043.4,2098.7 1045.4,2095.6 1047.4,2092.5 1049.4,2089.4 1051.4,2086.2 1053.4,2083.0 1055.4,2079.6 1057.4,2076.1 1059.4,2072.5 1061.4,2068.7 1063.4,2064.7 1065.4,2060.5 1067.4,2056.0 1069.4,2051.3 1071.4,2046.4 1073.4,2041.3 1075.4,2036.0 1077.4,2030.6 1079.4,2025.1 1081.4,2019.5 1083.4,2013.8 1085.4,2008.1 1087.4,2002.4 1089.4,1996.6 1091.4,1990.8 1093.4,1985.0 1095.4,1979.1 1097.4,1973.2 1099.4,1967.2 1101.4,1961.3 1103.4,1955.5 1105.4,1949.6 1107.4,1943.8 1109.4,1938.1 1111.4,1932.5 1113.4,1926.9 1115.4,1921.5 1117.4,1916.2 1119.4,1911.0 1121.4,1905.9 1123.4,1901.0 1125.4,1896.3 1127.4,1891.7 1129.4,1887.3 1131.4,1883.0 1133.4,1878.9 1135.4,1875.1 1137.4,1871.4 1139.4,1868.1 1141.4,1865.1 1143.4,1862.4 1145.4,1860.0 1147.4,1858.1 1149.4,1856.6 1151.4,1855.4 1153.4,1854.5 1155.4,1854.0 1157.4,1853.8 1159.4,1853.9 1161.4,1854.3 1163.4,1855.0 1165.4,1856.0 1167.4,1857.2 1169.4,1858.7 1171.4,1860.4 1173.4,1862.3 1175.4,1864.5 1177.4,1866.8 1179.4,1869.3 1181.4,1872.0 1183.4,1874.9 1185.4,1877.8 1187.4,1880.9 1189.4,1884.2 1191.4,1887.5 1193.4,1890.9 1195.4,1894.3 1197.4,1897.8 1199.4,1901.4 1201.4,1904.9 1203.4,1908.5 1205.4,1912.0 1207.4,1915.6 1209.4,1919.0 1211.4,1922.5 1213.4,1925.8 1215.4,1929.1 1217.4,1932.2 1219.4,1935.3 1221.4,1938.3 1223.4,1941.2 1225.4,1944.0 1227.4,1946.7 1229.4,1949.3 1231.4,1951.9 1233.4,1954.4 1235.4,1956.8 1237.4,1959.1 1239.4,1961.4 1241.4,1963.6 1243.4,1965.8 1245.4,1967.9 1247.4,1969.9 1249.4,1971.8 1251.4,1973.7 1253.4,1975.5 1255.4,1977.1 1257.4,1978.7 1259.4,1980.1 1261.4,1981.4 1263.4,1982.6 1265.4,1983.7 1267.4,1984.6 1269.4,1985.4 1271.4,1986.0 1273.4,1986.2 1275.4,1986.0 1277.4,1985.5 1279.4,1984.9 1281.4,1984.1 1283.4,1983.3 1285.4,1982.7 1287.4,1982.3 1289.4,1982.1 1291.4,1981.9 1293.4,1981.8 1295.4,1981.8 1297.4,1981.7 1299.4,1981.7 1301.4,1981.6 1303.4,1981.4 1305.4,1981.2 1307.4,1980.9 1309.4,1980.5 1311.4,1979.9 1313.4,1979.2 1315.4,1978.2 1317.4,1976.9 1319.4,1975.4 1321.4,1973.8 1323.4,1972.1 1325.4,1970.3 1327.4,1968.7 1329.4,1967.1 1331.4,1965.6 1333.4,1964.0 1335.4,1962.5 1337.4,1960.9 1339.4,1959.3 1341.4,1957.8 1343.4,1956.3 1345.4,1954.8 1347.4,1953.4 1349.4,1952.0 1351.4,1950.4 1353.4,1949.0 1355.4,1947.6 1357.4,1946.5 1359.4,1945.8 1361.4,1945.4 1363.4,1945.2 1365.4,1945.1 1366.0,1945.1 1367.2,1944.6 1370.8,1871.4 1377.0,1835.2"/>
</g>
<g id="curves-d">
<polyline fill="none" stroke="#EE3B42" stroke-width="14.0" stroke-linejoin="round" stroke-linecap="butt" points="1801.3,2185.5 1803.3,2184.4 1805.3,2183.2 1807.3,2182.0 1809.3,2180.6 1811.3,2179.2 1813.3,2177.8 1815.3,2176.2 1817.3,2174.6 1819.3,2172.8 1821.3,2171.0 1823.3,2169.1 1825.3,2167.1 1827.3,2164.9 1829.3,2162.7 1831.3,2160.4 1833.3,2157.9 1835.3,2155.4 1837.3,2152.7 1839.3,2149.9 1841.3,2147.0 1843.3,2143.9 1845.3,2140.7 1847.3,2137.4 1849.3,2134.0 1851.3,2130.5 1853.3,2126.8 1855.3,2122.9 1857.3,2119.0 1859.3,2114.9 1861.3,2110.7 1863.3,2106.4 1865.3,2101.9 1867.3,2097.3 1869.3,2092.5 1871.3,2087.7 1873.3,2082.7 1875.3,2077.6 1877.3,2072.4 1879.3,2067.1 1881.3,2061.6 1883.3,2056.1 1885.3,2050.5 1887.3,2044.8 1889.3,2039.0 1891.3,2033.1 1893.3,2027.2 1895.3,2021.2 1897.3,2015.1 1899.3,2009.0 1901.3,2002.9 1903.3,1996.7 1905.3,1990.5 1907.3,1984.3 1909.3,1978.2 1911.3,1972.0 1913.3,1965.9 1915.3,1959.8 1917.3,1953.8 1919.3,1947.8 1921.3,1941.9 1923.3,1936.1 1925.3,1930.4 1927.3,1924.8 1929.3,1919.3 1931.3,1914.0 1933.3,1908.8 1935.3,1903.8 1937.3,1899.0 1939.3,1894.4 1941.3,1889.9 1943.3,1885.7 1945.3,1881.7 1947.3,1878.0 1949.3,1874.5 1951.3,1871.3 1953.3,1868.3 1955.3,1865.6 1957.3,1863.2 1959.3,1861.1 1961.3,1859.3 1963.3,1857.8 1965.3,1856.6 1967.3,1855.7 1969.3,1855.2 1971.3,1854.9 1973.3,1855.0 1975.3,1855.4 1977.3,1856.1 1979.3,1857.1 1981.3,1858.5 1983.3,1860.1 1985.3,1862.1 1987.3,1864.4 1989.3,1866.9 1991.3,1869.7 1993.3,1872.8 1995.3,1876.2 1997.3,1879.8 1999.3,1883.7 2001.3,1887.8 2003.3,1892.1 2005.3,1896.7 2007.3,1901.4 2009.3,1906.3 2011.3,1911.4 2013.3,1916.6 2015.3,1922.0 2017.3,1927.6 2019.3,1933.2 2021.3,1939.0 2023.3,1944.8 2025.3,1950.8 2027.3,1956.8 2029.3,1962.8 2031.3,1968.9 2033.3,1975.1 2035.3,1981.3 2037.3,1987.4 2039.3,1993.6 2041.3,1999.8 2043.3,2005.9 2045.3,2012.1 2047.3,2018.1 2049.3,2024.2 2051.3,2030.1 2053.3,2036.1 2055.3,2041.9 2057.3,2047.6 2059.3,2053.3 2061.3,2058.9 2063.3,2064.4 2065.3,2069.8 2067.3,2075.0 2069.3,2080.2 2071.3,2085.2 2073.3,2090.1 2075.3,2094.9 2077.3,2099.6 2079.3,2104.1 2081.3,2108.5 2083.3,2112.8 2085.3,2117.0 2087.3,2121.0 2089.3,2124.9 2091.3,2128.6 2093.3,2132.3 2095.3,2135.7 2097.3,2139.1 2099.3,2142.3 2101.3,2145.4 2103.3,2148.4 2105.3,2151.3 2107.3,2154.0 2109.3,2156.7 2111.3,2159.2 2113.3,2161.6 2115.3,2163.8 2117.3,2166.0 2119.3,2168.1 2121.3,2170.1 2123.3,2171.9 2125.3,2173.7 2127.3,2175.4 2129.3,2177.0 2131.3,2178.5 2133.3,2180.0 2135.3,2181.3 2137.3,2182.6 2139.3,2183.8 2141.3,2184.9 2143.3,2186.0 2145.3,2187.0 2147.3,2188.0 2149.3,2188.9 2151.3,2189.7 2153.3,2190.5 2155.3,2191.2 2157.3,2191.9 2159.3,2192.6 2161.3,2193.2 2163.3,2193.8 2165.3,2194.3 2167.3,2194.8 2169.3,2195.3 2171.3,2195.7 2173.3,2196.1 2175.3,2196.5 2177.3,2196.8 2179.3,2197.2 2181.3,2197.5 2183.3,2197.8 2185.3,2198.0 2187.3,2198.3 2189.3,2198.5 2191.3,2198.7 2193.3,2198.9 2195.3,2199.1 2197.3,2199.3 2199.3,2199.5 2201.3,2199.6 2203.3,2199.7 2205.3,2199.9 2207.3,2200.0 2209.3,2200.1 2211.3,2200.2 2213.3,2200.3 2215.3,2200.4 2217.3,2200.5 2219.3,2200.6 2221.3,2200.7 2223.3,2200.8 2225.3,2200.8 2227.3,2200.9 2229.3,2201.0 2231.3,2201.0 2233.3,2201.1 2235.3,2201.1 2237.3,2201.2 2239.3,2201.2 2241.3,2201.3 2243.3,2201.3 2245.3,2201.4 2247.3,2201.4 2249.3,2201.5 2251.3,2201.5 2253.3,2201.5 2255.3,2201.6 2257.3,2201.6 2259.3,2201.6 2261.3,2201.7 2263.3,2201.7 2265.3,2201.7 2267.3,2201.8 2269.3,2201.8 2271.3,2201.8 2273.3,2201.9 2275.3,2201.9 2277.3,2201.9 2279.3,2201.9 2281.3,2202.0 2283.3,2202.0 2285.3,2202.0 2287.3,2202.0 2289.3,2202.1 2291.3,2202.1 2293.3,2202.1 2295.3,2202.1 2297.3,2202.1 2299.3,2202.2 2301.3,2202.2 2303.3,2202.2 2305.3,2202.2 2307.3,2202.2 2309.3,2202.3 2311.3,2202.3 2313.3,2202.3 2315.3,2202.3 2317.3,2202.3 2319.3,2202.3 2321.3,2202.4 2323.3,2202.4 2325.3,2202.4 2327.3,2202.4 2329.3,2202.4 2331.3,2202.4 2333.3,2202.5 2335.3,2202.5 2337.3,2202.5 2339.3,2202.5 2341.3,2202.5 2343.3,2202.5 2345.3,2202.5 2347.3,2202.6 2349.3,2202.6 2351.3,2202.6 2353.3,2202.6 2355.3,2202.6 2357.3,2202.6 2359.3,2202.6 2361.3,2202.7 2363.3,2202.7 2365.3,2202.7 2367.3,2202.7 2369.3,2202.7 2371.3,2202.7 2373.3,2202.7 2375.3,2202.7 2377.3,2202.7 2379.3,2202.8 2381.3,2202.8 2383.3,2202.8 2385.3,2202.8 2387.3,2202.8 2389.3,2202.8 2391.3,2202.8 2393.3,2202.8 2395.3,2202.8 2397.3,2202.8 2399.3,2202.9 2401.3,2202.9 2403.3,2202.9 2405.3,2202.9 2407.3,2202.9 2409.3,2202.9 2411.3,2202.9 2413.3,2202.9 2415.3,2202.9 2417.3,2202.9 2419.3,2202.9 2421.3,2203.0 2423.3,2203.0 2425.3,2203.0 2427.3,2203.0 2429.3,2203.0 2431.3,2203.0 2433.3,2203.0 2435.3,2203.0 2437.3,2203.0 2439.3,2203.0 2441.3,2203.0 2443.3,2203.0 2445.3,2203.0 2447.3,2203.1 2449.3,2203.1 2451.3,2203.1 2453.3,2203.1 2455.3,2203.1 2457.3,2203.1 2459.3,2203.1 2461.3,2203.1 2463.3,2203.1 2465.3,2203.1 2467.3,2203.1 2469.3,2203.1 2471.3,2203.1 2473.3,2203.1 2475.3,2203.1 2477.3,2203.1 2479.3,2203.2 2481.3,2203.2 2483.3,2203.2 2485.3,2203.2 2487.3,2203.2 2489.3,2203.2 2491.3,2203.2 2493.3,2203.2 2495.3,2203.2 2497.3,2203.2 2499.3,2203.2 2501.3,2203.2 2503.3,2203.2 2505.3,2203.2 2507.3,2203.2 2509.3,2203.2 2511.3,2203.2 2513.3,2203.2 2515.3,2203.2 2517.3,2203.3 2519.3,2203.3 2521.3,2203.3 2523.3,2203.3 2525.3,2203.3 2527.3,2203.3 2529.3,2203.3 2531.3,2203.3 2533.3,2203.3 2535.3,2203.3 2537.3,2203.3 2539.3,2203.3 2541.3,2203.3 2543.3,2203.3 2545.3,2203.3 2547.3,2203.3 2549.3,2203.3 2551.3,2203.3 2553.3,2203.3 2555.3,2203.3 2557.3,2203.3 2559.3,2203.3 2561.3,2203.3 2563.3,2203.3 2565.3,2203.3 2567.3,2203.4 2569.3,2203.4 2571.3,2203.4 2573.3,2203.4 2575.3,2203.4 2577.3,2203.4 2579.3,2203.4 2581.3,2203.4 2583.3,2203.4 2585.3,2203.4 2587.3,2203.4 2589.3,2203.4 2591.3,2203.4 2593.3,2203.4 2595.3,2203.4 2597.3,2203.4 2599.3,2203.4 2601.3,2203.4 2603.3,2203.4 2605.3,2203.4 2607.3,2203.4 2609.3,2203.4 2611.3,2203.4 2613.3,2203.4 2615.3,2203.4 2617.3,2203.4 2619.3,2203.4 2621.3,2203.4 2623.3,2203.4 2625.3,2203.4 2627.3,2203.4 2629.3,2203.5 2631.3,2203.5 2633.3,2203.5 2635.3,2203.5 2637.3,2203.5 2639.3,2203.5 2641.3,2203.5 2643.3,2203.5 2645.3,2203.5 2647.3,2203.5 2649.3,2203.5 2651.3,2203.5 2653.3,2203.5 2655.3,2203.5 2657.3,2203.5 2659.3,2203.5 2661.3,2203.5 2663.3,2203.5 2665.3,2203.5 2667.3,2203.5 2669.3,2203.5 2671.3,2203.5 2673.3,2203.5 2675.3,2203.5 2677.3,2203.5 2679.3,2203.5 2681.3,2203.5 2683.3,2203.5 2685.3,2203.5 2687.3,2203.5 2689.3,2203.5 2691.3,2203.5 2693.3,2203.5 2695.3,2203.5 2697.3,2203.5 2699.3,2203.5 2701.3,2203.5 2703.3,2203.5 2705.3,2203.5 2707.3,2203.5 2709.3,2203.5 2711.3,2203.5 2713.3,2203.5 2715.3,2203.5 2717.3,2203.5 2719.3,2203.6 2721.3,2203.6 2723.3,2203.6 2725.3,2203.6 2727.3,2203.6 2729.3,2203.6 2731.3,2203.6 2733.3,2203.6 2735.3,2203.6 2737.3,2203.6 2739.3,2203.6 2741.3,2203.6 2743.3,2203.6 2745.3,2203.6 2747.3,2203.6 2749.3,2203.6 2751.3,2203.6 2753.3,2203.6 2755.3,2203.6 2757.3,2203.6 2759.3,2203.6 2761.3,2203.6 2763.3,2203.6 2765.3,2203.6 2767.3,2203.6 2769.3,2203.6 2771.3,2203.6 2773.3,2203.6 2775.3,2203.6 2777.3,2203.6 2779.3,2203.6 2781.3,2203.6 2783.3,2203.6 2785.3,2203.6 2787.3,2203.6 2789.3,2203.6 2791.3,2203.6 2793.3,2203.6 2795.3,2203.6 2797.3,2203.6 2799.3,2203.6 2801.3,2203.6 2803.3,2203.6 2805.3,2203.6 2807.3,2203.6 2809.3,2203.6 2811.3,2203.6 2813.3,2203.6 2815.3,2203.6 2817.3,2203.6 2819.3,2203.6 2821.3,2203.6 2823.3,2203.6 2825.3,2203.6 2827.3,2203.6 2829.3,2203.6 2831.3,2203.6 2833.3,2203.6 2835.3,2203.6 2837.3,2203.6 2839.3,2203.6 2841.3,2203.6 2843.3,2203.6 2845.3,2203.6 2847.3,2203.6 2849.3,2203.6 2851.3,2203.6 2853.3,2203.6 2855.3,2203.6 2857.3,2203.7 2859.3,2203.7 2861.3,2203.7 2863.3,2203.7 2865.3,2203.7 2867.3,2203.7 2869.3,2203.7 2871.3,2203.7 2873.3,2203.7 2875.3,2203.7 2877.3,2203.7 2879.3,2203.7 2881.3,2203.7 2883.3,2203.7 2885.3,2203.7 2887.3,2203.7 2889.3,2203.7 2891.3,2203.7 2893.3,2203.7 2895.3,2203.7 2897.3,2203.7 2899.3,2203.7 2901.3,2203.7 2903.3,2203.7 2905.3,2203.7 2907.3,2203.7 2909.3,2203.7 2911.3,2203.7 2913.3,2203.7 2915.3,2203.7 2917.3,2203.7 2919.3,2203.7 2921.3,2203.7 2923.3,2203.7 2925.3,2203.7 2927.3,2203.7 2929.3,2203.7 2931.3,2203.7 2933.3,2203.7 2935.3,2203.7 2937.3,2203.7 2939.3,2203.7 2941.3,2203.7 2943.3,2203.7 2945.3,2203.7 2947.3,2203.7 2949.3,2203.7 2951.3,2203.7 2953.3,2203.7 2955.3,2203.7 2957.3,2203.7 2959.3,2203.7 2961.3,2203.7 2963.3,2203.7 2965.3,2203.7 2967.3,2203.7 2969.3,2203.7 2971.3,2203.7 2973.3,2203.7 2975.3,2203.7 2977.3,2203.7 2979.3,2203.7 2981.3,2203.7 2983.3,2203.7 2985.3,2203.7 2987.3,2203.7 2989.3,2203.7 2991.3,2203.7 2993.3,2203.7 2995.3,2203.7 2997.3,2203.7 2999.3,2203.7 3001.3,2203.7 3003.3,2203.7 3005.3,2203.7 3007.3,2203.7 3009.3,2203.7 3011.3,2203.7 3013.3,2203.7 3015.3,2203.7 3017.3,2203.7 3019.3,2203.7 3021.3,2203.7 3023.3,2203.7 3025.3,2203.7 3027.3,2203.7 3029.3,2203.7 3031.3,2203.7 3033.3,2203.7 3035.3,2203.7 3037.3,2203.7 3039.3,2203.7 3041.3,2203.7 3043.3,2203.7 3045.3,2203.7 3047.3,2203.7 3049.2,2203.7"/>
<polyline fill="none" stroke="#32AD6B" stroke-width="14.0" stroke-linejoin="round" stroke-linecap="butt" points="1801.3,2203.7 1803.3,2203.7 1805.3,2203.7 1807.3,2203.7 1809.3,2203.7 1811.3,2203.7 1813.3,2203.7 1815.3,2203.7 1817.3,2203.7 1819.3,2203.7 1821.3,2203.7 1823.3,2203.7 1825.3,2203.7 1827.3,2203.6 1829.3,2203.6 1831.3,2203.6 1833.3,2203.6 1835.3,2203.6 1837.3,2203.6 1839.3,2203.6 1841.3,2203.6 1843.3,2203.6 1845.3,2203.6 1847.3,2203.6 1849.3,2203.6 1851.3,2203.6 1853.3,2203.6 1855.3,2203.6 1857.3,2203.6 1859.3,2203.6 1861.3,2203.6 1863.3,2203.6 1865.3,2203.6 1867.3,2203.6 1869.3,2203.6 1871.3,2203.6 1873.3,2203.6 1875.3,2203.6 1877.3,2203.6 1879.3,2203.6 1881.3,2203.6 1883.3,2203.6 1885.3,2203.6 1887.3,2203.6 1889.3,2203.6 1891.3,2203.6 1893.3,2203.6 1895.3,2203.6 1897.3,2203.6 1899.3,2203.6 1901.3,2203.6 1903.3,2203.6 1905.3,2203.6 1907.3,2203.6 1909.3,2203.6 1911.3,2203.6 1913.3,2203.6 1915.3,2203.6 1917.3,2203.6 1919.3,2203.6 1921.3,2203.6 1923.3,2203.6 1925.3,2203.6 1927.3,2203.6 1929.3,2203.6 1931.3,2203.6 1933.3,2203.6 1935.3,2203.6 1937.3,2203.6 1939.3,2203.6 1941.3,2203.6 1943.3,2203.6 1945.3,2203.6 1947.3,2203.6 1949.3,2203.6 1951.3,2203.6 1953.3,2203.6 1955.3,2203.6 1957.3,2203.5 1959.3,2203.5 1961.3,2203.5 1963.3,2203.5 1965.3,2203.5 1967.3,2203.5 1969.3,2203.5 1971.3,2203.5 1973.3,2203.5 1975.3,2203.5 1977.3,2203.5 1979.3,2203.5 1981.3,2203.5 1983.3,2203.5 1985.3,2203.5 1987.3,2203.5 1989.3,2203.5 1991.3,2203.5 1993.3,2203.5 1995.3,2203.5 1997.3,2203.5 1999.3,2203.5 2001.3,2203.5 2003.3,2203.5 2005.3,2203.5 2007.3,2203.5 2009.3,2203.5 2011.3,2203.5 2013.3,2203.5 2015.3,2203.5 2017.3,2203.5 2019.3,2203.5 2021.3,2203.5 2023.3,2203.5 2025.3,2203.5 2027.3,2203.5 2029.3,2203.5 2031.3,2203.5 2033.3,2203.5 2035.3,2203.5 2037.3,2203.5 2039.3,2203.5 2041.3,2203.4 2043.3,2203.4 2045.3,2203.4 2047.3,2203.4 2049.3,2203.4 2051.3,2203.4 2053.3,2203.4 2055.3,2203.4 2057.3,2203.4 2059.3,2203.4 2061.3,2203.4 2063.3,2203.4 2065.3,2203.4 2067.3,2203.4 2069.3,2203.4 2071.3,2203.4 2073.3,2203.4 2075.3,2203.4 2077.3,2203.4 2079.3,2203.4 2081.3,2203.4 2083.3,2203.4 2085.3,2203.4 2087.3,2203.4 2089.3,2203.4 2091.3,2203.4 2093.3,2203.4 2095.3,2203.4 2097.3,2203.4 2099.3,2203.4 2101.3,2203.3 2103.3,2203.3 2105.3,2203.3 2107.3,2203.3 2109.3,2203.3 2111.3,2203.3 2113.3,2203.3 2115.3,2203.3 2117.3,2203.3 2119.3,2203.3 2121.3,2203.3 2123.3,2203.3 2125.3,2203.3 2127.3,2203.3 2129.3,2203.3 2131.3,2203.3 2133.3,2203.3 2135.3,2203.3 2137.3,2203.3 2139.3,2203.3 2141.3,2203.3 2143.3,2203.3 2145.3,2203.3 2147.3,2203.2 2149.3,2203.2 2151.3,2203.2 2153.3,2203.2 2155.3,2203.2 2157.3,2203.2 2159.3,2203.2 2161.3,2203.2 2163.3,2203.2 2165.3,2203.2 2167.3,2203.2 2169.3,2203.2 2171.3,2203.2 2173.3,2203.2 2175.3,2203.2 2177.3,2203.2 2179.3,2203.2 2181.3,2203.2 2183.3,2203.1 2185.3,2203.1 2187.3,2203.1 2189.3,2203.1 2191.3,2203.1 2193.3,2203.1 2195.3,2203.1 2197.3,2203.1 2199.3,2203.1 2201.3,2203.1 2203.3,2203.1 2205.3,2203.1 2207.3,2203.1 2209.3,2203.1 2211.3,2203.1 2213.3,2203.0 2215.3,2203.0 2217.3,2203.0 2219.3,2203.0 2221.3,2203.0 2223.3,2203.0 2225.3,2203.0 2227.3,2203.0 2229.3,2203.0 2231.3,2203.0 2233.3,2203.0 2235.3,2203.0 2237.3,2202.9 2239.3,2202.9 2241.3,2202.9 2243.3,2202.9 2245.3,2202.9 2247.3,2202.9 2249.3,2202.9 2251.3,2202.9 2253.3,2202.9 2255.3,2202.9 2257.3,2202.9 2259.3,2202.8 2261.3,2202.8 2263.3,2202.8 2265.3,2202.8 2267.3,2202.8 2269.3,2202.8 2271.3,2202.8 2273.3,2202.8 2275.3,2202.8 2277.3,2202.7 2279.3,2202.7 2281.3,2202.7 2283.3,2202.7 2285.3,2202.7 2287.3,2202.7 2289.3,2202.7 2291.3,2202.7 2293.3,2202.7 2295.3,2202.6 2297.3,2202.6 2299.3,2202.6 2301.3,2202.6 2303.3,2202.6 2305.3,2202.6 2307.3,2202.6 2309.3,2202.5 2311.3,2202.5 2313.3,2202.5 2315.3,2202.5 2317.3,2202.5 2319.3,2202.5 2321.3,2202.4 2323.3,2202.4 2325.3,2202.4 2327.3,2202.4 2329.3,2202.4 2331.3,2202.4 2333.3,2202.3 2335.3,2202.3 2337.3,2202.3 2339.3,2202.3 2341.3,2202.3 2343.3,2202.2 2345.3,2202.2 2347.3,2202.2 2349.3,2202.2 2351.3,2202.2 2353.3,2202.1 2355.3,2202.1 2357.3,2202.1 2359.3,2202.1 2361.3,2202.0 2363.3,2202.0 2365.3,2202.0 2367.3,2202.0 2369.3,2201.9 2371.3,2201.9 2373.3,2201.9 2375.3,2201.8 2377.3,2201.8 2379.3,2201.8 2381.3,2201.7 2383.3,2201.7 2385.3,2201.7 2387.3,2201.6 2389.3,2201.6 2391.3,2201.5 2393.3,2201.5 2395.3,2201.4 2397.3,2201.4 2399.3,2201.3 2401.3,2201.3 2403.3,2201.2 2405.3,2201.1 2407.3,2201.1 2409.3,2201.0 2411.3,2200.9 2413.3,2200.8 2415.3,2200.7 2417.3,2200.6 2419.3,2200.5 2421.3,2200.4 2423.3,2200.3 2425.3,2200.2 2427.3,2200.1 2429.3,2199.9 2431.3,2199.8 2433.3,2199.6 2435.3,2199.5 2437.3,2199.3 2439.3,2199.1 2441.3,2198.9 2443.3,2198.6 2445.3,2198.4 2447.3,2198.1 2449.3,2197.9 2451.3,2197.6 2453.3,2197.2 2455.3,2196.9 2457.3,2196.5 2459.3,2196.2 2461.3,2195.7 2463.3,2195.3 2465.3,2194.8 2467.3,2194.3 2469.3,2193.8 2471.3,2193.2 2473.3,2192.6 2475.3,2192.0 2477.3,2191.3 2479.3,2190.5 2481.3,2189.8 2483.3,2188.9 2485.3,2188.0 2487.3,2187.1 2489.3,2186.1 2491.3,2185.1 2493.3,2184.0 2495.3,2182.8 2497.3,2181.6 2499.3,2180.3 2501.3,2178.9 2503.3,2177.4 2505.3,2175.9 2507.3,2174.3 2509.3,2172.6 2511.3,2170.9 2513.3,2169.0 2515.3,2167.1 2517.3,2165.0 2519.3,2162.9 2521.3,2160.7 2523.3,2158.4 2525.3,2156.0 2527.3,2153.4 2529.3,2150.8 2531.3,2148.1 2533.3,2145.3 2535.3,2142.3 2537.3,2139.3 2539.3,2136.1 2541.3,2132.9 2543.3,2129.5 2545.3,2126.0 2547.3,2122.5 2549.3,2118.8 2551.3,2115.0 2553.3,2111.1 2555.3,2107.1 2557.3,2103.0 2559.3,2098.8 2561.3,2094.5 2563.3,2090.1 2565.3,2085.6 2567.3,2081.1 2569.3,2076.4 2571.3,2071.7 2573.3,2066.9 2575.3,2062.1 2577.3,2057.1 2579.3,2052.2 2581.3,2047.1 2583.3,2042.1 2585.3,2037.0 2587.3,2031.8 2589.3,2026.7 2591.3,2021.5 2593.3,2016.4 2595.3,2011.2 2597.3,2006.1 2599.3,2001.0 2601.3,1995.9 2603.3,1990.8 2605.3,1985.8 2607.3,1980.9 2609.3,1976.1 2611.3,1971.3 2613.3,1966.6 2615.3,1962.0 2617.3,1957.6 2619.3,1953.2 2621.3,1949.0 2623.3,1944.9 2625.3,1941.0 2627.3,1937.3 2629.3,1933.7 2631.3,1930.3 2633.3,1927.1 2635.3,1924.2 2637.3,1921.4 2639.3,1918.8 2641.3,1916.5 2643.3,1914.3 2645.3,1912.5 2647.3,1910.8 2649.3,1909.5 2651.3,1908.3 2653.3,1907.5 2655.3,1906.8 2657.3,1906.5 2659.3,1906.4 2661.3,1906.6 2663.3,1907.0 2665.3,1907.7 2667.3,1908.6 2669.3,1909.9 2671.3,1911.3 2673.3,1913.0 2675.3,1915.0 2677.3,1917.1 2679.3,1919.5 2681.3,1922.2 2683.3,1925.0 2685.3,1928.1 2687.3,1931.3 2689.3,1934.8 2691.3,1938.4 2693.3,1942.2 2695.3,1946.2 2697.3,1950.3 2699.3,1954.5 2701.3,1958.9 2703.3,1963.4 2705.3,1968.0 2707.3,1972.7 2709.3,1977.5 2711.3,1982.4 2713.3,1987.3 2715.3,1992.3 2717.3,1997.4 2719.3,2002.5 2721.3,2007.6 2723.3,2012.8 2725.3,2017.9 2727.3,2023.1 2729.3,2028.2 2731.3,2033.4 2733.3,2038.5 2735.3,2043.6 2737.3,2048.6 2739.3,2053.7 2741.3,2058.6 2743.3,2063.5 2745.3,2068.4 2747.3,2073.1 2749.3,2077.8 2751.3,2082.4 2753.3,2087.0 2755.3,2091.4 2757.3,2095.8 2759.3,2100.1 2761.3,2104.2 2763.3,2108.3 2765.3,2112.3 2767.3,2116.1 2769.3,2119.9 2771.3,2123.6 2773.3,2127.1 2775.3,2130.5 2777.3,2133.9 2779.3,2137.1 2781.3,2140.2 2783.3,2143.2 2785.3,2146.1 2787.3,2148.9 2789.3,2151.6 2791.3,2154.2 2793.3,2156.7 2795.3,2159.1 2797.3,2161.4 2799.3,2163.6 2801.3,2165.7 2803.3,2167.7 2805.3,2169.6 2807.3,2171.4 2809.3,2173.1 2811.3,2174.8 2813.3,2176.4 2815.3,2177.9 2817.3,2179.3 2819.3,2180.7 2821.3,2181.9 2823.3,2183.2 2825.3,2184.3 2827.3,2185.4 2829.3,2186.4 2831.3,2187.4 2833.3,2188.3 2835.3,2189.2 2837.3,2190.0 2839.3,2190.8 2841.3,2191.5 2843.3,2192.2 2845.3,2192.8 2847.3,2193.4 2849.3,2194.0 2851.3,2194.5 2853.3,2195.0 2855.3,2195.4 2857.3,2195.9 2859.3,2196.3 2861.3,2196.7 2863.3,2197.0 2865.3,2197.3 2867.3,2197.7 2869.3,2197.9 2871.3,2198.2 2873.3,2198.5 2875.3,2198.7 2877.3,2198.9 2879.3,2199.1 2881.3,2199.3 2883.3,2199.5 2885.3,2199.7 2887.3,2199.8 2889.3,2200.0 2891.3,2200.1 2893.3,2200.2 2895.3,2200.4 2897.3,2200.5 2899.3,2200.6 2901.3,2200.7 2903.3,2200.8 2905.3,2200.9 2907.3,2200.9 2909.3,2201.0 2911.3,2201.1 2913.3,2201.2 2915.3,2201.2 2917.3,2201.3 2919.3,2201.3 2921.3,2201.4 2923.3,2201.4 2925.3,2201.5 2927.3,2201.5 2929.3,2201.6 2931.3,2201.6 2933.3,2201.7 2935.3,2201.7 2937.3,2201.7 2939.3,2201.8 2941.3,2201.8 2943.3,2201.8 2945.3,2201.9 2947.3,2201.9 2949.3,2201.9 2951.3,2202.0 2953.3,2202.0 2955.3,2202.0 2957.3,2202.0 2959.3,2202.1 2961.3,2202.1 2963.3,2202.1 2965.3,2202.1 2967.3,2202.2 2969.3,2202.2 2971.3,2202.2 2973.3,2202.2 2975.3,2202.2 2977.3,2202.3 2979.3,2202.3 2981.3,2202.3 2983.3,2202.3 2985.3,2202.3 2987.3,2202.4 2989.3,2202.4 2991.3,2202.4 2993.3,2202.4 2995.3,2202.4 2997.3,2202.5 2999.3,2202.5 3001.3,2202.5 3003.3,2202.5 3005.3,2202.5 3007.3,2202.5 3009.3,2202.5 3011.3,2202.6 3013.3,2202.6 3015.3,2202.6 3017.3,2202.6 3019.3,2202.6 3021.3,2202.6 3023.3,2202.6 3025.3,2202.7 3027.3,2202.7 3029.3,2202.7 3031.3,2202.7 3033.3,2202.7 3035.3,2202.7 3037.3,2202.7 3039.3,2202.7 3041.3,2202.8 3043.3,2202.8 3045.3,2202.8 3047.3,2202.8 3049.2,2202.8"/>
<polyline fill="none" stroke="#A07AB7" stroke-width="14.0" stroke-linejoin="round" stroke-linecap="butt" points="1801.3,2202.7 1803.3,2202.7 1805.3,2202.7 1807.3,2202.7 1809.3,2202.7 1811.3,2202.7 1813.3,2202.7 1815.3,2202.7 1817.3,2202.7 1819.3,2202.6 1821.3,2202.6 1823.3,2202.6 1825.3,2202.6 1827.3,2202.6 1829.3,2202.6 1831.3,2202.6 1833.3,2202.6 1835.3,2202.6 1837.3,2202.5 1839.3,2202.5 1841.3,2202.5 1843.3,2202.5 1845.3,2202.5 1847.3,2202.5 1849.3,2202.5 1851.3,2202.5 1853.3,2202.4 1855.3,2202.4 1857.3,2202.4 1859.3,2202.4 1861.3,2202.4 1863.3,2202.4 1865.3,2202.4 1867.3,2202.3 1869.3,2202.3 1871.3,2202.3 1873.3,2202.3 1875.3,2202.3 1877.3,2202.3 1879.3,2202.3 1881.3,2202.2 1883.3,2202.2 1885.3,2202.2 1887.3,2202.2 1889.3,2202.2 1891.3,2202.2 1893.3,2202.1 1895.3,2202.1 1897.3,2202.1 1899.3,2202.1 1901.3,2202.1 1903.3,2202.1 1905.3,2202.0 1907.3,2202.0 1909.3,2202.0 1911.3,2202.0 1913.3,2202.0 1915.3,2201.9 1917.3,2201.9 1919.3,2201.9 1921.3,2201.9 1923.3,2201.9 1925.3,2201.8 1927.3,2201.8 1929.3,2201.8 1931.3,2201.8 1933.3,2201.7 1935.3,2201.7 1937.3,2201.7 1939.3,2201.7 1941.3,2201.6 1943.3,2201.6 1945.3,2201.6 1947.3,2201.6 1949.3,2201.5 1951.3,2201.5 1953.3,2201.5 1955.3,2201.5 1957.3,2201.4 1959.3,2201.4 1961.3,2201.4 1963.3,2201.3 1965.3,2201.3 1967.3,2201.3 1969.3,2201.2 1971.3,2201.2 1973.3,2201.2 1975.3,2201.1 1977.3,2201.1 1979.3,2201.1 1981.3,2201.0 1983.3,2201.0 1985.3,2201.0 1987.3,2200.9 1989.3,2200.9 1991.3,2200.8 1993.3,2200.8 1995.3,2200.8 1997.3,2200.7 1999.3,2200.7 2001.3,2200.6 2003.3,2200.6 2005.3,2200.5 2007.3,2200.5 2009.3,2200.4 2011.3,2200.4 2013.3,2200.3 2015.3,2200.2 2017.3,2200.2 2019.3,2200.1 2021.3,2200.0 2023.3,2200.0 2025.3,2199.9 2027.3,2199.8 2029.3,2199.7 2031.3,2199.6 2033.3,2199.5 2035.3,2199.4 2037.3,2199.3 2039.3,2199.2 2041.3,2199.1 2043.3,2199.0 2045.3,2198.8 2047.3,2198.7 2049.3,2198.5 2051.3,2198.4 2053.3,2198.2 2055.3,2198.0 2057.3,2197.8 2059.3,2197.6 2061.3,2197.4 2063.3,2197.1 2065.3,2196.9 2067.3,2196.6 2069.3,2196.3 2071.3,2195.9 2073.3,2195.6 2075.3,2195.2 2077.3,2194.8 2079.3,2194.4 2081.3,2193.9 2083.3,2193.4 2085.3,2192.9 2087.3,2192.3 2089.3,2191.7 2091.3,2191.1 2093.3,2190.4 2095.3,2189.6 2097.3,2188.8 2099.3,2187.9 2101.3,2187.0 2103.3,2186.0 2105.3,2185.0 2107.3,2183.8 2109.3,2182.6 2111.3,2181.4 2113.3,2180.0 2115.3,2178.6 2117.3,2177.0 2119.3,2175.4 2121.3,2173.7 2123.3,2171.8 2125.3,2169.9 2127.3,2167.8 2129.3,2165.6 2131.3,2163.3 2133.3,2160.9 2135.3,2158.3 2137.3,2155.6 2139.3,2152.7 2141.3,2149.7 2143.3,2146.6 2145.3,2143.3 2147.3,2139.8 2149.3,2136.1 2151.3,2132.3 2153.3,2128.3 2155.3,2124.2 2157.3,2119.8 2159.3,2115.3 2161.3,2110.5 2163.3,2105.6 2165.3,2100.5 2167.3,2095.2 2169.3,2089.7 2171.3,2084.0 2173.3,2078.1 2175.3,2072.0 2177.3,2065.7 2179.3,2059.2 2181.3,2052.6 2183.3,2045.7 2185.3,2038.6 2187.3,2031.4 2189.3,2024.0 2191.3,2016.4 2193.3,2008.6 2195.3,2000.7 2197.3,1992.6 2199.3,1984.4 2201.3,1976.0 2203.3,1967.5 2205.3,1958.9 2207.3,1950.1 2209.3,1941.3 2211.3,1932.4 2213.3,1923.4 2215.3,1914.4 2217.3,1905.3 2219.3,1896.2 2221.3,1887.0 2223.3,1877.9 2225.3,1868.8 2227.3,1859.7 2229.3,1850.7 2231.3,1841.8 2233.3,1832.9 2235.3,1824.2 2237.3,1815.5 2239.3,1807.0 2241.3,1798.7 2243.3,1790.6 2245.3,1782.7 2247.3,1775.0 2249.3,1767.5 2251.3,1760.3 2253.3,1753.4 2255.3,1746.8 2257.3,1740.5 2259.3,1734.6 2261.3,1729.0 2263.3,1723.7 2265.3,1718.9 2267.3,1714.4 2269.3,1710.4 2271.3,1706.8 2273.3,1703.6 2275.3,1700.9 2277.3,1698.6 2279.3,1696.8 2281.3,1695.5 2283.3,1694.6 2285.3,1694.2 2287.3,1694.3 2289.3,1694.9 2291.3,1695.9 2293.3,1697.5 2295.3,1699.5 2297.3,1701.9 2299.3,1704.8 2301.3,1708.2 2303.3,1711.9 2305.3,1716.1 2307.3,1720.8 2309.3,1725.8 2311.3,1731.1 2313.3,1736.9 2315.3,1743.0 2317.3,1749.4 2319.3,1756.1 2321.3,1763.2 2323.3,1770.5 2325.3,1778.0 2327.3,1785.8 2329.3,1793.8 2331.3,1802.0 2333.3,1810.4 2335.3,1819.0 2337.3,1827.6 2339.3,1836.4 2341.3,1845.3 2343.3,1854.3 2345.3,1863.4 2347.3,1872.5 2349.3,1881.6 2351.3,1890.7 2353.3,1899.8 2355.3,1908.9 2357.3,1918.0 2359.3,1927.0 2361.3,1936.0 2363.3,1944.9 2365.3,1953.7 2367.3,1962.3 2369.3,1970.9 2371.3,1979.4 2373.3,1987.7 2375.3,1995.9 2377.3,2003.9 2379.3,2011.7 2381.3,2019.4 2383.3,2027.0 2385.3,2034.3 2387.3,2041.5 2389.3,2048.5 2391.3,2055.3 2393.3,2061.9 2395.3,2068.3 2397.3,2074.5 2399.3,2080.5 2401.3,2086.3 2403.3,2091.9 2405.3,2097.4 2407.3,2102.6 2409.3,2107.6 2411.3,2112.5 2413.3,2117.1 2415.3,2121.6 2417.3,2125.8 2419.3,2129.9 2421.3,2133.9 2423.3,2137.6 2425.3,2141.2 2427.3,2144.6 2429.3,2147.9 2431.3,2151.0 2433.3,2153.9 2435.3,2156.7 2437.3,2159.4 2439.3,2161.9 2441.3,2164.3 2443.3,2166.5 2445.3,2168.6 2447.3,2170.7 2449.3,2172.6 2451.3,2174.4 2453.3,2176.1 2455.3,2177.7 2457.3,2179.2 2459.3,2180.6 2461.3,2181.9 2463.3,2183.1 2465.3,2184.3 2467.3,2185.4 2469.3,2186.4 2471.3,2187.4 2473.3,2188.3 2475.3,2189.1 2477.3,2189.9 2479.3,2190.6 2481.3,2191.3 2483.3,2192.0 2485.3,2192.6 2487.3,2193.1 2489.3,2193.6 2491.3,2194.1 2493.3,2194.6 2495.3,2195.0 2497.3,2195.4 2499.3,2195.7 2501.3,2196.1 2503.3,2196.4 2505.3,2196.7 2507.3,2197.0 2509.3,2197.2 2511.3,2197.5 2513.3,2197.7 2515.3,2197.9 2517.3,2198.1 2519.3,2198.3 2521.3,2198.4 2523.3,2198.6 2525.3,2198.7 2527.3,2198.9 2529.3,2199.0 2531.3,2199.1 2533.3,2199.3 2535.3,2199.4 2537.3,2199.5 2539.3,2199.6 2541.3,2199.7 2543.3,2199.7 2545.3,2199.8 2547.3,2199.9 2549.3,2200.0 2551.3,2200.1 2553.3,2200.1 2555.3,2200.2 2557.3,2200.3 2559.3,2200.3 2561.3,2200.4 2563.3,2200.4 2565.3,2200.5 2567.3,2200.5 2569.3,2200.6 2571.3,2200.6 2573.3,2200.7 2575.3,2200.7 2577.3,2200.8 2579.3,2200.8 2581.3,2200.9 2583.3,2200.9 2585.3,2200.9 2587.3,2201.0 2589.3,2201.0 2591.3,2201.1 2593.3,2201.1 2595.3,2201.1 2597.3,2201.2 2599.3,2201.2 2601.3,2201.2 2603.3,2201.3 2605.3,2201.3 2607.3,2201.3 2609.3,2201.4 2611.3,2201.4 2613.3,2201.4 2615.3,2201.4 2617.3,2201.5 2619.3,2201.5 2621.3,2201.5 2623.3,2201.6 2625.3,2201.6 2627.3,2201.6 2629.3,2201.6 2631.3,2201.7 2633.3,2201.7 2635.3,2201.7 2637.3,2201.7 2639.3,2201.8 2641.3,2201.8 2643.3,2201.8 2645.3,2201.8 2647.3,2201.8 2649.3,2201.9 2651.3,2201.9 2653.3,2201.9 2655.3,2201.9 2657.3,2201.9 2659.3,2202.0 2661.3,2202.0 2663.3,2202.0 2665.3,2202.0 2667.3,2202.0 2669.3,2202.1 2671.3,2202.1 2673.3,2202.1 2675.3,2202.1 2677.3,2202.1 2679.3,2202.1 2681.3,2202.2 2683.3,2202.2 2685.3,2202.2 2687.3,2202.2 2689.3,2202.2 2691.3,2202.2 2693.3,2202.3 2695.3,2202.3 2697.3,2202.3 2699.3,2202.3 2701.3,2202.3 2703.3,2202.3 2705.3,2202.4 2707.3,2202.4 2709.3,2202.4 2711.3,2202.4 2713.3,2202.4 2715.3,2202.4 2717.3,2202.4 2719.3,2202.4 2721.3,2202.5 2723.3,2202.5 2725.3,2202.5 2727.3,2202.5 2729.3,2202.5 2731.3,2202.5 2733.3,2202.5 2735.3,2202.5 2737.3,2202.6 2739.3,2202.6 2741.3,2202.6 2743.3,2202.6 2745.3,2202.6 2747.3,2202.6 2749.3,2202.6 2751.3,2202.6 2753.3,2202.6 2755.3,2202.7 2757.3,2202.7 2759.3,2202.7 2761.3,2202.7 2763.3,2202.7 2765.3,2202.7 2767.3,2202.7 2769.3,2202.7 2771.3,2202.7 2773.3,2202.7 2775.3,2202.8 2777.3,2202.8 2779.3,2202.8 2781.3,2202.8 2783.3,2202.8 2785.3,2202.8 2787.3,2202.8 2789.3,2202.8 2791.3,2202.8 2793.3,2202.8 2795.3,2202.8 2797.3,2202.8 2799.3,2202.9 2801.3,2202.9 2803.3,2202.9 2805.3,2202.9 2807.3,2202.9 2809.3,2202.9 2811.3,2202.9 2813.3,2202.9 2815.3,2202.9 2817.3,2202.9 2819.3,2202.9 2821.3,2202.9 2823.3,2202.9 2825.3,2203.0 2827.3,2203.0 2829.3,2203.0 2831.3,2203.0 2833.3,2203.0 2835.3,2203.0 2837.3,2203.0 2839.3,2203.0 2841.3,2203.0 2843.3,2203.0 2845.3,2203.0 2847.3,2203.0 2849.3,2203.0 2851.3,2203.0 2853.3,2203.0 2855.3,2203.0 2857.3,2203.1 2859.3,2203.1 2861.3,2203.1 2863.3,2203.1 2865.3,2203.1 2867.3,2203.1 2869.3,2203.1 2871.3,2203.1 2873.3,2203.1 2875.3,2203.1 2877.3,2203.1 2879.3,2203.1 2881.3,2203.1 2883.3,2203.1 2885.3,2203.1 2887.3,2203.1 2889.3,2203.1 2891.3,2203.1 2893.3,2203.1 2895.3,2203.2 2897.3,2203.2 2899.3,2203.2 2901.3,2203.2 2903.3,2203.2 2905.3,2203.2 2907.3,2203.2 2909.3,2203.2 2911.3,2203.2 2913.3,2203.2 2915.3,2203.2 2917.3,2203.2 2919.3,2203.2 2921.3,2203.2 2923.3,2203.2 2925.3,2203.2 2927.3,2203.2 2929.3,2203.2 2931.3,2203.2 2933.3,2203.2 2935.3,2203.2 2937.3,2203.2 2939.3,2203.2 2941.3,2203.3 2943.3,2203.3 2945.3,2203.3 2947.3,2203.3 2949.3,2203.3 2951.3,2203.3 2953.3,2203.3 2955.3,2203.3 2957.3,2203.3 2959.3,2203.3 2961.3,2203.3 2963.3,2203.3 2965.3,2203.3 2967.3,2203.3 2969.3,2203.3 2971.3,2203.3 2973.3,2203.3 2975.3,2203.3 2977.3,2203.3 2979.3,2203.3 2981.3,2203.3 2983.3,2203.3 2985.3,2203.3 2987.3,2203.3 2989.3,2203.3 2991.3,2203.3 2993.3,2203.3 2995.3,2203.3 2997.3,2203.4 2999.3,2203.4 3001.3,2203.4 3003.3,2203.4 3005.3,2203.4 3007.3,2203.4 3009.3,2203.4 3011.3,2203.4 3013.3,2203.4 3015.3,2203.4 3017.3,2203.4 3019.3,2203.4 3021.3,2203.4 3023.3,2203.4 3025.3,2203.4 3027.3,2203.4 3029.3,2203.4 3031.3,2203.4 3033.3,2203.4 3035.3,2203.4 3037.3,2203.4 3039.3,2203.4 3041.3,2203.4 3043.3,2203.4 3045.3,2203.4 3047.3,2203.4 3049.2,2203.4"/>
</g>
<g id="axes">
<rect x="199.5" y="70.5" width="1393.0" height="1068.0" fill="none" stroke="#050708" stroke-width="9"/>
<text transform="translate(199.50,1229.8) scale(1,1.035)" font-size="73" text-anchor="middle">840</text>
<text transform="translate(478.10,1229.8) scale(1,1.035)" font-size="73" text-anchor="middle">850</text>
<text transform="translate(756.70,1229.8) scale(1,1.035)" font-size="73" text-anchor="middle">860</text>
<text transform="translate(1035.30,1229.8) scale(1,1.035)" font-size="73" text-anchor="middle">870</text>
<text transform="translate(1313.90,1229.8) scale(1,1.035)" font-size="73" text-anchor="middle">880</text>
<text transform="translate(1592.50,1229.8) scale(1,1.035)" font-size="73" text-anchor="middle">890</text>
<path d="M199.50,1138.5v21.5M338.80,1138.5v10.5M478.10,1138.5v21.5M617.40,1138.5v10.5M756.70,1138.5v21.5M896.00,1138.5v10.5M1035.30,1138.5v21.5M1174.60,1138.5v10.5M1313.90,1138.5v21.5M1453.20,1138.5v10.5M1592.50,1138.5v21.5" stroke="#050708" stroke-width="9" fill="none"/>
<rect x="1715.5" y="70.5" width="1393.0" height="1067.3" fill="none" stroke="#050708" stroke-width="9"/>
<text transform="translate(1715.50,1229.8) scale(1,1.035)" font-size="73" text-anchor="middle">520</text>
<text transform="translate(1947.67,1229.8) scale(1,1.035)" font-size="73" text-anchor="middle">525</text>
<text transform="translate(2179.83,1229.8) scale(1,1.035)" font-size="73" text-anchor="middle">530</text>
<text transform="translate(2412.00,1229.8) scale(1,1.035)" font-size="73" text-anchor="middle">535</text>
<text transform="translate(2644.17,1229.8) scale(1,1.035)" font-size="73" text-anchor="middle">540</text>
<text transform="translate(2876.33,1229.8) scale(1,1.035)" font-size="73" text-anchor="middle">545</text>
<text transform="translate(3108.50,1229.8) scale(1,1.035)" font-size="73" text-anchor="middle">550</text>
<path d="M1715.50,1137.8v21.5M1831.58,1137.8v10.5M1947.67,1137.8v21.5M2063.75,1137.8v10.5M2179.83,1137.8v21.5M2295.92,1137.8v10.5M2412.00,1137.8v21.5M2528.08,1137.8v10.5M2644.17,1137.8v21.5M2760.25,1137.8v10.5M2876.33,1137.8v21.5M2992.42,1137.8v10.5M3108.50,1137.8v21.5" stroke="#050708" stroke-width="9" fill="none"/>
<rect x="199.5" y="1276.5" width="1393.0" height="1067.0" fill="none" stroke="#050708" stroke-width="9"/>
<text transform="translate(199.50,2435.8) scale(1,1.035)" font-size="73" text-anchor="middle">930</text>
<text transform="translate(547.75,2435.8) scale(1,1.035)" font-size="73" text-anchor="middle">940</text>
<text transform="translate(896.00,2435.8) scale(1,1.035)" font-size="73" text-anchor="middle">950</text>
<text transform="translate(1244.25,2435.8) scale(1,1.035)" font-size="73" text-anchor="middle">960</text>
<text transform="translate(1592.50,2435.8) scale(1,1.035)" font-size="73" text-anchor="middle">970</text>
<path d="M199.50,2343.5v21.5M373.62,2343.5v10.5M547.75,2343.5v21.5M721.88,2343.5v10.5M896.00,2343.5v21.5M1070.12,2343.5v10.5M1244.25,2343.5v21.5M1418.38,2343.5v10.5M1592.50,2343.5v21.5" stroke="#050708" stroke-width="9" fill="none"/>
<rect x="1715.5" y="1276.5" width="1393.0" height="1067.0" fill="none" stroke="#050708" stroke-width="9"/>
<text transform="translate(1715.50,2435.8) scale(1,1.035)" font-size="73" text-anchor="middle">705</text>
<text transform="translate(1947.67,2435.8) scale(1,1.035)" font-size="73" text-anchor="middle">710</text>
<text transform="translate(2179.83,2435.8) scale(1,1.035)" font-size="73" text-anchor="middle">715</text>
<text transform="translate(2412.00,2435.8) scale(1,1.035)" font-size="73" text-anchor="middle">720</text>
<text transform="translate(2644.17,2435.8) scale(1,1.035)" font-size="73" text-anchor="middle">725</text>
<text transform="translate(2876.33,2435.8) scale(1,1.035)" font-size="73" text-anchor="middle">730</text>
<text transform="translate(3108.50,2435.8) scale(1,1.035)" font-size="73" text-anchor="middle">735</text>
<path d="M1715.50,2343.5v21.5M1831.58,2343.5v10.5M1947.67,2343.5v21.5M2063.75,2343.5v10.5M2179.83,2343.5v21.5M2295.92,2343.5v10.5M2412.00,2343.5v21.5M2528.08,2343.5v10.5M2644.17,2343.5v21.5M2760.25,2343.5v10.5M2876.33,2343.5v21.5M2992.42,2343.5v10.5M3108.50,2343.5v21.5" stroke="#050708" stroke-width="9" fill="none"/>
</g>
<g id="labels">
<text x="236.5" y="187.5" font-size="101" text-anchor="start"><tspan dy="-0.0" font-size="101">(a</tspan><tspan dx="6" dy="0.0" font-size="101">)</tspan></text>
<text x="1759" y="188.5" font-size="101" text-anchor="start"><tspan dy="-0.0" font-size="101">(b</tspan><tspan dx="6" dy="0.0" font-size="101">)</tspan></text>
<text x="233.5" y="1410" font-size="101" text-anchor="start"><tspan dy="-0.0" font-size="101">(c</tspan><tspan dx="6" dy="0.0" font-size="101">)</tspan></text>
<text x="1747" y="1394.5" font-size="101" text-anchor="start"><tspan dy="-0.0" font-size="101">(d</tspan><tspan dx="6" dy="0.0" font-size="101">)</tspan></text>
<text transform="translate(141.8,850) rotate(-90)" font-size="82.5" text-anchor="start">Intensity (a. u.)</text>
<text transform="translate(1678.4,891.6) rotate(-90)" font-size="82.5" text-anchor="start">Intensity (a. u.)</text>
<text transform="translate(134,2027.6) rotate(-90)" font-size="82.5" text-anchor="start">Intensity (a. u.)</text>
<text transform="translate(1682.4,2073.1) rotate(-90)" font-size="82.5" text-anchor="start">Intensity (a. u.)</text>
<text x="538.5" y="2533.6" font-size="82.5" text-anchor="start"><tspan dy="-0.0" font-size="82.5">Binding energy (ev)</tspan></text>
<text x="2127" y="2553.2" font-size="82.5" text-anchor="start"><tspan dy="-0.0" font-size="82.5">Binding energy (ev)</tspan></text>
<text x="552.5" y="322" font-size="70.5" text-anchor="start"><tspan dy="-0.0" font-size="70.5">Ni 2p</tspan><tspan dx="5" dy="20.0" font-size="48.6">3/2</tspan></text>
<text x="1073.3" y="476.6" font-size="70.5" text-anchor="start"><tspan dy="-0.0" font-size="70.5">Ni 2p</tspan><tspan dx="5" dy="20.0" font-size="48.6">1/2</tspan></text>
<text x="1744" y="407.7" font-size="72" text-anchor="start"><tspan dy="-0.0" font-size="72">Lattice oxygen</tspan></text>
<text x="2243.3" y="345.8" font-size="72" text-anchor="start"><tspan dy="-0.0" font-size="72">Oxygen vacancy</tspan></text>
<text x="2435.5" y="662.3" font-size="82.3" text-anchor="start"><tspan dy="-0.0" font-size="82.3">Adsorbed oxygen</tspan></text>
<line x1="1929.8" y1="452.4" x2="2182.3" y2="767.6" stroke="#050708" stroke-width="12"/>
<polygon points="2230.8,828.1 2164.2,777.0 2195.5,752.0" fill="#050708"/>
<line x1="2485.4" y1="398.1" x2="2371.7" y2="593.0" stroke="#050708" stroke-width="12"/>
<polygon points="2332.7,659.9 2356.5,579.4 2391.0,599.6" fill="#050708"/>
<line x1="2613.7" y1="691.6" x2="2436.1" y2="797.8" stroke="#050708" stroke-width="12"/>
<polygon points="2369.6,837.6 2429.3,778.6 2449.8,812.9" fill="#050708"/>
<text x="240" y="1560.5" font-size="71.5" text-anchor="start"><tspan dy="-0.0" font-size="71.5">Cu</tspan><tspan dx="2" dy="-28.5" font-size="49.3">+</tspan><tspan dx="-1.5" dy="28.5" font-size="71.5"> 2p</tspan><tspan dx="2.5" dy="20.0" font-size="49.3">3/2</tspan></text>
<text x="426.5" y="1666.3" font-size="71.5" text-anchor="start"><tspan dy="-0.0" font-size="71.5">Cu</tspan><tspan dx="2" dy="-28.5" font-size="49.3">2+</tspan><tspan dx="-1.5" dy="28.5" font-size="71.5"> 2p</tspan><tspan dx="2.5" dy="20.0" font-size="49.3">3/2</tspan></text>
<text x="622" y="1791" font-size="72.7" text-anchor="start"><tspan dy="-0.0" font-size="72.7">Satelitte</tspan></text>
<text x="935.3" y="1685.6" font-size="71.5" text-anchor="start"><tspan dy="-0.0" font-size="71.5">Cu</tspan><tspan dx="2" dy="-28.5" font-size="49.3">+</tspan><tspan dx="-1.5" dy="28.5" font-size="71.5"> 2p</tspan><tspan dx="2.5" dy="20.0" font-size="49.3">1/2</tspan></text>
<text x="1139" y="1804.4" font-size="71.5" text-anchor="start"><tspan dy="-0.0" font-size="71.5">Cu</tspan><tspan dx="2" dy="-28.5" font-size="49.3">2+</tspan><tspan dx="-1.5" dy="28.5" font-size="71.5"> 2p</tspan><tspan dx="2.5" dy="20.0" font-size="49.3">1/2</tspan></text>
<text x="1792.5" y="1815.8" font-size="71.5" text-anchor="start"><tspan dy="-0.0" font-size="71.5">Fe</tspan><tspan dx="2" dy="-28.5" font-size="49.3">3+</tspan><tspan dx="-1.5" dy="28.5" font-size="71.5"> 2p</tspan><tspan dx="2.5" dy="20.0" font-size="49.3">3/2</tspan></text>
<text x="2171.5" y="1641.5" font-size="72.5" text-anchor="start"><tspan dy="-0.0" font-size="72.5">Satelitte</tspan></text>
<text x="2512.7" y="1880.8" font-size="71.5" text-anchor="start"><tspan dy="-0.0" font-size="71.5">Fe</tspan><tspan dx="2" dy="-28.5" font-size="49.3">3+</tspan><tspan dx="-1.5" dy="28.5" font-size="71.5"> 2p</tspan><tspan dx="2.5" dy="20.0" font-size="49.3">1/2</tspan></text>
</g>
</svg>
</body></html>
